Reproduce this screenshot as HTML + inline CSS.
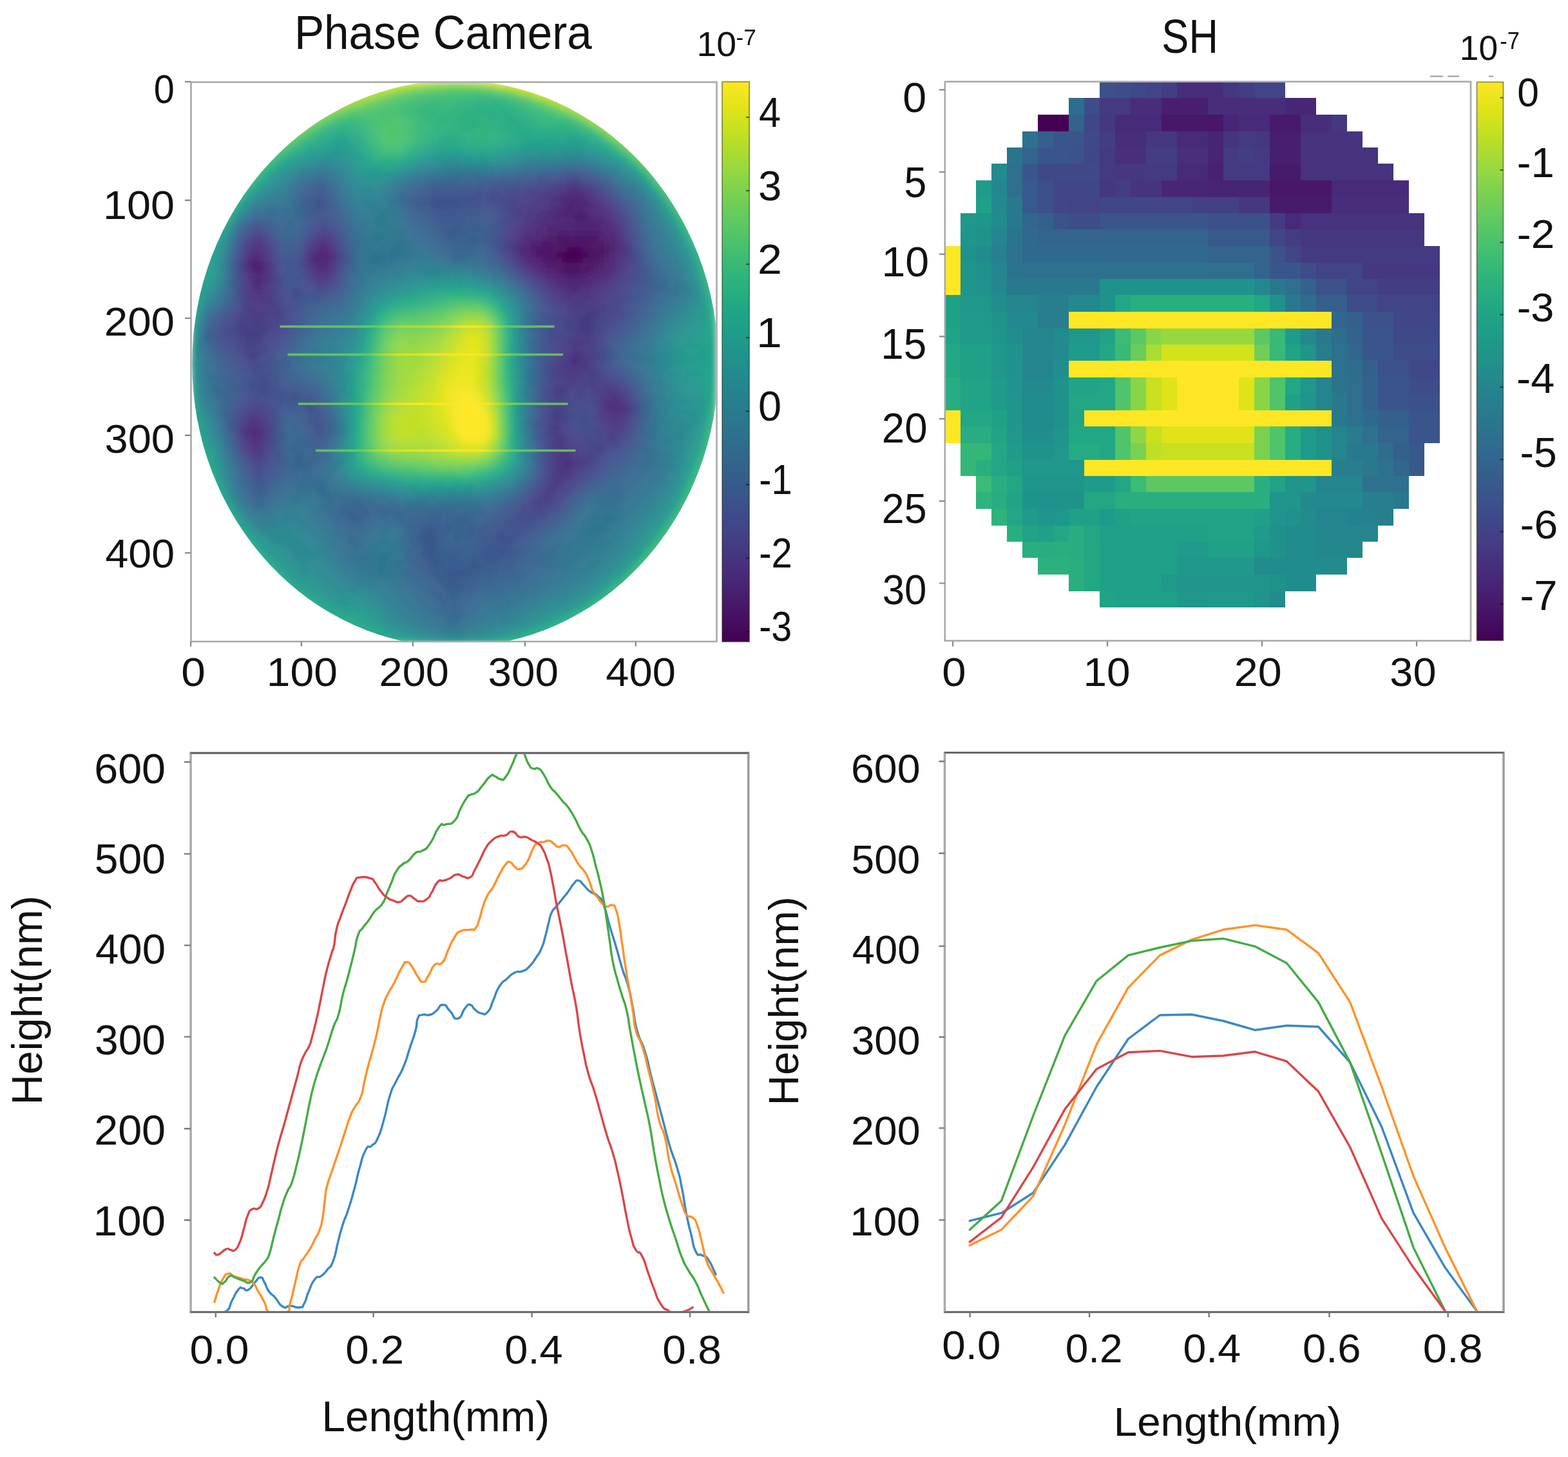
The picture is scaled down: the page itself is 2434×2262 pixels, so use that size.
<!DOCTYPE html><html><head><meta charset="utf-8"><title>Phase Camera vs SH</title><style>html,body{margin:0;padding:0;background:#fff;overflow:hidden}svg{display:block}text{font-family:"Liberation Sans",Arial,sans-serif;fill:#111}</style></head><body>
<svg width="2434" height="2262" viewBox="0 0 2434 2262">
<defs>
<clipPath id="pcClip"><ellipse cx="706.7" cy="564.5" rx="408.5" ry="439.8"/></clipPath>
<clipPath id="pcRect"><rect x="297.5" y="128.5" width="814" height="866.5"/></clipPath>
<filter id="blur" x="-5%" y="-5%" width="110%" height="110%"><feGaussianBlur stdDeviation="5"/></filter>
<linearGradient id="vir" x1="0" y1="0" x2="0" y2="1"><stop offset="0.000" stop-color="#fde725"/><stop offset="0.050" stop-color="#dfe318"/><stop offset="0.100" stop-color="#bddf26"/><stop offset="0.150" stop-color="#9bd93c"/><stop offset="0.200" stop-color="#7ad151"/><stop offset="0.250" stop-color="#5ec962"/><stop offset="0.300" stop-color="#44bf70"/><stop offset="0.350" stop-color="#2fb47c"/><stop offset="0.400" stop-color="#22a884"/><stop offset="0.450" stop-color="#1e9c89"/><stop offset="0.500" stop-color="#21918c"/><stop offset="0.550" stop-color="#25848e"/><stop offset="0.600" stop-color="#2a788e"/><stop offset="0.650" stop-color="#2f6c8e"/><stop offset="0.700" stop-color="#355f8d"/><stop offset="0.750" stop-color="#3b528b"/><stop offset="0.800" stop-color="#414487"/><stop offset="0.850" stop-color="#463480"/><stop offset="0.900" stop-color="#482475"/><stop offset="0.950" stop-color="#471365"/><stop offset="1.000" stop-color="#440154"/></linearGradient>
<linearGradient id="pl0" gradientUnits="userSpaceOnUse" x1="434.5" y1="0" x2="860.5" y2="0"><stop offset="0.000" stop-color="#6ece58"/><stop offset="0.059" stop-color="#6ece58"/><stop offset="0.118" stop-color="#6ece58"/><stop offset="0.176" stop-color="#6ece58"/><stop offset="0.235" stop-color="#6ece58"/><stop offset="0.294" stop-color="#6ece58"/><stop offset="0.353" stop-color="#6ece58"/><stop offset="0.412" stop-color="#a5db36"/><stop offset="0.471" stop-color="#bade28"/><stop offset="0.529" stop-color="#c0df25"/><stop offset="0.588" stop-color="#d2e21b"/><stop offset="0.647" stop-color="#f4e61e"/><stop offset="0.706" stop-color="#fde725"/><stop offset="0.765" stop-color="#e5e419"/><stop offset="0.824" stop-color="#6ece58"/><stop offset="0.882" stop-color="#6ece58"/><stop offset="0.941" stop-color="#6ece58"/><stop offset="1.000" stop-color="#6ece58"/></linearGradient>
<linearGradient id="pl1" gradientUnits="userSpaceOnUse" x1="446.5" y1="0" x2="874" y2="0"><stop offset="0.000" stop-color="#6ece58"/><stop offset="0.059" stop-color="#6ece58"/><stop offset="0.118" stop-color="#6ece58"/><stop offset="0.176" stop-color="#6ece58"/><stop offset="0.235" stop-color="#6ece58"/><stop offset="0.294" stop-color="#6ece58"/><stop offset="0.353" stop-color="#bade28"/><stop offset="0.412" stop-color="#e5e419"/><stop offset="0.471" stop-color="#ece51b"/><stop offset="0.529" stop-color="#fbe723"/><stop offset="0.588" stop-color="#fde725"/><stop offset="0.647" stop-color="#fde725"/><stop offset="0.706" stop-color="#fde725"/><stop offset="0.765" stop-color="#bade28"/><stop offset="0.824" stop-color="#6ece58"/><stop offset="0.882" stop-color="#6ece58"/><stop offset="0.941" stop-color="#6ece58"/><stop offset="1.000" stop-color="#6ece58"/></linearGradient>
<linearGradient id="pl2" gradientUnits="userSpaceOnUse" x1="463" y1="0" x2="881.5" y2="0"><stop offset="0.000" stop-color="#6ece58"/><stop offset="0.059" stop-color="#6ece58"/><stop offset="0.118" stop-color="#6ece58"/><stop offset="0.176" stop-color="#6ece58"/><stop offset="0.235" stop-color="#6ece58"/><stop offset="0.294" stop-color="#b8de29"/><stop offset="0.353" stop-color="#efe51c"/><stop offset="0.412" stop-color="#fde725"/><stop offset="0.471" stop-color="#fde725"/><stop offset="0.529" stop-color="#fde725"/><stop offset="0.588" stop-color="#fde725"/><stop offset="0.647" stop-color="#fde725"/><stop offset="0.706" stop-color="#fde725"/><stop offset="0.765" stop-color="#98d83e"/><stop offset="0.824" stop-color="#6ece58"/><stop offset="0.882" stop-color="#6ece58"/><stop offset="0.941" stop-color="#6ece58"/><stop offset="1.000" stop-color="#6ece58"/></linearGradient>
<linearGradient id="pl3" gradientUnits="userSpaceOnUse" x1="490" y1="0" x2="893.5" y2="0"><stop offset="0.000" stop-color="#6ece58"/><stop offset="0.059" stop-color="#6ece58"/><stop offset="0.118" stop-color="#6ece58"/><stop offset="0.176" stop-color="#6ece58"/><stop offset="0.235" stop-color="#b2dd2d"/><stop offset="0.294" stop-color="#dfe318"/><stop offset="0.353" stop-color="#ece51b"/><stop offset="0.412" stop-color="#efe51c"/><stop offset="0.471" stop-color="#f8e621"/><stop offset="0.529" stop-color="#fde725"/><stop offset="0.588" stop-color="#fde725"/><stop offset="0.647" stop-color="#fde725"/><stop offset="0.706" stop-color="#b5de2b"/><stop offset="0.765" stop-color="#6ece58"/><stop offset="0.824" stop-color="#6ece58"/><stop offset="0.882" stop-color="#6ece58"/><stop offset="0.941" stop-color="#6ece58"/><stop offset="1.000" stop-color="#6ece58"/></linearGradient>
</defs>
<rect width="2434" height="2262" fill="#fff"/>
<g clip-path="url(#pcRect)"><g clip-path="url(#pcClip)"><g filter="url(#blur)">
<path fill="#450457" d="M880.5 383.5h24v8h-24zM864.5 391.5h48v8h-48zM872.5 399.5h32v8h-32z"/>
<path fill="#46075a" d="M864.5 383.5h16v8h-16zM904.5 383.5h16v8h-16zM856.5 391.5h8v8h-8zM912.5 391.5h8v8h-8zM856.5 399.5h16v8h-16zM904.5 399.5h16v8h-16zM872.5 407.5h32v8h-32z"/>
<path fill="#460a5d" d="M864.5 375.5h56v8h-56zM848.5 383.5h16v8h-16zM920.5 383.5h8v8h-8zM848.5 391.5h8v8h-8zM920.5 391.5h8v8h-8zM848.5 399.5h8v8h-8zM920.5 399.5h8v8h-8zM864.5 407.5h8v8h-8zM904.5 407.5h8v8h-8z"/>
<path fill="#470d60" d="M888.5 367.5h24v8h-24zM856.5 375.5h8v8h-8zM920.5 375.5h8v8h-8zM840.5 383.5h8v8h-8zM928.5 383.5h8v8h-8zM840.5 391.5h8v8h-8zM928.5 391.5h8v8h-8zM856.5 407.5h8v8h-8zM912.5 407.5h8v8h-8zM872.5 415.5h32v8h-32z"/>
<path fill="#471063" d="M864.5 367.5h24v8h-24zM912.5 367.5h16v8h-16zM840.5 375.5h16v8h-16zM928.5 375.5h8v8h-8zM832.5 383.5h8v8h-8zM832.5 391.5h8v8h-8zM840.5 399.5h8v8h-8zM928.5 399.5h8v8h-8zM848.5 407.5h8v8h-8zM920.5 407.5h8v8h-8zM864.5 415.5h8v8h-8zM904.5 415.5h16v8h-16z"/>
<path fill="#471365" d="M888.5 359.5h40v8h-40zM848.5 367.5h16v8h-16zM928.5 367.5h8v8h-8zM832.5 375.5h8v8h-8zM936.5 375.5h8v8h-8zM936.5 383.5h8v8h-8zM936.5 391.5h8v8h-8zM832.5 399.5h8v8h-8zM840.5 407.5h8v8h-8zM928.5 407.5h8v8h-8zM856.5 415.5h8v8h-8zM872.5 423.5h32v8h-32z"/>
<path fill="#481769" d="M864.5 359.5h24v8h-24zM928.5 359.5h8v8h-8zM840.5 367.5h8v8h-8zM936.5 367.5h8v8h-8zM824.5 375.5h8v8h-8zM824.5 383.5h8v8h-8zM824.5 391.5h8v8h-8zM936.5 399.5h8v8h-8zM848.5 415.5h8v8h-8zM920.5 415.5h8v8h-8zM864.5 423.5h8v8h-8zM904.5 423.5h8v8h-8z"/>
<path fill="#481a6c" d="M880.5 351.5h56v8h-56zM848.5 359.5h16v8h-16zM936.5 359.5h8v8h-8zM832.5 367.5h8v8h-8zM944.5 375.5h8v8h-8zM816.5 383.5h8v8h-8zM944.5 383.5h8v8h-8zM944.5 391.5h8v8h-8zM496.5 399.5h8v8h-8zM824.5 399.5h8v8h-8zM832.5 407.5h8v8h-8zM936.5 407.5h8v8h-8zM928.5 415.5h8v8h-8zM856.5 423.5h8v8h-8zM912.5 423.5h8v8h-8zM880.5 431.5h16v8h-16z"/>
<path fill="#481c6e" d="M888.5 343.5h40v8h-40zM864.5 351.5h16v8h-16zM936.5 351.5h8v8h-8zM840.5 359.5h8v8h-8zM824.5 367.5h8v8h-8zM944.5 367.5h8v8h-8zM816.5 375.5h8v8h-8zM496.5 391.5h8v8h-8zM816.5 391.5h8v8h-8zM944.5 399.5h8v8h-8zM496.5 407.5h8v8h-8zM840.5 415.5h8v8h-8zM920.5 423.5h8v8h-8zM872.5 431.5h8v8h-8zM896.5 431.5h16v8h-16z"/>
<path fill="#481f70" d="M896.5 319.5h8v8h-8zM888.5 327.5h24v8h-24zM888.5 335.5h32v8h-32zM872.5 343.5h16v8h-16zM928.5 343.5h8v8h-8zM848.5 351.5h16v8h-16zM832.5 359.5h8v8h-8zM944.5 359.5h8v8h-8zM816.5 367.5h8v8h-8zM496.5 383.5h8v8h-8zM952.5 383.5h8v8h-8zM488.5 391.5h8v8h-8zM504.5 391.5h8v8h-8zM392.5 399.5h8v8h-8zM488.5 399.5h8v8h-8zM504.5 399.5h8v8h-8zM816.5 399.5h8v8h-8zM392.5 407.5h16v8h-16zM944.5 407.5h8v8h-8zM392.5 415.5h16v8h-16zM936.5 415.5h8v8h-8zM848.5 423.5h8v8h-8zM928.5 423.5h8v8h-8zM864.5 431.5h8v8h-8zM912.5 431.5h8v8h-8z"/>
<path fill="#482173" d="M888.5 303.5h8v8h-8zM880.5 311.5h32v8h-32zM872.5 319.5h24v8h-24zM904.5 319.5h8v8h-8zM872.5 327.5h16v8h-16zM912.5 327.5h8v8h-8zM872.5 335.5h16v8h-16zM920.5 335.5h16v8h-16zM856.5 343.5h16v8h-16zM936.5 343.5h8v8h-8zM840.5 351.5h8v8h-8zM944.5 351.5h8v8h-8zM824.5 359.5h8v8h-8zM952.5 367.5h8v8h-8zM808.5 375.5h8v8h-8zM952.5 375.5h8v8h-8zM808.5 383.5h8v8h-8zM392.5 391.5h8v8h-8zM808.5 391.5h8v8h-8zM952.5 391.5h8v8h-8zM400.5 399.5h8v8h-8zM488.5 407.5h8v8h-8zM504.5 407.5h8v8h-8zM824.5 407.5h8v8h-8zM832.5 415.5h8v8h-8zM392.5 423.5h16v8h-16zM856.5 431.5h8v8h-8zM920.5 431.5h8v8h-8zM872.5 439.5h32v8h-32z"/>
<path fill="#482475" d="M872.5 303.5h16v8h-16zM896.5 303.5h16v8h-16zM872.5 311.5h8v8h-8zM912.5 311.5h8v8h-8zM864.5 319.5h8v8h-8zM912.5 319.5h8v8h-8zM864.5 327.5h8v8h-8zM920.5 327.5h8v8h-8zM856.5 335.5h16v8h-16zM840.5 343.5h16v8h-16zM832.5 351.5h8v8h-8zM816.5 359.5h8v8h-8zM952.5 359.5h8v8h-8zM808.5 367.5h8v8h-8zM488.5 383.5h8v8h-8zM504.5 383.5h8v8h-8zM400.5 391.5h8v8h-8zM384.5 399.5h8v8h-8zM952.5 399.5h8v8h-8zM384.5 407.5h8v8h-8zM384.5 415.5h8v8h-8zM496.5 415.5h8v8h-8zM944.5 415.5h8v8h-8zM840.5 423.5h8v8h-8zM936.5 423.5h8v8h-8zM392.5 431.5h16v8h-16zM864.5 439.5h8v8h-8zM904.5 439.5h16v8h-16zM392.5 663.5h8v8h-8zM392.5 671.5h8v8h-8z"/>
<path fill="#482677" d="M880.5 295.5h24v8h-24zM864.5 303.5h8v8h-8zM864.5 311.5h8v8h-8zM856.5 319.5h8v8h-8zM920.5 319.5h8v8h-8zM848.5 327.5h16v8h-16zM928.5 327.5h8v8h-8zM848.5 335.5h8v8h-8zM936.5 335.5h8v8h-8zM832.5 343.5h8v8h-8zM944.5 343.5h8v8h-8zM824.5 351.5h8v8h-8zM496.5 375.5h8v8h-8zM392.5 383.5h8v8h-8zM384.5 391.5h8v8h-8zM808.5 399.5h8v8h-8zM408.5 407.5h8v8h-8zM816.5 407.5h8v8h-8zM952.5 407.5h8v8h-8zM408.5 415.5h8v8h-8zM488.5 415.5h8v8h-8zM504.5 415.5h8v8h-8zM384.5 423.5h8v8h-8zM848.5 431.5h8v8h-8zM928.5 431.5h8v8h-8zM392.5 439.5h16v8h-16zM880.5 447.5h24v8h-24zM952.5 631.5h8v8h-8zM392.5 655.5h8v8h-8zM384.5 663.5h8v8h-8zM384.5 671.5h8v8h-8zM392.5 679.5h8v8h-8z"/>
<path fill="#472a7a" d="M872.5 295.5h8v8h-8zM904.5 295.5h8v8h-8zM856.5 303.5h8v8h-8zM912.5 303.5h8v8h-8zM856.5 311.5h8v8h-8zM920.5 311.5h8v8h-8zM848.5 319.5h8v8h-8zM928.5 319.5h8v8h-8zM840.5 327.5h8v8h-8zM936.5 327.5h8v8h-8zM832.5 335.5h16v8h-16zM824.5 343.5h8v8h-8zM816.5 351.5h8v8h-8zM952.5 351.5h8v8h-8zM808.5 359.5h8v8h-8zM504.5 375.5h8v8h-8zM800.5 375.5h8v8h-8zM960.5 375.5h8v8h-8zM400.5 383.5h8v8h-8zM800.5 383.5h8v8h-8zM960.5 383.5h8v8h-8zM480.5 391.5h8v8h-8zM512.5 391.5h8v8h-8zM800.5 391.5h8v8h-8zM960.5 391.5h8v8h-8zM408.5 399.5h8v8h-8zM480.5 399.5h8v8h-8zM512.5 399.5h8v8h-8zM480.5 407.5h8v8h-8zM824.5 415.5h8v8h-8zM952.5 415.5h8v8h-8zM408.5 423.5h8v8h-8zM944.5 423.5h8v8h-8zM384.5 431.5h8v8h-8zM408.5 431.5h8v8h-8zM936.5 431.5h8v8h-8zM856.5 439.5h8v8h-8zM920.5 439.5h8v8h-8zM392.5 447.5h16v8h-16zM872.5 447.5h8v8h-8zM904.5 447.5h8v8h-8zM952.5 615.5h8v8h-8zM944.5 623.5h16v8h-16zM944.5 631.5h8v8h-8zM952.5 639.5h8v8h-8zM384.5 655.5h8v8h-8zM400.5 663.5h8v8h-8zM400.5 671.5h8v8h-8zM384.5 679.5h8v8h-8zM400.5 679.5h8v8h-8zM392.5 687.5h8v8h-8z"/>
<path fill="#472d7b" d="M864.5 295.5h8v8h-8zM848.5 311.5h8v8h-8zM840.5 319.5h8v8h-8zM832.5 327.5h8v8h-8zM824.5 335.5h8v8h-8zM944.5 335.5h8v8h-8zM952.5 343.5h8v8h-8zM800.5 367.5h8v8h-8zM960.5 367.5h8v8h-8zM392.5 375.5h8v8h-8zM488.5 375.5h8v8h-8zM384.5 383.5h8v8h-8zM512.5 383.5h8v8h-8zM408.5 391.5h8v8h-8zM960.5 399.5h8v8h-8zM512.5 407.5h8v8h-8zM496.5 423.5h8v8h-8zM832.5 423.5h8v8h-8zM840.5 431.5h8v8h-8zM384.5 439.5h8v8h-8zM408.5 439.5h8v8h-8zM928.5 439.5h8v8h-8zM864.5 447.5h8v8h-8zM912.5 447.5h8v8h-8zM400.5 455.5h8v8h-8zM888.5 455.5h8v8h-8zM944.5 615.5h8v8h-8zM960.5 623.5h8v8h-8zM960.5 631.5h8v8h-8zM944.5 639.5h8v8h-8zM960.5 639.5h8v8h-8zM952.5 647.5h8v8h-8zM400.5 655.5h8v8h-8zM400.5 687.5h8v8h-8z"/>
<path fill="#472f7d" d="M880.5 287.5h24v8h-24zM856.5 295.5h8v8h-8zM912.5 295.5h8v8h-8zM848.5 303.5h8v8h-8zM920.5 303.5h8v8h-8zM840.5 311.5h8v8h-8zM928.5 311.5h8v8h-8zM832.5 319.5h8v8h-8zM936.5 319.5h8v8h-8zM824.5 327.5h8v8h-8zM816.5 343.5h8v8h-8zM808.5 351.5h8v8h-8zM800.5 359.5h8v8h-8zM960.5 359.5h8v8h-8zM496.5 367.5h8v8h-8zM400.5 375.5h8v8h-8zM480.5 383.5h8v8h-8zM800.5 399.5h8v8h-8zM808.5 407.5h8v8h-8zM960.5 407.5h8v8h-8zM480.5 415.5h8v8h-8zM488.5 423.5h8v8h-8zM504.5 423.5h8v8h-8zM952.5 423.5h8v8h-8zM944.5 431.5h8v8h-8zM848.5 439.5h8v8h-8zM936.5 439.5h8v8h-8zM408.5 447.5h8v8h-8zM856.5 447.5h8v8h-8zM920.5 447.5h8v8h-8zM392.5 455.5h8v8h-8zM872.5 455.5h16v8h-16zM896.5 455.5h24v8h-24zM400.5 463.5h8v8h-8zM944.5 607.5h16v8h-16zM936.5 615.5h8v8h-8zM960.5 615.5h8v8h-8zM936.5 623.5h8v8h-8zM936.5 631.5h8v8h-8zM384.5 647.5h16v8h-16zM944.5 647.5h8v8h-8zM960.5 647.5h8v8h-8zM952.5 655.5h8v8h-8zM376.5 663.5h8v8h-8zM376.5 671.5h8v8h-8zM384.5 687.5h8v8h-8zM872.5 711.5h16v8h-16zM872.5 719.5h16v8h-16z"/>
<path fill="#46327e" d="M872.5 287.5h8v8h-8zM904.5 287.5h8v8h-8zM848.5 295.5h8v8h-8zM840.5 303.5h8v8h-8zM832.5 311.5h8v8h-8zM824.5 319.5h8v8h-8zM816.5 327.5h8v8h-8zM944.5 327.5h8v8h-8zM816.5 335.5h8v8h-8zM952.5 335.5h8v8h-8zM808.5 343.5h8v8h-8zM960.5 351.5h8v8h-8zM504.5 367.5h8v8h-8zM384.5 375.5h8v8h-8zM512.5 375.5h8v8h-8zM792.5 375.5h8v8h-8zM408.5 383.5h8v8h-8zM792.5 383.5h8v8h-8zM376.5 399.5h8v8h-8zM376.5 407.5h8v8h-8zM376.5 415.5h8v8h-8zM512.5 415.5h8v8h-8zM816.5 415.5h8v8h-8zM960.5 415.5h8v8h-8zM384.5 447.5h8v8h-8zM928.5 447.5h8v8h-8zM408.5 455.5h8v8h-8zM864.5 455.5h8v8h-8zM920.5 455.5h8v8h-8zM392.5 463.5h8v8h-8zM408.5 463.5h8v8h-8zM880.5 463.5h32v8h-32zM400.5 471.5h8v8h-8zM888.5 543.5h16v8h-16zM880.5 551.5h24v8h-24zM880.5 559.5h24v8h-24zM888.5 567.5h8v8h-8zM936.5 607.5h8v8h-8zM936.5 639.5h8v8h-8zM400.5 647.5h8v8h-8zM376.5 655.5h8v8h-8zM944.5 655.5h8v8h-8zM408.5 671.5h8v8h-8zM376.5 679.5h8v8h-8zM392.5 695.5h16v8h-16zM872.5 695.5h8v8h-8zM864.5 703.5h24v8h-24zM864.5 711.5h8v8h-8zM888.5 711.5h8v8h-8zM864.5 719.5h8v8h-8zM888.5 719.5h8v8h-8zM864.5 727.5h24v8h-24z"/>
<path fill="#463480" d="M864.5 287.5h8v8h-8zM840.5 295.5h8v8h-8zM832.5 303.5h8v8h-8zM824.5 311.5h8v8h-8zM816.5 319.5h8v8h-8zM808.5 335.5h8v8h-8zM960.5 343.5h8v8h-8zM800.5 351.5h8v8h-8zM488.5 367.5h8v8h-8zM792.5 367.5h8v8h-8zM480.5 375.5h8v8h-8zM968.5 375.5h8v8h-8zM968.5 383.5h8v8h-8zM376.5 391.5h8v8h-8zM792.5 391.5h8v8h-8zM968.5 391.5h8v8h-8zM968.5 399.5h8v8h-8zM416.5 407.5h8v8h-8zM416.5 415.5h8v8h-8zM376.5 423.5h8v8h-8zM416.5 423.5h8v8h-8zM480.5 423.5h8v8h-8zM824.5 423.5h8v8h-8zM960.5 423.5h8v8h-8zM416.5 431.5h8v8h-8zM496.5 431.5h8v8h-8zM832.5 431.5h8v8h-8zM952.5 431.5h8v8h-8zM416.5 439.5h8v8h-8zM944.5 439.5h8v8h-8zM936.5 447.5h8v8h-8zM384.5 455.5h8v8h-8zM928.5 455.5h8v8h-8zM384.5 463.5h8v8h-8zM872.5 463.5h8v8h-8zM912.5 463.5h16v8h-16zM392.5 471.5h8v8h-8zM408.5 471.5h8v8h-8zM400.5 479.5h8v8h-8zM888.5 535.5h16v8h-16zM880.5 543.5h8v8h-8zM904.5 543.5h8v8h-8zM904.5 551.5h8v8h-8zM872.5 559.5h8v8h-8zM904.5 559.5h8v8h-8zM872.5 567.5h16v8h-16zM896.5 567.5h16v8h-16zM880.5 575.5h24v8h-24zM936.5 599.5h16v8h-16zM960.5 607.5h8v8h-8zM928.5 615.5h8v8h-8zM968.5 623.5h8v8h-8zM968.5 631.5h8v8h-8zM392.5 639.5h8v8h-8zM968.5 639.5h8v8h-8zM936.5 647.5h8v8h-8zM408.5 655.5h8v8h-8zM960.5 655.5h8v8h-8zM408.5 663.5h8v8h-8zM952.5 663.5h8v8h-8zM408.5 679.5h8v8h-8zM864.5 687.5h16v8h-16zM384.5 695.5h8v8h-8zM864.5 695.5h8v8h-8zM880.5 695.5h8v8h-8zM888.5 703.5h8v8h-8zM896.5 711.5h8v8h-8zM896.5 719.5h8v8h-8zM888.5 727.5h8v8h-8zM864.5 735.5h24v8h-24zM864.5 743.5h8v8h-8z"/>
<path fill="#453781" d="M856.5 287.5h8v8h-8zM912.5 287.5h8v8h-8zM920.5 295.5h8v8h-8zM824.5 303.5h8v8h-8zM928.5 303.5h8v8h-8zM816.5 311.5h8v8h-8zM936.5 311.5h8v8h-8zM808.5 319.5h8v8h-8zM944.5 319.5h8v8h-8zM808.5 327.5h8v8h-8zM952.5 327.5h8v8h-8zM800.5 343.5h8v8h-8zM792.5 359.5h8v8h-8zM392.5 367.5h16v8h-16zM968.5 367.5h8v8h-8zM408.5 375.5h8v8h-8zM472.5 391.5h8v8h-8zM520.5 391.5h8v8h-8zM416.5 399.5h8v8h-8zM472.5 399.5h8v8h-8zM520.5 399.5h8v8h-8zM472.5 407.5h8v8h-8zM800.5 407.5h8v8h-8zM968.5 407.5h8v8h-8zM512.5 423.5h8v8h-8zM376.5 431.5h8v8h-8zM488.5 431.5h8v8h-8zM504.5 431.5h8v8h-8zM840.5 439.5h8v8h-8zM952.5 439.5h8v8h-8zM416.5 447.5h8v8h-8zM848.5 447.5h8v8h-8zM944.5 447.5h8v8h-8zM416.5 455.5h8v8h-8zM856.5 455.5h8v8h-8zM936.5 455.5h8v8h-8zM416.5 463.5h8v8h-8zM864.5 463.5h8v8h-8zM928.5 463.5h8v8h-8zM384.5 471.5h8v8h-8zM416.5 471.5h8v8h-8zM880.5 471.5h48v8h-48zM384.5 479.5h16v8h-16zM408.5 479.5h8v8h-8zM896.5 479.5h8v8h-8zM392.5 487.5h24v8h-24zM896.5 519.5h8v8h-8zM880.5 527.5h32v8h-32zM880.5 535.5h8v8h-8zM904.5 535.5h8v8h-8zM872.5 543.5h8v8h-8zM872.5 551.5h8v8h-8zM872.5 575.5h8v8h-8zM904.5 575.5h8v8h-8zM872.5 583.5h32v8h-32zM928.5 599.5h8v8h-8zM952.5 599.5h8v8h-8zM928.5 607.5h8v8h-8zM968.5 615.5h8v8h-8zM928.5 623.5h8v8h-8zM928.5 631.5h8v8h-8zM384.5 639.5h8v8h-8zM400.5 639.5h8v8h-8zM376.5 647.5h8v8h-8zM968.5 647.5h8v8h-8zM936.5 655.5h8v8h-8zM944.5 663.5h8v8h-8zM960.5 663.5h8v8h-8zM864.5 671.5h8v8h-8zM856.5 679.5h24v8h-24zM376.5 687.5h8v8h-8zM408.5 687.5h8v8h-8zM856.5 687.5h8v8h-8zM880.5 687.5h8v8h-8zM856.5 695.5h8v8h-8zM888.5 695.5h8v8h-8zM392.5 703.5h16v8h-16zM856.5 703.5h8v8h-8zM896.5 703.5h8v8h-8zM856.5 711.5h8v8h-8zM856.5 719.5h8v8h-8zM856.5 727.5h8v8h-8zM856.5 735.5h8v8h-8zM856.5 743.5h8v8h-8zM872.5 743.5h8v8h-8zM856.5 751.5h16v8h-16z"/>
<path fill="#443a83" d="M880.5 279.5h16v8h-16zM848.5 287.5h8v8h-8zM832.5 295.5h8v8h-8zM816.5 303.5h8v8h-8zM808.5 311.5h8v8h-8zM800.5 319.5h8v8h-8zM800.5 327.5h8v8h-8zM800.5 335.5h8v8h-8zM960.5 335.5h8v8h-8zM792.5 351.5h8v8h-8zM496.5 359.5h8v8h-8zM968.5 359.5h8v8h-8zM512.5 367.5h8v8h-8zM376.5 383.5h8v8h-8zM520.5 383.5h8v8h-8zM416.5 391.5h8v8h-8zM792.5 399.5h8v8h-8zM520.5 407.5h8v8h-8zM472.5 415.5h8v8h-8zM808.5 415.5h8v8h-8zM968.5 415.5h8v8h-8zM960.5 431.5h8v8h-8zM376.5 439.5h8v8h-8zM376.5 447.5h8v8h-8zM944.5 455.5h8v8h-8zM936.5 463.5h8v8h-8zM872.5 471.5h8v8h-8zM928.5 471.5h8v8h-8zM416.5 479.5h8v8h-8zM880.5 479.5h16v8h-16zM904.5 479.5h32v8h-32zM384.5 487.5h8v8h-8zM416.5 487.5h8v8h-8zM888.5 487.5h40v8h-40zM384.5 495.5h32v8h-32zM896.5 495.5h24v8h-24zM392.5 503.5h16v8h-16zM896.5 503.5h24v8h-24zM888.5 511.5h32v8h-32zM880.5 519.5h16v8h-16zM904.5 519.5h16v8h-16zM912.5 527.5h8v8h-8zM872.5 535.5h8v8h-8zM912.5 535.5h8v8h-8zM912.5 543.5h8v8h-8zM864.5 551.5h8v8h-8zM912.5 551.5h8v8h-8zM864.5 559.5h8v8h-8zM912.5 559.5h8v8h-8zM864.5 567.5h8v8h-8zM912.5 567.5h8v8h-8zM864.5 575.5h8v8h-8zM912.5 575.5h8v8h-8zM864.5 583.5h8v8h-8zM904.5 583.5h16v8h-16zM872.5 591.5h24v8h-24zM928.5 591.5h16v8h-16zM920.5 599.5h8v8h-8zM920.5 607.5h8v8h-8zM928.5 639.5h8v8h-8zM408.5 647.5h8v8h-8zM928.5 647.5h8v8h-8zM856.5 655.5h16v8h-16zM968.5 655.5h8v8h-8zM368.5 663.5h8v8h-8zM856.5 663.5h16v8h-16zM936.5 663.5h8v8h-8zM856.5 671.5h8v8h-8zM872.5 671.5h8v8h-8zM944.5 671.5h16v8h-16zM880.5 679.5h8v8h-8zM888.5 687.5h8v8h-8zM408.5 695.5h8v8h-8zM896.5 695.5h8v8h-8zM904.5 703.5h8v8h-8zM904.5 711.5h8v8h-8zM904.5 719.5h8v8h-8zM896.5 727.5h8v8h-8zM888.5 735.5h8v8h-8zM848.5 743.5h8v8h-8zM880.5 743.5h8v8h-8zM848.5 751.5h8v8h-8zM848.5 759.5h16v8h-16zM848.5 767.5h8v8h-8z"/>
<path fill="#433d84" d="M872.5 279.5h8v8h-8zM896.5 279.5h8v8h-8zM840.5 287.5h8v8h-8zM816.5 295.5h16v8h-16zM928.5 295.5h8v8h-8zM808.5 303.5h8v8h-8zM936.5 303.5h8v8h-8zM800.5 311.5h8v8h-8zM792.5 343.5h8v8h-8zM968.5 351.5h8v8h-8zM488.5 359.5h8v8h-8zM504.5 359.5h8v8h-8zM384.5 367.5h8v8h-8zM480.5 367.5h8v8h-8zM784.5 367.5h8v8h-8zM784.5 375.5h8v8h-8zM416.5 383.5h8v8h-8zM472.5 383.5h8v8h-8zM784.5 383.5h8v8h-8zM816.5 423.5h8v8h-8zM968.5 423.5h8v8h-8zM480.5 431.5h8v8h-8zM960.5 439.5h8v8h-8zM952.5 447.5h8v8h-8zM376.5 455.5h8v8h-8zM848.5 455.5h8v8h-8zM376.5 463.5h8v8h-8zM424.5 463.5h8v8h-8zM856.5 463.5h8v8h-8zM944.5 463.5h8v8h-8zM376.5 471.5h8v8h-8zM424.5 471.5h8v8h-8zM864.5 471.5h8v8h-8zM936.5 471.5h8v8h-8zM376.5 479.5h8v8h-8zM424.5 479.5h8v8h-8zM872.5 479.5h8v8h-8zM936.5 479.5h8v8h-8zM376.5 487.5h8v8h-8zM424.5 487.5h8v8h-8zM880.5 487.5h8v8h-8zM928.5 487.5h8v8h-8zM376.5 495.5h8v8h-8zM416.5 495.5h8v8h-8zM880.5 495.5h16v8h-16zM920.5 495.5h16v8h-16zM376.5 503.5h16v8h-16zM408.5 503.5h16v8h-16zM880.5 503.5h16v8h-16zM920.5 503.5h8v8h-8zM376.5 511.5h40v8h-40zM880.5 511.5h8v8h-8zM920.5 511.5h8v8h-8zM376.5 519.5h32v8h-32zM872.5 519.5h8v8h-8zM920.5 519.5h8v8h-8zM872.5 527.5h8v8h-8zM864.5 543.5h8v8h-8zM920.5 567.5h8v8h-8zM920.5 575.5h8v8h-8zM920.5 583.5h16v8h-16zM864.5 591.5h8v8h-8zM896.5 591.5h32v8h-32zM944.5 591.5h8v8h-8zM864.5 599.5h24v8h-24zM912.5 599.5h8v8h-8zM960.5 599.5h8v8h-8zM864.5 607.5h16v8h-16zM968.5 607.5h8v8h-8zM864.5 615.5h8v8h-8zM920.5 615.5h8v8h-8zM864.5 623.5h8v8h-8zM920.5 623.5h8v8h-8zM392.5 631.5h16v8h-16zM856.5 631.5h16v8h-16zM376.5 639.5h8v8h-8zM408.5 639.5h8v8h-8zM856.5 639.5h16v8h-16zM856.5 647.5h16v8h-16zM368.5 655.5h8v8h-8zM848.5 655.5h8v8h-8zM928.5 655.5h8v8h-8zM848.5 663.5h8v8h-8zM872.5 663.5h8v8h-8zM368.5 671.5h8v8h-8zM848.5 671.5h8v8h-8zM936.5 671.5h8v8h-8zM960.5 671.5h8v8h-8zM904.5 695.5h8v8h-8zM384.5 703.5h8v8h-8zM408.5 703.5h8v8h-8zM848.5 735.5h8v8h-8zM872.5 751.5h8v8h-8zM840.5 759.5h8v8h-8zM864.5 759.5h8v8h-8zM840.5 767.5h8v8h-8zM856.5 767.5h8v8h-8zM840.5 775.5h16v8h-16z"/>
<path fill="#423f85" d="M864.5 279.5h8v8h-8zM904.5 279.5h8v8h-8zM832.5 287.5h8v8h-8zM920.5 287.5h8v8h-8zM808.5 295.5h8v8h-8zM792.5 303.5h16v8h-16zM792.5 311.5h8v8h-8zM944.5 311.5h8v8h-8zM792.5 319.5h8v8h-8zM952.5 319.5h8v8h-8zM792.5 327.5h8v8h-8zM792.5 335.5h8v8h-8zM392.5 359.5h8v8h-8zM784.5 359.5h8v8h-8zM408.5 367.5h8v8h-8zM376.5 375.5h8v8h-8zM520.5 375.5h8v8h-8zM976.5 375.5h8v8h-8zM976.5 383.5h8v8h-8zM784.5 391.5h8v8h-8zM976.5 391.5h8v8h-8zM976.5 399.5h8v8h-8zM976.5 407.5h8v8h-8zM520.5 415.5h8v8h-8zM424.5 423.5h8v8h-8zM472.5 423.5h8v8h-8zM424.5 431.5h8v8h-8zM512.5 431.5h8v8h-8zM824.5 431.5h8v8h-8zM968.5 431.5h8v8h-8zM424.5 439.5h8v8h-8zM488.5 439.5h16v8h-16zM832.5 439.5h8v8h-8zM424.5 447.5h8v8h-8zM840.5 447.5h8v8h-8zM960.5 447.5h8v8h-8zM424.5 455.5h8v8h-8zM952.5 455.5h8v8h-8zM952.5 463.5h8v8h-8zM856.5 471.5h8v8h-8zM944.5 471.5h8v8h-8zM864.5 479.5h8v8h-8zM944.5 479.5h8v8h-8zM368.5 487.5h8v8h-8zM872.5 487.5h8v8h-8zM936.5 487.5h8v8h-8zM368.5 495.5h8v8h-8zM424.5 495.5h8v8h-8zM872.5 495.5h8v8h-8zM936.5 495.5h8v8h-8zM360.5 503.5h16v8h-16zM424.5 503.5h8v8h-8zM872.5 503.5h8v8h-8zM928.5 503.5h8v8h-8zM360.5 511.5h16v8h-16zM416.5 511.5h8v8h-8zM872.5 511.5h8v8h-8zM928.5 511.5h8v8h-8zM368.5 519.5h8v8h-8zM408.5 519.5h8v8h-8zM376.5 527.5h32v8h-32zM864.5 527.5h8v8h-8zM920.5 527.5h8v8h-8zM376.5 535.5h24v8h-24zM864.5 535.5h8v8h-8zM920.5 535.5h8v8h-8zM920.5 543.5h8v8h-8zM920.5 551.5h8v8h-8zM856.5 559.5h8v8h-8zM920.5 559.5h8v8h-8zM856.5 567.5h8v8h-8zM856.5 575.5h8v8h-8zM928.5 575.5h8v8h-8zM856.5 583.5h8v8h-8zM936.5 583.5h8v8h-8zM856.5 591.5h8v8h-8zM952.5 591.5h8v8h-8zM856.5 599.5h8v8h-8zM888.5 599.5h24v8h-24zM856.5 607.5h8v8h-8zM880.5 607.5h8v8h-8zM912.5 607.5h8v8h-8zM856.5 615.5h8v8h-8zM872.5 615.5h8v8h-8zM856.5 623.5h8v8h-8zM872.5 623.5h8v8h-8zM976.5 623.5h8v8h-8zM384.5 631.5h8v8h-8zM872.5 631.5h8v8h-8zM920.5 631.5h8v8h-8zM976.5 631.5h8v8h-8zM848.5 639.5h8v8h-8zM872.5 639.5h8v8h-8zM976.5 639.5h8v8h-8zM368.5 647.5h8v8h-8zM848.5 647.5h8v8h-8zM872.5 647.5h8v8h-8zM872.5 655.5h8v8h-8zM928.5 663.5h8v8h-8zM968.5 663.5h8v8h-8zM880.5 671.5h8v8h-8zM928.5 671.5h8v8h-8zM368.5 679.5h8v8h-8zM848.5 679.5h8v8h-8zM888.5 679.5h8v8h-8zM936.5 679.5h24v8h-24zM848.5 687.5h8v8h-8zM896.5 687.5h8v8h-8zM376.5 695.5h8v8h-8zM848.5 695.5h8v8h-8zM912.5 695.5h8v8h-8zM848.5 703.5h8v8h-8zM912.5 703.5h8v8h-8zM392.5 711.5h16v8h-16zM912.5 711.5h8v8h-8zM848.5 719.5h8v8h-8zM912.5 719.5h8v8h-8zM848.5 727.5h8v8h-8zM904.5 727.5h8v8h-8zM896.5 735.5h8v8h-8zM888.5 743.5h8v8h-8zM840.5 751.5h8v8h-8zM832.5 767.5h8v8h-8zM864.5 767.5h8v8h-8zM832.5 775.5h8v8h-8zM856.5 775.5h8v8h-8zM832.5 783.5h16v8h-16z"/>
<path fill="#424186" d="M856.5 279.5h8v8h-8zM824.5 287.5h8v8h-8zM800.5 295.5h8v8h-8zM784.5 303.5h8v8h-8zM784.5 311.5h8v8h-8zM784.5 319.5h8v8h-8zM960.5 327.5h8v8h-8zM968.5 343.5h8v8h-8zM784.5 351.5h8v8h-8zM400.5 359.5h8v8h-8zM512.5 359.5h8v8h-8zM976.5 367.5h8v8h-8zM416.5 375.5h8v8h-8zM472.5 375.5h8v8h-8zM424.5 407.5h8v8h-8zM792.5 407.5h8v8h-8zM424.5 415.5h8v8h-8zM800.5 415.5h8v8h-8zM976.5 415.5h8v8h-8zM504.5 439.5h8v8h-8zM968.5 439.5h8v8h-8zM960.5 455.5h8v8h-8zM848.5 463.5h8v8h-8zM432.5 471.5h8v8h-8zM952.5 471.5h8v8h-8zM368.5 479.5h8v8h-8zM432.5 479.5h8v8h-8zM952.5 479.5h8v8h-8zM432.5 487.5h8v8h-8zM864.5 487.5h8v8h-8zM944.5 487.5h8v8h-8zM360.5 495.5h8v8h-8zM432.5 495.5h8v8h-8zM864.5 495.5h8v8h-8zM944.5 495.5h8v8h-8zM432.5 503.5h8v8h-8zM936.5 503.5h8v8h-8zM352.5 511.5h8v8h-8zM424.5 511.5h8v8h-8zM864.5 511.5h8v8h-8zM360.5 519.5h8v8h-8zM416.5 519.5h8v8h-8zM864.5 519.5h8v8h-8zM928.5 519.5h8v8h-8zM368.5 527.5h8v8h-8zM408.5 527.5h8v8h-8zM928.5 527.5h8v8h-8zM368.5 535.5h8v8h-8zM400.5 535.5h8v8h-8zM376.5 543.5h32v8h-32zM856.5 543.5h8v8h-8zM384.5 551.5h16v8h-16zM856.5 551.5h8v8h-8zM928.5 567.5h8v8h-8zM944.5 583.5h8v8h-8zM968.5 599.5h8v8h-8zM888.5 607.5h24v8h-24zM880.5 615.5h8v8h-8zM912.5 615.5h8v8h-8zM976.5 615.5h8v8h-8zM392.5 623.5h8v8h-8zM848.5 623.5h8v8h-8zM880.5 623.5h8v8h-8zM376.5 631.5h8v8h-8zM408.5 631.5h8v8h-8zM848.5 631.5h8v8h-8zM920.5 639.5h8v8h-8zM920.5 647.5h8v8h-8zM976.5 647.5h8v8h-8zM416.5 655.5h8v8h-8zM416.5 663.5h8v8h-8zM880.5 663.5h8v8h-8zM416.5 671.5h8v8h-8zM888.5 671.5h8v8h-8zM416.5 679.5h8v8h-8zM896.5 679.5h8v8h-8zM928.5 679.5h8v8h-8zM416.5 687.5h8v8h-8zM904.5 687.5h40v8h-40zM920.5 695.5h8v8h-8zM920.5 703.5h8v8h-8zM408.5 711.5h8v8h-8zM848.5 711.5h8v8h-8zM920.5 711.5h8v8h-8zM840.5 743.5h8v8h-8zM880.5 751.5h8v8h-8zM832.5 759.5h8v8h-8zM872.5 759.5h8v8h-8zM824.5 775.5h8v8h-8zM824.5 783.5h8v8h-8zM848.5 783.5h8v8h-8z"/>
<path fill="#414487" d="M848.5 279.5h8v8h-8zM912.5 279.5h8v8h-8zM816.5 287.5h8v8h-8zM784.5 295.5h16v8h-16zM776.5 303.5h8v8h-8zM776.5 311.5h8v8h-8zM784.5 327.5h8v8h-8zM784.5 335.5h8v8h-8zM968.5 335.5h8v8h-8zM784.5 343.5h8v8h-8zM496.5 351.5h16v8h-16zM480.5 359.5h8v8h-8zM976.5 359.5h8v8h-8zM520.5 367.5h8v8h-8zM776.5 375.5h8v8h-8zM776.5 383.5h8v8h-8zM368.5 399.5h8v8h-8zM424.5 399.5h8v8h-8zM464.5 399.5h8v8h-8zM784.5 399.5h8v8h-8zM368.5 407.5h8v8h-8zM464.5 407.5h8v8h-8zM368.5 415.5h8v8h-8zM368.5 423.5h8v8h-8zM520.5 423.5h8v8h-8zM808.5 423.5h8v8h-8zM976.5 423.5h8v8h-8zM472.5 431.5h8v8h-8zM976.5 431.5h8v8h-8zM480.5 439.5h8v8h-8zM968.5 447.5h8v8h-8zM432.5 455.5h8v8h-8zM840.5 455.5h8v8h-8zM432.5 463.5h8v8h-8zM960.5 463.5h8v8h-8zM368.5 471.5h8v8h-8zM960.5 471.5h8v8h-8zM856.5 479.5h8v8h-8zM360.5 487.5h8v8h-8zM440.5 487.5h8v8h-8zM952.5 487.5h8v8h-8zM440.5 495.5h8v8h-8zM352.5 503.5h8v8h-8zM864.5 503.5h8v8h-8zM944.5 503.5h8v8h-8zM432.5 511.5h8v8h-8zM936.5 511.5h8v8h-8zM352.5 519.5h8v8h-8zM424.5 519.5h8v8h-8zM360.5 527.5h8v8h-8zM416.5 527.5h8v8h-8zM408.5 535.5h8v8h-8zM856.5 535.5h8v8h-8zM928.5 535.5h8v8h-8zM368.5 543.5h8v8h-8zM408.5 543.5h8v8h-8zM928.5 543.5h8v8h-8zM376.5 551.5h8v8h-8zM400.5 551.5h8v8h-8zM928.5 551.5h8v8h-8zM384.5 559.5h16v8h-16zM928.5 559.5h8v8h-8zM936.5 575.5h8v8h-8zM960.5 591.5h8v8h-8zM848.5 599.5h8v8h-8zM848.5 607.5h8v8h-8zM848.5 615.5h8v8h-8zM888.5 615.5h24v8h-24zM384.5 623.5h8v8h-8zM400.5 623.5h16v8h-16zM912.5 623.5h8v8h-8zM880.5 631.5h8v8h-8zM368.5 639.5h8v8h-8zM416.5 639.5h8v8h-8zM880.5 639.5h8v8h-8zM416.5 647.5h8v8h-8zM880.5 647.5h8v8h-8zM880.5 655.5h8v8h-8zM920.5 655.5h8v8h-8zM976.5 655.5h8v8h-8zM840.5 663.5h8v8h-8zM920.5 663.5h8v8h-8zM920.5 671.5h8v8h-8zM968.5 671.5h8v8h-8zM904.5 679.5h24v8h-24zM960.5 679.5h8v8h-8zM368.5 687.5h8v8h-8zM944.5 687.5h16v8h-16zM416.5 695.5h8v8h-8zM928.5 695.5h16v8h-16zM928.5 703.5h8v8h-8zM384.5 711.5h8v8h-8zM392.5 719.5h16v8h-16zM920.5 719.5h8v8h-8zM912.5 727.5h8v8h-8zM904.5 735.5h8v8h-8zM824.5 767.5h8v8h-8zM816.5 783.5h8v8h-8zM856.5 783.5h8v8h-8zM824.5 791.5h24v8h-24z"/>
<path fill="#404688" d="M840.5 279.5h8v8h-8zM808.5 287.5h8v8h-8zM928.5 287.5h8v8h-8zM776.5 295.5h8v8h-8zM936.5 295.5h8v8h-8zM768.5 303.5h8v8h-8zM944.5 303.5h8v8h-8zM768.5 311.5h8v8h-8zM952.5 311.5h8v8h-8zM776.5 319.5h8v8h-8zM960.5 319.5h8v8h-8zM776.5 327.5h8v8h-8zM488.5 351.5h8v8h-8zM384.5 359.5h8v8h-8zM408.5 359.5h8v8h-8zM776.5 359.5h8v8h-8zM376.5 367.5h8v8h-8zM472.5 367.5h8v8h-8zM776.5 367.5h8v8h-8zM368.5 391.5h8v8h-8zM424.5 391.5h8v8h-8zM464.5 391.5h8v8h-8zM776.5 391.5h8v8h-8zM464.5 415.5h8v8h-8zM368.5 431.5h8v8h-8zM816.5 431.5h8v8h-8zM368.5 439.5h8v8h-8zM512.5 439.5h8v8h-8zM976.5 439.5h8v8h-8zM368.5 447.5h8v8h-8zM432.5 447.5h8v8h-8zM832.5 447.5h8v8h-8zM368.5 455.5h8v8h-8zM968.5 455.5h8v8h-8zM368.5 463.5h8v8h-8zM968.5 463.5h8v8h-8zM440.5 471.5h8v8h-8zM848.5 471.5h8v8h-8zM440.5 479.5h8v8h-8zM960.5 479.5h8v8h-8zM856.5 487.5h8v8h-8zM960.5 487.5h8v8h-8zM352.5 495.5h8v8h-8zM856.5 495.5h8v8h-8zM952.5 495.5h8v8h-8zM344.5 503.5h8v8h-8zM440.5 503.5h8v8h-8zM856.5 503.5h8v8h-8zM344.5 511.5h8v8h-8zM856.5 511.5h8v8h-8zM944.5 511.5h8v8h-8zM344.5 519.5h8v8h-8zM856.5 519.5h8v8h-8zM936.5 519.5h8v8h-8zM352.5 527.5h8v8h-8zM856.5 527.5h8v8h-8zM360.5 535.5h8v8h-8zM416.5 535.5h8v8h-8zM408.5 551.5h8v8h-8zM376.5 559.5h8v8h-8zM400.5 559.5h8v8h-8zM848.5 559.5h8v8h-8zM384.5 567.5h24v8h-24zM848.5 567.5h8v8h-8zM848.5 575.5h8v8h-8zM848.5 583.5h8v8h-8zM952.5 583.5h8v8h-8zM848.5 591.5h8v8h-8zM976.5 607.5h8v8h-8zM400.5 615.5h8v8h-8zM888.5 623.5h8v8h-8zM904.5 623.5h8v8h-8zM416.5 631.5h8v8h-8zM888.5 631.5h8v8h-8zM912.5 631.5h8v8h-8zM840.5 639.5h8v8h-8zM912.5 639.5h8v8h-8zM840.5 647.5h8v8h-8zM840.5 655.5h8v8h-8zM888.5 655.5h8v8h-8zM888.5 663.5h8v8h-8zM840.5 671.5h8v8h-8zM896.5 671.5h24v8h-24zM840.5 679.5h8v8h-8zM944.5 695.5h8v8h-8zM376.5 703.5h8v8h-8zM416.5 703.5h8v8h-8zM928.5 711.5h8v8h-8zM408.5 719.5h8v8h-8zM840.5 735.5h8v8h-8zM896.5 743.5h8v8h-8zM832.5 751.5h8v8h-8zM888.5 751.5h8v8h-8zM880.5 759.5h8v8h-8zM872.5 767.5h8v8h-8zM816.5 775.5h8v8h-8zM864.5 775.5h8v8h-8zM816.5 791.5h8v8h-8zM848.5 791.5h8v8h-8zM816.5 799.5h16v8h-16z"/>
<path fill="#3f4889" d="M880.5 271.5h24v8h-24zM832.5 279.5h8v8h-8zM792.5 287.5h16v8h-16zM760.5 295.5h16v8h-16zM752.5 303.5h16v8h-16zM760.5 311.5h8v8h-8zM768.5 319.5h8v8h-8zM776.5 335.5h8v8h-8zM496.5 343.5h8v8h-8zM776.5 343.5h8v8h-8zM512.5 351.5h8v8h-8zM776.5 351.5h8v8h-8zM976.5 351.5h8v8h-8zM520.5 359.5h8v8h-8zM416.5 367.5h8v8h-8zM368.5 383.5h8v8h-8zM424.5 383.5h8v8h-8zM464.5 383.5h8v8h-8zM528.5 383.5h8v8h-8zM984.5 383.5h8v8h-8zM528.5 391.5h8v8h-8zM984.5 391.5h8v8h-8zM528.5 399.5h8v8h-8zM984.5 399.5h8v8h-8zM528.5 407.5h8v8h-8zM984.5 407.5h8v8h-8zM984.5 415.5h8v8h-8zM432.5 423.5h8v8h-8zM464.5 423.5h8v8h-8zM984.5 423.5h8v8h-8zM432.5 431.5h8v8h-8zM520.5 431.5h8v8h-8zM432.5 439.5h8v8h-8zM472.5 439.5h8v8h-8zM824.5 439.5h8v8h-8zM488.5 447.5h16v8h-16zM976.5 447.5h8v8h-8zM440.5 463.5h8v8h-8zM840.5 463.5h8v8h-8zM968.5 471.5h8v8h-8zM360.5 479.5h8v8h-8zM848.5 479.5h8v8h-8zM352.5 487.5h8v8h-8zM448.5 487.5h8v8h-8zM960.5 495.5h8v8h-8zM952.5 503.5h8v8h-8zM440.5 511.5h8v8h-8zM432.5 519.5h8v8h-8zM424.5 527.5h8v8h-8zM936.5 527.5h8v8h-8zM352.5 535.5h8v8h-8zM360.5 543.5h8v8h-8zM416.5 543.5h8v8h-8zM848.5 543.5h8v8h-8zM368.5 551.5h8v8h-8zM848.5 551.5h8v8h-8zM408.5 559.5h8v8h-8zM408.5 567.5h8v8h-8zM936.5 567.5h8v8h-8zM392.5 575.5h16v8h-16zM944.5 575.5h8v8h-8zM968.5 591.5h8v8h-8zM384.5 615.5h16v8h-16zM408.5 615.5h8v8h-8zM376.5 623.5h8v8h-8zM416.5 623.5h8v8h-8zM896.5 623.5h8v8h-8zM368.5 631.5h8v8h-8zM840.5 631.5h8v8h-8zM896.5 631.5h16v8h-16zM888.5 639.5h8v8h-8zM888.5 647.5h8v8h-8zM912.5 647.5h8v8h-8zM360.5 655.5h8v8h-8zM912.5 655.5h8v8h-8zM360.5 663.5h8v8h-8zM896.5 663.5h24v8h-24zM976.5 663.5h8v8h-8zM968.5 679.5h8v8h-8zM840.5 687.5h8v8h-8zM960.5 687.5h8v8h-8zM936.5 703.5h8v8h-8zM416.5 711.5h8v8h-8zM384.5 719.5h8v8h-8zM392.5 727.5h16v8h-16zM840.5 727.5h8v8h-8zM920.5 727.5h8v8h-8zM912.5 735.5h8v8h-8zM824.5 759.5h8v8h-8zM808.5 783.5h8v8h-8zM808.5 791.5h8v8h-8zM808.5 799.5h8v8h-8zM832.5 799.5h16v8h-16z"/>
<path fill="#3e4c8a" d="M872.5 271.5h8v8h-8zM824.5 279.5h8v8h-8zM920.5 279.5h8v8h-8zM776.5 287.5h16v8h-16zM752.5 295.5h8v8h-8zM744.5 303.5h8v8h-8zM752.5 311.5h8v8h-8zM760.5 319.5h8v8h-8zM768.5 327.5h8v8h-8zM968.5 327.5h8v8h-8zM488.5 343.5h8v8h-8zM504.5 343.5h8v8h-8zM976.5 343.5h8v8h-8zM392.5 351.5h16v8h-16zM480.5 351.5h8v8h-8zM528.5 375.5h8v8h-8zM984.5 375.5h8v8h-8zM776.5 399.5h8v8h-8zM784.5 407.5h8v8h-8zM432.5 415.5h8v8h-8zM528.5 415.5h8v8h-8zM792.5 415.5h8v8h-8zM464.5 431.5h8v8h-8zM984.5 431.5h8v8h-8zM984.5 439.5h8v8h-8zM480.5 447.5h8v8h-8zM504.5 447.5h8v8h-8zM440.5 455.5h8v8h-8zM976.5 455.5h8v8h-8zM976.5 463.5h8v8h-8zM360.5 471.5h8v8h-8zM448.5 471.5h8v8h-8zM448.5 479.5h8v8h-8zM968.5 479.5h8v8h-8zM848.5 487.5h8v8h-8zM968.5 487.5h8v8h-8zM344.5 495.5h8v8h-8zM448.5 495.5h8v8h-8zM848.5 495.5h8v8h-8zM448.5 503.5h8v8h-8zM848.5 503.5h8v8h-8zM336.5 511.5h8v8h-8zM848.5 511.5h8v8h-8zM952.5 511.5h8v8h-8zM848.5 519.5h8v8h-8zM944.5 519.5h8v8h-8zM344.5 527.5h8v8h-8zM432.5 527.5h8v8h-8zM848.5 527.5h8v8h-8zM424.5 535.5h8v8h-8zM848.5 535.5h8v8h-8zM936.5 535.5h8v8h-8zM936.5 543.5h8v8h-8zM360.5 551.5h8v8h-8zM416.5 551.5h8v8h-8zM936.5 551.5h8v8h-8zM368.5 559.5h8v8h-8zM416.5 559.5h8v8h-8zM936.5 559.5h8v8h-8zM376.5 567.5h8v8h-8zM384.5 575.5h8v8h-8zM408.5 575.5h8v8h-8zM392.5 583.5h24v8h-24zM960.5 583.5h8v8h-8zM400.5 591.5h16v8h-16zM400.5 599.5h16v8h-16zM976.5 599.5h8v8h-8zM392.5 607.5h32v8h-32zM416.5 615.5h8v8h-8zM840.5 615.5h8v8h-8zM840.5 623.5h8v8h-8zM984.5 623.5h8v8h-8zM984.5 631.5h8v8h-8zM896.5 639.5h16v8h-16zM984.5 639.5h8v8h-8zM360.5 647.5h8v8h-8zM896.5 647.5h16v8h-16zM896.5 655.5h16v8h-16zM360.5 671.5h8v8h-8zM976.5 671.5h8v8h-8zM368.5 695.5h8v8h-8zM840.5 695.5h8v8h-8zM952.5 695.5h8v8h-8zM840.5 703.5h8v8h-8zM944.5 703.5h8v8h-8zM376.5 711.5h8v8h-8zM840.5 711.5h8v8h-8zM936.5 711.5h8v8h-8zM416.5 719.5h8v8h-8zM840.5 719.5h8v8h-8zM928.5 719.5h8v8h-8zM408.5 727.5h8v8h-8zM832.5 743.5h8v8h-8zM904.5 743.5h8v8h-8zM816.5 767.5h8v8h-8zM808.5 775.5h8v8h-8zM864.5 783.5h8v8h-8zM800.5 791.5h8v8h-8zM856.5 791.5h8v8h-8zM800.5 799.5h8v8h-8zM800.5 807.5h32v8h-32z"/>
<path fill="#3d4e8a" d="M864.5 271.5h8v8h-8zM904.5 271.5h8v8h-8zM816.5 279.5h8v8h-8zM760.5 287.5h16v8h-16zM736.5 295.5h16v8h-16zM944.5 295.5h8v8h-8zM736.5 303.5h8v8h-8zM952.5 303.5h8v8h-8zM736.5 311.5h16v8h-16zM960.5 311.5h8v8h-8zM752.5 319.5h8v8h-8zM496.5 335.5h8v8h-8zM768.5 335.5h8v8h-8zM512.5 343.5h8v8h-8zM408.5 351.5h8v8h-8zM416.5 359.5h8v8h-8zM472.5 359.5h8v8h-8zM768.5 359.5h8v8h-8zM768.5 367.5h8v8h-8zM984.5 367.5h8v8h-8zM424.5 375.5h8v8h-8zM464.5 375.5h8v8h-8zM768.5 375.5h8v8h-8zM768.5 383.5h8v8h-8zM432.5 399.5h8v8h-8zM432.5 407.5h8v8h-8zM456.5 407.5h8v8h-8zM456.5 415.5h8v8h-8zM800.5 423.5h8v8h-8zM440.5 439.5h8v8h-8zM464.5 439.5h8v8h-8zM520.5 439.5h8v8h-8zM440.5 447.5h8v8h-8zM472.5 447.5h8v8h-8zM512.5 447.5h8v8h-8zM984.5 447.5h8v8h-8zM832.5 455.5h8v8h-8zM448.5 463.5h8v8h-8zM840.5 471.5h8v8h-8zM976.5 471.5h8v8h-8zM456.5 487.5h8v8h-8zM968.5 495.5h8v8h-8zM336.5 503.5h8v8h-8zM960.5 503.5h8v8h-8zM448.5 511.5h8v8h-8zM336.5 519.5h8v8h-8zM440.5 519.5h8v8h-8zM944.5 527.5h8v8h-8zM344.5 535.5h8v8h-8zM352.5 543.5h8v8h-8zM424.5 543.5h8v8h-8zM368.5 567.5h8v8h-8zM416.5 567.5h8v8h-8zM944.5 567.5h8v8h-8zM376.5 575.5h8v8h-8zM416.5 575.5h8v8h-8zM952.5 575.5h8v8h-8zM384.5 583.5h8v8h-8zM416.5 583.5h8v8h-8zM384.5 591.5h16v8h-16zM416.5 591.5h8v8h-8zM840.5 591.5h8v8h-8zM384.5 599.5h16v8h-16zM416.5 599.5h16v8h-16zM840.5 599.5h8v8h-8zM384.5 607.5h8v8h-8zM424.5 607.5h8v8h-8zM840.5 607.5h8v8h-8zM376.5 615.5h8v8h-8zM424.5 615.5h8v8h-8zM984.5 615.5h8v8h-8zM368.5 623.5h8v8h-8zM424.5 623.5h8v8h-8zM424.5 631.5h8v8h-8zM360.5 639.5h8v8h-8zM424.5 639.5h8v8h-8zM424.5 647.5h8v8h-8zM984.5 647.5h8v8h-8zM424.5 655.5h8v8h-8zM424.5 663.5h8v8h-8zM424.5 671.5h8v8h-8zM424.5 679.5h8v8h-8zM424.5 687.5h8v8h-8zM968.5 687.5h8v8h-8zM424.5 695.5h8v8h-8zM960.5 695.5h8v8h-8zM424.5 703.5h8v8h-8zM416.5 727.5h8v8h-8zM928.5 727.5h8v8h-8zM392.5 735.5h16v8h-16zM920.5 735.5h8v8h-8zM896.5 751.5h8v8h-8zM888.5 759.5h8v8h-8zM880.5 767.5h8v8h-8zM872.5 775.5h8v8h-8zM800.5 783.5h8v8h-8zM792.5 799.5h8v8h-8zM848.5 799.5h8v8h-8zM792.5 807.5h8v8h-8zM832.5 807.5h8v8h-8zM792.5 815.5h24v8h-24z"/>
<path fill="#3c508b" d="M856.5 271.5h8v8h-8zM912.5 271.5h8v8h-8zM808.5 279.5h8v8h-8zM752.5 287.5h8v8h-8zM936.5 287.5h8v8h-8zM728.5 295.5h8v8h-8zM720.5 303.5h16v8h-16zM720.5 311.5h16v8h-16zM744.5 319.5h8v8h-8zM968.5 319.5h8v8h-8zM496.5 327.5h8v8h-8zM760.5 327.5h8v8h-8zM488.5 335.5h8v8h-8zM504.5 335.5h8v8h-8zM976.5 335.5h8v8h-8zM768.5 343.5h8v8h-8zM384.5 351.5h8v8h-8zM520.5 351.5h8v8h-8zM768.5 351.5h8v8h-8zM376.5 359.5h8v8h-8zM984.5 359.5h8v8h-8zM528.5 367.5h8v8h-8zM368.5 375.5h8v8h-8zM432.5 391.5h8v8h-8zM456.5 391.5h8v8h-8zM768.5 391.5h8v8h-8zM456.5 399.5h8v8h-8zM992.5 407.5h8v8h-8zM992.5 415.5h8v8h-8zM440.5 423.5h8v8h-8zM456.5 423.5h8v8h-8zM528.5 423.5h8v8h-8zM992.5 423.5h8v8h-8zM440.5 431.5h8v8h-8zM456.5 431.5h8v8h-8zM808.5 431.5h8v8h-8zM992.5 431.5h8v8h-8zM456.5 439.5h8v8h-8zM816.5 439.5h8v8h-8zM992.5 439.5h8v8h-8zM448.5 447.5h24v8h-24zM824.5 447.5h8v8h-8zM448.5 455.5h56v8h-56zM984.5 455.5h8v8h-8zM360.5 463.5h8v8h-8zM456.5 463.5h8v8h-8zM984.5 463.5h8v8h-8zM456.5 471.5h8v8h-8zM352.5 479.5h8v8h-8zM456.5 479.5h8v8h-8zM840.5 479.5h8v8h-8zM976.5 479.5h8v8h-8zM344.5 487.5h8v8h-8zM840.5 487.5h8v8h-8zM976.5 487.5h8v8h-8zM336.5 495.5h8v8h-8zM456.5 495.5h8v8h-8zM960.5 511.5h8v8h-8zM952.5 519.5h8v8h-8zM336.5 527.5h8v8h-8zM432.5 535.5h8v8h-8zM944.5 535.5h8v8h-8zM352.5 551.5h8v8h-8zM424.5 551.5h8v8h-8zM840.5 551.5h8v8h-8zM360.5 559.5h8v8h-8zM840.5 559.5h8v8h-8zM944.5 559.5h8v8h-8zM840.5 567.5h8v8h-8zM368.5 575.5h8v8h-8zM840.5 575.5h8v8h-8zM376.5 583.5h8v8h-8zM424.5 583.5h8v8h-8zM840.5 583.5h8v8h-8zM376.5 591.5h8v8h-8zM424.5 591.5h8v8h-8zM432.5 599.5h8v8h-8zM376.5 607.5h8v8h-8zM432.5 607.5h16v8h-16zM984.5 607.5h8v8h-8zM432.5 615.5h8v8h-8zM432.5 623.5h8v8h-8zM360.5 631.5h8v8h-8zM488.5 639.5h8v8h-8zM488.5 647.5h8v8h-8zM832.5 647.5h8v8h-8zM488.5 655.5h16v8h-16zM832.5 655.5h8v8h-8zM984.5 655.5h8v8h-8zM488.5 663.5h8v8h-8zM832.5 663.5h8v8h-8zM360.5 679.5h8v8h-8zM976.5 679.5h8v8h-8zM952.5 703.5h8v8h-8zM424.5 711.5h8v8h-8zM944.5 711.5h8v8h-8zM936.5 719.5h8v8h-8zM384.5 727.5h8v8h-8zM408.5 735.5h8v8h-8zM912.5 743.5h8v8h-8zM824.5 751.5h8v8h-8zM792.5 791.5h8v8h-8zM864.5 791.5h8v8h-8zM784.5 799.5h8v8h-8zM784.5 807.5h8v8h-8zM840.5 807.5h8v8h-8zM784.5 815.5h8v8h-8zM816.5 815.5h16v8h-16zM784.5 823.5h32v8h-32z"/>
<path fill="#3b528b" d="M848.5 271.5h8v8h-8zM792.5 279.5h16v8h-16zM928.5 279.5h8v8h-8zM736.5 287.5h16v8h-16zM712.5 295.5h16v8h-16zM488.5 303.5h16v8h-16zM664.5 303.5h56v8h-56zM488.5 311.5h16v8h-16zM664.5 311.5h56v8h-56zM488.5 319.5h16v8h-16zM664.5 319.5h80v8h-80zM488.5 327.5h8v8h-8zM504.5 327.5h8v8h-8zM752.5 327.5h8v8h-8zM512.5 335.5h8v8h-8zM760.5 335.5h8v8h-8zM480.5 343.5h8v8h-8zM472.5 351.5h8v8h-8zM984.5 351.5h8v8h-8zM528.5 359.5h8v8h-8zM424.5 367.5h8v8h-8zM464.5 367.5h8v8h-8zM456.5 383.5h8v8h-8zM992.5 391.5h8v8h-8zM992.5 399.5h8v8h-8zM776.5 407.5h8v8h-8zM440.5 415.5h16v8h-16zM448.5 423.5h8v8h-8zM448.5 431.5h8v8h-8zM528.5 431.5h8v8h-8zM448.5 439.5h8v8h-8zM992.5 447.5h8v8h-8zM360.5 455.5h8v8h-8zM504.5 455.5h8v8h-8zM992.5 455.5h8v8h-8zM464.5 463.5h16v8h-16zM832.5 463.5h8v8h-8zM464.5 471.5h8v8h-8zM984.5 471.5h8v8h-8zM464.5 479.5h8v8h-8zM840.5 495.5h8v8h-8zM456.5 503.5h8v8h-8zM840.5 503.5h8v8h-8zM968.5 503.5h8v8h-8zM328.5 511.5h8v8h-8zM840.5 511.5h8v8h-8zM328.5 519.5h8v8h-8zM448.5 519.5h8v8h-8zM840.5 519.5h8v8h-8zM440.5 527.5h8v8h-8zM840.5 527.5h8v8h-8zM952.5 527.5h8v8h-8zM336.5 535.5h8v8h-8zM840.5 535.5h8v8h-8zM344.5 543.5h8v8h-8zM432.5 543.5h8v8h-8zM840.5 543.5h8v8h-8zM944.5 543.5h8v8h-8zM944.5 551.5h8v8h-8zM424.5 559.5h8v8h-8zM360.5 567.5h8v8h-8zM424.5 567.5h8v8h-8zM952.5 567.5h8v8h-8zM424.5 575.5h8v8h-8zM960.5 575.5h8v8h-8zM368.5 583.5h8v8h-8zM968.5 583.5h8v8h-8zM432.5 591.5h8v8h-8zM976.5 591.5h8v8h-8zM376.5 599.5h8v8h-8zM440.5 599.5h8v8h-8zM448.5 607.5h16v8h-16zM368.5 615.5h8v8h-8zM440.5 615.5h32v8h-32zM440.5 623.5h8v8h-8zM464.5 623.5h24v8h-24zM432.5 631.5h8v8h-8zM472.5 631.5h24v8h-24zM480.5 639.5h8v8h-8zM832.5 639.5h8v8h-8zM480.5 647.5h8v8h-8zM496.5 647.5h8v8h-8zM480.5 655.5h8v8h-8zM496.5 663.5h8v8h-8zM984.5 663.5h8v8h-8zM488.5 671.5h16v8h-16zM832.5 671.5h8v8h-8zM832.5 679.5h8v8h-8zM968.5 695.5h8v8h-8zM368.5 703.5h8v8h-8zM960.5 703.5h8v8h-8zM376.5 719.5h8v8h-8zM424.5 719.5h8v8h-8zM384.5 735.5h8v8h-8zM416.5 735.5h8v8h-8zM832.5 735.5h8v8h-8zM392.5 743.5h24v8h-24zM904.5 751.5h8v8h-8zM816.5 759.5h8v8h-8zM808.5 767.5h8v8h-8zM800.5 775.5h8v8h-8zM792.5 783.5h8v8h-8zM872.5 783.5h8v8h-8zM784.5 791.5h8v8h-8zM856.5 799.5h8v8h-8zM776.5 807.5h8v8h-8zM776.5 815.5h8v8h-8zM832.5 815.5h8v8h-8zM768.5 823.5h16v8h-16zM816.5 823.5h8v8h-8zM768.5 831.5h40v8h-40zM768.5 839.5h32v8h-32z"/>
<path fill="#3a548c" d="M832.5 271.5h16v8h-16zM776.5 279.5h16v8h-16zM728.5 287.5h8v8h-8zM488.5 295.5h16v8h-16zM664.5 295.5h48v8h-48zM480.5 303.5h8v8h-8zM656.5 303.5h8v8h-8zM960.5 303.5h8v8h-8zM480.5 311.5h8v8h-8zM504.5 311.5h8v8h-8zM656.5 311.5h8v8h-8zM480.5 319.5h8v8h-8zM504.5 319.5h8v8h-8zM656.5 319.5h8v8h-8zM480.5 327.5h8v8h-8zM664.5 327.5h88v8h-88zM976.5 327.5h8v8h-8zM480.5 335.5h8v8h-8zM688.5 335.5h8v8h-8zM752.5 335.5h8v8h-8zM392.5 343.5h16v8h-16zM520.5 343.5h8v8h-8zM760.5 343.5h8v8h-8zM416.5 351.5h8v8h-8zM760.5 351.5h8v8h-8zM760.5 359.5h8v8h-8zM368.5 367.5h8v8h-8zM760.5 367.5h8v8h-8zM760.5 375.5h8v8h-8zM432.5 383.5h8v8h-8zM760.5 383.5h8v8h-8zM992.5 383.5h8v8h-8zM440.5 399.5h16v8h-16zM768.5 399.5h8v8h-8zM440.5 407.5h16v8h-16zM784.5 415.5h8v8h-8zM360.5 447.5h8v8h-8zM520.5 447.5h8v8h-8zM512.5 455.5h8v8h-8zM480.5 463.5h16v8h-16zM992.5 463.5h8v8h-8zM352.5 471.5h8v8h-8zM472.5 471.5h8v8h-8zM832.5 471.5h8v8h-8zM984.5 479.5h8v8h-8zM464.5 487.5h8v8h-8zM464.5 495.5h8v8h-8zM976.5 495.5h8v8h-8zM328.5 503.5h8v8h-8zM456.5 511.5h8v8h-8zM968.5 511.5h8v8h-8zM960.5 519.5h8v8h-8zM440.5 535.5h8v8h-8zM432.5 551.5h8v8h-8zM352.5 559.5h8v8h-8zM360.5 575.5h8v8h-8zM432.5 575.5h8v8h-8zM432.5 583.5h8v8h-8zM368.5 591.5h8v8h-8zM440.5 591.5h8v8h-8zM368.5 599.5h8v8h-8zM448.5 599.5h8v8h-8zM984.5 599.5h8v8h-8zM368.5 607.5h8v8h-8zM464.5 607.5h8v8h-8zM472.5 615.5h16v8h-16zM360.5 623.5h8v8h-8zM448.5 623.5h16v8h-16zM488.5 623.5h8v8h-8zM832.5 623.5h8v8h-8zM440.5 631.5h8v8h-8zM464.5 631.5h8v8h-8zM832.5 631.5h8v8h-8zM432.5 639.5h8v8h-8zM472.5 639.5h8v8h-8zM496.5 639.5h8v8h-8zM480.5 663.5h8v8h-8zM984.5 671.5h8v8h-8zM488.5 679.5h8v8h-8zM360.5 687.5h8v8h-8zM832.5 687.5h8v8h-8zM976.5 687.5h8v8h-8zM952.5 711.5h8v8h-8zM944.5 719.5h8v8h-8zM424.5 727.5h8v8h-8zM832.5 727.5h8v8h-8zM936.5 727.5h8v8h-8zM928.5 735.5h8v8h-8zM920.5 743.5h8v8h-8zM896.5 759.5h8v8h-8zM888.5 767.5h8v8h-8zM880.5 775.5h8v8h-8zM776.5 799.5h8v8h-8zM768.5 807.5h8v8h-8zM848.5 807.5h8v8h-8zM768.5 815.5h8v8h-8zM760.5 823.5h8v8h-8zM824.5 823.5h8v8h-8zM760.5 831.5h8v8h-8zM808.5 831.5h8v8h-8zM760.5 839.5h8v8h-8zM800.5 839.5h8v8h-8zM760.5 847.5h40v8h-40zM760.5 855.5h32v8h-32z"/>
<path fill="#39568c" d="M888.5 263.5h8v8h-8zM824.5 271.5h8v8h-8zM920.5 271.5h8v8h-8zM760.5 279.5h16v8h-16zM712.5 287.5h16v8h-16zM944.5 287.5h8v8h-8zM480.5 295.5h8v8h-8zM656.5 295.5h8v8h-8zM952.5 295.5h8v8h-8zM504.5 303.5h8v8h-8zM648.5 303.5h8v8h-8zM648.5 311.5h8v8h-8zM968.5 311.5h8v8h-8zM648.5 319.5h8v8h-8zM512.5 327.5h8v8h-8zM656.5 327.5h8v8h-8zM672.5 335.5h16v8h-16zM696.5 335.5h32v8h-32zM744.5 335.5h8v8h-8zM408.5 343.5h8v8h-8zM472.5 343.5h8v8h-8zM680.5 343.5h24v8h-24zM752.5 343.5h8v8h-8zM984.5 343.5h8v8h-8zM528.5 351.5h8v8h-8zM424.5 359.5h8v8h-8zM464.5 359.5h8v8h-8zM432.5 375.5h8v8h-8zM456.5 375.5h8v8h-8zM992.5 375.5h8v8h-8zM536.5 383.5h8v8h-8zM440.5 391.5h16v8h-16zM536.5 391.5h8v8h-8zM760.5 391.5h8v8h-8zM360.5 399.5h8v8h-8zM536.5 399.5h8v8h-8zM360.5 407.5h8v8h-8zM536.5 407.5h8v8h-8zM1000.5 407.5h8v8h-8zM360.5 415.5h8v8h-8zM1000.5 415.5h8v8h-8zM360.5 423.5h8v8h-8zM792.5 423.5h8v8h-8zM1000.5 423.5h8v8h-8zM360.5 431.5h8v8h-8zM1000.5 431.5h8v8h-8zM360.5 439.5h8v8h-8zM528.5 439.5h8v8h-8zM1000.5 439.5h8v8h-8zM1000.5 447.5h8v8h-8zM824.5 455.5h8v8h-8zM496.5 463.5h8v8h-8zM480.5 471.5h8v8h-8zM992.5 471.5h8v8h-8zM344.5 479.5h8v8h-8zM472.5 479.5h8v8h-8zM832.5 479.5h8v8h-8zM336.5 487.5h8v8h-8zM984.5 487.5h8v8h-8zM464.5 503.5h8v8h-8zM976.5 503.5h8v8h-8zM328.5 527.5h8v8h-8zM448.5 527.5h8v8h-8zM952.5 535.5h8v8h-8zM336.5 543.5h8v8h-8zM344.5 551.5h8v8h-8zM432.5 559.5h8v8h-8zM952.5 559.5h8v8h-8zM352.5 567.5h8v8h-8zM432.5 567.5h8v8h-8zM360.5 583.5h8v8h-8zM440.5 583.5h8v8h-8zM448.5 591.5h8v8h-8zM456.5 599.5h16v8h-16zM472.5 607.5h8v8h-8zM832.5 607.5h8v8h-8zM360.5 615.5h8v8h-8zM832.5 615.5h8v8h-8zM992.5 623.5h8v8h-8zM448.5 631.5h16v8h-16zM496.5 631.5h8v8h-8zM992.5 631.5h8v8h-8zM352.5 639.5h8v8h-8zM464.5 639.5h8v8h-8zM352.5 647.5h8v8h-8zM432.5 647.5h8v8h-8zM472.5 647.5h8v8h-8zM352.5 655.5h8v8h-8zM432.5 655.5h8v8h-8zM472.5 655.5h8v8h-8zM504.5 655.5h8v8h-8zM352.5 663.5h8v8h-8zM504.5 663.5h8v8h-8zM480.5 671.5h8v8h-8zM480.5 679.5h8v8h-8zM496.5 679.5h8v8h-8zM984.5 679.5h8v8h-8zM488.5 687.5h8v8h-8zM432.5 695.5h8v8h-8zM832.5 695.5h8v8h-8zM976.5 695.5h8v8h-8zM432.5 703.5h8v8h-8zM968.5 703.5h8v8h-8zM368.5 711.5h8v8h-8zM432.5 711.5h8v8h-8zM960.5 711.5h8v8h-8zM432.5 719.5h8v8h-8zM376.5 727.5h8v8h-8zM424.5 735.5h8v8h-8zM384.5 743.5h8v8h-8zM416.5 743.5h8v8h-8zM824.5 743.5h8v8h-8zM392.5 751.5h24v8h-24zM912.5 751.5h8v8h-8zM792.5 775.5h8v8h-8zM784.5 783.5h8v8h-8zM776.5 791.5h8v8h-8zM872.5 791.5h8v8h-8zM768.5 799.5h8v8h-8zM864.5 799.5h8v8h-8zM760.5 807.5h8v8h-8zM760.5 815.5h8v8h-8zM840.5 815.5h8v8h-8zM752.5 823.5h8v8h-8zM752.5 831.5h8v8h-8zM816.5 831.5h8v8h-8zM752.5 839.5h8v8h-8zM808.5 839.5h8v8h-8zM744.5 847.5h16v8h-16zM800.5 847.5h8v8h-8zM744.5 855.5h16v8h-16zM792.5 855.5h16v8h-16zM744.5 863.5h56v8h-56zM752.5 871.5h24v8h-24z"/>
<path fill="#38598c" d="M872.5 263.5h16v8h-16zM896.5 263.5h8v8h-8zM816.5 271.5h8v8h-8zM744.5 279.5h16v8h-16zM936.5 279.5h8v8h-8zM488.5 287.5h16v8h-16zM664.5 287.5h48v8h-48zM504.5 295.5h8v8h-8zM648.5 295.5h8v8h-8zM472.5 303.5h8v8h-8zM472.5 311.5h8v8h-8zM472.5 319.5h8v8h-8zM512.5 319.5h8v8h-8zM976.5 319.5h8v8h-8zM472.5 327.5h8v8h-8zM472.5 335.5h8v8h-8zM520.5 335.5h8v8h-8zM664.5 335.5h8v8h-8zM728.5 335.5h16v8h-16zM984.5 335.5h8v8h-8zM672.5 343.5h8v8h-8zM704.5 343.5h24v8h-24zM744.5 343.5h8v8h-8zM376.5 351.5h8v8h-8zM680.5 351.5h40v8h-40zM752.5 351.5h8v8h-8zM696.5 359.5h16v8h-16zM752.5 359.5h8v8h-8zM432.5 367.5h8v8h-8zM456.5 367.5h8v8h-8zM752.5 367.5h8v8h-8zM992.5 367.5h8v8h-8zM536.5 375.5h8v8h-8zM752.5 375.5h8v8h-8zM440.5 383.5h16v8h-16zM360.5 391.5h8v8h-8zM1000.5 399.5h8v8h-8zM536.5 415.5h8v8h-8zM800.5 431.5h8v8h-8zM816.5 447.5h8v8h-8zM520.5 455.5h8v8h-8zM1000.5 455.5h8v8h-8zM352.5 463.5h8v8h-8zM504.5 463.5h8v8h-8zM1000.5 463.5h8v8h-8zM488.5 471.5h8v8h-8zM992.5 479.5h8v8h-8zM472.5 487.5h8v8h-8zM832.5 487.5h8v8h-8zM328.5 495.5h8v8h-8zM832.5 495.5h8v8h-8zM984.5 495.5h8v8h-8zM832.5 503.5h8v8h-8zM832.5 511.5h8v8h-8zM456.5 519.5h8v8h-8zM832.5 519.5h8v8h-8zM968.5 519.5h8v8h-8zM832.5 527.5h8v8h-8zM960.5 527.5h8v8h-8zM328.5 535.5h8v8h-8zM440.5 543.5h8v8h-8zM952.5 543.5h8v8h-8zM952.5 551.5h8v8h-8zM344.5 559.5h8v8h-8zM832.5 567.5h8v8h-8zM960.5 567.5h8v8h-8zM352.5 575.5h8v8h-8zM440.5 575.5h8v8h-8zM832.5 575.5h8v8h-8zM968.5 575.5h8v8h-8zM832.5 583.5h8v8h-8zM976.5 583.5h8v8h-8zM360.5 591.5h8v8h-8zM456.5 591.5h8v8h-8zM832.5 591.5h8v8h-8zM360.5 599.5h8v8h-8zM472.5 599.5h8v8h-8zM832.5 599.5h8v8h-8zM360.5 607.5h8v8h-8zM480.5 607.5h8v8h-8zM488.5 615.5h8v8h-8zM992.5 615.5h8v8h-8zM496.5 623.5h8v8h-8zM352.5 631.5h8v8h-8zM440.5 639.5h8v8h-8zM456.5 639.5h8v8h-8zM992.5 639.5h8v8h-8zM464.5 647.5h8v8h-8zM504.5 647.5h8v8h-8zM992.5 647.5h8v8h-8zM432.5 663.5h8v8h-8zM472.5 663.5h8v8h-8zM432.5 671.5h8v8h-8zM504.5 671.5h8v8h-8zM432.5 679.5h8v8h-8zM432.5 687.5h8v8h-8zM480.5 687.5h8v8h-8zM496.5 687.5h8v8h-8zM984.5 687.5h8v8h-8zM360.5 695.5h8v8h-8zM832.5 703.5h8v8h-8zM832.5 711.5h8v8h-8zM832.5 719.5h8v8h-8zM952.5 719.5h8v8h-8zM432.5 727.5h8v8h-8zM944.5 727.5h8v8h-8zM936.5 735.5h8v8h-8zM928.5 743.5h8v8h-8zM816.5 751.5h8v8h-8zM800.5 767.5h8v8h-8zM880.5 783.5h8v8h-8zM760.5 799.5h8v8h-8zM752.5 807.5h8v8h-8zM856.5 807.5h8v8h-8zM656.5 815.5h24v8h-24zM744.5 815.5h16v8h-16zM848.5 815.5h8v8h-8zM648.5 823.5h32v8h-32zM744.5 823.5h8v8h-8zM832.5 823.5h8v8h-8zM648.5 831.5h32v8h-32zM744.5 831.5h8v8h-8zM824.5 831.5h8v8h-8zM648.5 839.5h32v8h-32zM736.5 839.5h16v8h-16zM816.5 839.5h8v8h-8zM656.5 847.5h24v8h-24zM736.5 847.5h8v8h-8zM808.5 847.5h8v8h-8zM656.5 855.5h24v8h-24zM736.5 855.5h8v8h-8zM808.5 855.5h8v8h-8zM656.5 863.5h32v8h-32zM728.5 863.5h16v8h-16zM800.5 863.5h8v8h-8zM664.5 871.5h24v8h-24zM720.5 871.5h32v8h-32zM776.5 871.5h24v8h-24zM672.5 879.5h104v8h-104zM688.5 887.5h48v8h-48zM688.5 895.5h32v8h-32z"/>
<path fill="#365c8d" d="M864.5 263.5h8v8h-8zM904.5 263.5h8v8h-8zM800.5 271.5h16v8h-16zM736.5 279.5h8v8h-8zM480.5 287.5h8v8h-8zM656.5 287.5h8v8h-8zM472.5 295.5h8v8h-8zM640.5 303.5h8v8h-8zM512.5 311.5h8v8h-8zM640.5 311.5h8v8h-8zM640.5 319.5h8v8h-8zM520.5 327.5h8v8h-8zM648.5 327.5h8v8h-8zM656.5 335.5h8v8h-8zM384.5 343.5h8v8h-8zM416.5 343.5h8v8h-8zM528.5 343.5h8v8h-8zM664.5 343.5h8v8h-8zM728.5 343.5h16v8h-16zM424.5 351.5h8v8h-8zM464.5 351.5h8v8h-8zM672.5 351.5h8v8h-8zM720.5 351.5h32v8h-32zM680.5 359.5h16v8h-16zM712.5 359.5h16v8h-16zM744.5 359.5h8v8h-8zM992.5 359.5h8v8h-8zM536.5 367.5h8v8h-8zM688.5 367.5h32v8h-32zM744.5 367.5h8v8h-8zM440.5 375.5h16v8h-16zM744.5 375.5h8v8h-8zM752.5 383.5h8v8h-8zM1000.5 391.5h8v8h-8zM760.5 399.5h8v8h-8zM768.5 407.5h8v8h-8zM776.5 415.5h8v8h-8zM536.5 423.5h8v8h-8zM1008.5 423.5h8v8h-8zM1008.5 431.5h8v8h-8zM808.5 439.5h8v8h-8zM1008.5 439.5h8v8h-8zM528.5 447.5h8v8h-8zM1008.5 447.5h8v8h-8zM512.5 463.5h8v8h-8zM824.5 463.5h8v8h-8zM496.5 471.5h8v8h-8zM1000.5 471.5h8v8h-8zM480.5 479.5h8v8h-8zM992.5 487.5h8v8h-8zM472.5 495.5h8v8h-8zM984.5 503.5h8v8h-8zM464.5 511.5h8v8h-8zM976.5 511.5h8v8h-8zM448.5 535.5h8v8h-8zM832.5 535.5h8v8h-8zM960.5 535.5h8v8h-8zM832.5 543.5h8v8h-8zM336.5 551.5h8v8h-8zM440.5 551.5h8v8h-8zM832.5 551.5h8v8h-8zM440.5 559.5h8v8h-8zM832.5 559.5h8v8h-8zM344.5 567.5h8v8h-8zM440.5 567.5h8v8h-8zM352.5 583.5h8v8h-8zM448.5 583.5h8v8h-8zM352.5 591.5h8v8h-8zM464.5 591.5h8v8h-8zM984.5 591.5h8v8h-8zM488.5 607.5h8v8h-8zM992.5 607.5h8v8h-8zM352.5 615.5h8v8h-8zM352.5 623.5h8v8h-8zM448.5 639.5h8v8h-8zM504.5 639.5h8v8h-8zM440.5 647.5h8v8h-8zM992.5 655.5h8v8h-8zM992.5 663.5h8v8h-8zM352.5 671.5h8v8h-8zM472.5 671.5h8v8h-8zM504.5 679.5h8v8h-8zM480.5 695.5h16v8h-16zM976.5 703.5h8v8h-8zM968.5 711.5h8v8h-8zM960.5 719.5h8v8h-8zM952.5 727.5h8v8h-8zM376.5 735.5h8v8h-8zM432.5 735.5h8v8h-8zM944.5 735.5h8v8h-8zM424.5 743.5h8v8h-8zM384.5 751.5h8v8h-8zM416.5 751.5h8v8h-8zM920.5 751.5h8v8h-8zM392.5 759.5h24v8h-24zM808.5 759.5h8v8h-8zM904.5 759.5h8v8h-8zM896.5 767.5h8v8h-8zM888.5 775.5h8v8h-8zM776.5 783.5h8v8h-8zM768.5 791.5h8v8h-8zM752.5 799.5h8v8h-8zM648.5 807.5h40v8h-40zM744.5 807.5h8v8h-8zM648.5 815.5h8v8h-8zM680.5 815.5h8v8h-8zM736.5 815.5h8v8h-8zM680.5 823.5h8v8h-8zM736.5 823.5h8v8h-8zM840.5 823.5h8v8h-8zM680.5 831.5h8v8h-8zM736.5 831.5h8v8h-8zM680.5 839.5h8v8h-8zM728.5 839.5h8v8h-8zM824.5 839.5h8v8h-8zM648.5 847.5h8v8h-8zM680.5 847.5h16v8h-16zM728.5 847.5h8v8h-8zM816.5 847.5h8v8h-8zM648.5 855.5h8v8h-8zM680.5 855.5h16v8h-16zM720.5 855.5h16v8h-16zM648.5 863.5h8v8h-8zM688.5 863.5h40v8h-40zM808.5 863.5h8v8h-8zM656.5 871.5h8v8h-8zM688.5 871.5h32v8h-32zM800.5 871.5h8v8h-8zM656.5 879.5h16v8h-16zM776.5 879.5h24v8h-24zM664.5 887.5h24v8h-24zM736.5 887.5h40v8h-40zM672.5 895.5h16v8h-16zM720.5 895.5h24v8h-24zM680.5 903.5h48v8h-48zM688.5 911.5h32v8h-32z"/>
<path fill="#355e8d" d="M856.5 263.5h8v8h-8zM792.5 271.5h8v8h-8zM928.5 271.5h8v8h-8zM720.5 279.5h16v8h-16zM504.5 287.5h8v8h-8zM648.5 287.5h8v8h-8zM640.5 295.5h8v8h-8zM960.5 295.5h8v8h-8zM512.5 303.5h8v8h-8zM968.5 303.5h8v8h-8zM976.5 311.5h8v8h-8zM640.5 327.5h8v8h-8zM984.5 327.5h8v8h-8zM400.5 335.5h8v8h-8zM648.5 335.5h8v8h-8zM464.5 343.5h8v8h-8zM656.5 343.5h8v8h-8zM664.5 351.5h8v8h-8zM992.5 351.5h8v8h-8zM368.5 359.5h8v8h-8zM432.5 359.5h8v8h-8zM456.5 359.5h8v8h-8zM536.5 359.5h8v8h-8zM672.5 359.5h8v8h-8zM728.5 359.5h16v8h-16zM680.5 367.5h8v8h-8zM720.5 367.5h24v8h-24zM696.5 375.5h48v8h-48zM360.5 383.5h8v8h-8zM744.5 383.5h8v8h-8zM1000.5 383.5h8v8h-8zM752.5 391.5h8v8h-8zM1008.5 415.5h8v8h-8zM784.5 423.5h8v8h-8zM536.5 431.5h8v8h-8zM1008.5 455.5h8v8h-8zM344.5 471.5h8v8h-8zM504.5 471.5h8v8h-8zM824.5 471.5h8v8h-8zM336.5 479.5h8v8h-8zM488.5 479.5h8v8h-8zM480.5 487.5h8v8h-8zM320.5 503.5h8v8h-8zM472.5 503.5h8v8h-8zM320.5 511.5h8v8h-8zM320.5 519.5h8v8h-8zM976.5 519.5h8v8h-8zM320.5 527.5h8v8h-8zM456.5 527.5h8v8h-8zM968.5 527.5h8v8h-8zM328.5 543.5h8v8h-8zM448.5 543.5h8v8h-8zM960.5 543.5h8v8h-8zM960.5 559.5h8v8h-8zM968.5 567.5h8v8h-8zM344.5 575.5h8v8h-8zM448.5 575.5h8v8h-8zM976.5 575.5h8v8h-8zM456.5 583.5h8v8h-8zM472.5 591.5h8v8h-8zM352.5 599.5h8v8h-8zM480.5 599.5h8v8h-8zM352.5 607.5h8v8h-8zM496.5 615.5h8v8h-8zM504.5 631.5h8v8h-8zM456.5 647.5h8v8h-8zM824.5 647.5h8v8h-8zM464.5 655.5h8v8h-8zM824.5 655.5h8v8h-8zM824.5 663.5h8v8h-8zM992.5 671.5h8v8h-8zM352.5 679.5h8v8h-8zM472.5 679.5h8v8h-8zM472.5 687.5h8v8h-8zM472.5 695.5h8v8h-8zM496.5 695.5h8v8h-8zM984.5 695.5h8v8h-8zM440.5 703.5h8v8h-8zM480.5 703.5h16v8h-16zM440.5 711.5h8v8h-8zM976.5 711.5h8v8h-8zM368.5 719.5h8v8h-8zM440.5 719.5h8v8h-8zM440.5 727.5h8v8h-8zM824.5 735.5h8v8h-8zM376.5 743.5h8v8h-8zM936.5 743.5h8v8h-8zM384.5 759.5h8v8h-8zM784.5 775.5h8v8h-8zM552.5 791.5h8v8h-8zM760.5 791.5h8v8h-8zM656.5 799.5h32v8h-32zM744.5 799.5h8v8h-8zM872.5 799.5h8v8h-8zM640.5 807.5h8v8h-8zM688.5 807.5h16v8h-16zM728.5 807.5h16v8h-16zM864.5 807.5h8v8h-8zM640.5 815.5h8v8h-8zM688.5 815.5h16v8h-16zM720.5 815.5h16v8h-16zM856.5 815.5h8v8h-8zM640.5 823.5h8v8h-8zM688.5 823.5h16v8h-16zM720.5 823.5h16v8h-16zM640.5 831.5h8v8h-8zM688.5 831.5h8v8h-8zM720.5 831.5h16v8h-16zM832.5 831.5h8v8h-8zM640.5 839.5h8v8h-8zM688.5 839.5h16v8h-16zM720.5 839.5h8v8h-8zM640.5 847.5h8v8h-8zM696.5 847.5h32v8h-32zM824.5 847.5h8v8h-8zM696.5 855.5h24v8h-24zM816.5 855.5h8v8h-8zM816.5 863.5h8v8h-8zM648.5 871.5h8v8h-8zM808.5 871.5h8v8h-8zM648.5 879.5h8v8h-8zM800.5 879.5h8v8h-8zM656.5 887.5h8v8h-8zM776.5 887.5h16v8h-16zM664.5 895.5h8v8h-8zM744.5 895.5h24v8h-24zM672.5 903.5h8v8h-8zM728.5 903.5h16v8h-16zM680.5 911.5h8v8h-8zM720.5 911.5h16v8h-16zM688.5 919.5h32v8h-32zM696.5 927.5h16v8h-16z"/>
<path fill="#34608d" d="M840.5 263.5h16v8h-16zM912.5 263.5h8v8h-8zM776.5 271.5h16v8h-16zM488.5 279.5h16v8h-16zM680.5 279.5h40v8h-40zM472.5 287.5h8v8h-8zM952.5 287.5h8v8h-8zM512.5 295.5h8v8h-8zM464.5 303.5h8v8h-8zM632.5 303.5h8v8h-8zM464.5 311.5h8v8h-8zM632.5 311.5h8v8h-8zM464.5 319.5h8v8h-8zM520.5 319.5h8v8h-8zM632.5 319.5h8v8h-8zM464.5 327.5h8v8h-8zM392.5 335.5h8v8h-8zM408.5 335.5h8v8h-8zM464.5 335.5h8v8h-8zM528.5 335.5h8v8h-8zM424.5 343.5h8v8h-8zM648.5 343.5h8v8h-8zM992.5 343.5h8v8h-8zM432.5 351.5h8v8h-8zM456.5 351.5h8v8h-8zM536.5 351.5h8v8h-8zM656.5 351.5h8v8h-8zM664.5 359.5h8v8h-8zM440.5 367.5h16v8h-16zM672.5 367.5h8v8h-8zM680.5 375.5h16v8h-16zM1000.5 375.5h8v8h-8zM696.5 383.5h48v8h-48zM744.5 391.5h8v8h-8zM1008.5 407.5h8v8h-8zM1016.5 431.5h8v8h-8zM536.5 439.5h8v8h-8zM1016.5 439.5h8v8h-8zM1016.5 447.5h8v8h-8zM352.5 455.5h8v8h-8zM528.5 455.5h8v8h-8zM816.5 455.5h8v8h-8zM520.5 463.5h8v8h-8zM1008.5 463.5h8v8h-8zM512.5 471.5h8v8h-8zM496.5 479.5h8v8h-8zM824.5 479.5h8v8h-8zM1000.5 479.5h8v8h-8zM328.5 487.5h8v8h-8zM480.5 495.5h8v8h-8zM992.5 495.5h8v8h-8zM984.5 511.5h8v8h-8zM464.5 519.5h8v8h-8zM456.5 535.5h8v8h-8zM448.5 551.5h8v8h-8zM960.5 551.5h8v8h-8zM336.5 559.5h8v8h-8zM448.5 567.5h8v8h-8zM344.5 583.5h8v8h-8zM464.5 583.5h8v8h-8zM984.5 583.5h8v8h-8zM344.5 591.5h8v8h-8zM992.5 599.5h8v8h-8zM824.5 639.5h8v8h-8zM448.5 647.5h8v8h-8zM440.5 655.5h8v8h-8zM464.5 663.5h8v8h-8zM824.5 671.5h8v8h-8zM992.5 679.5h8v8h-8zM440.5 687.5h8v8h-8zM504.5 687.5h8v8h-8zM440.5 695.5h8v8h-8zM360.5 703.5h8v8h-8zM472.5 703.5h8v8h-8zM496.5 703.5h8v8h-8zM984.5 703.5h8v8h-8zM448.5 711.5h8v8h-8zM472.5 711.5h24v8h-24zM448.5 719.5h8v8h-8zM968.5 719.5h8v8h-8zM960.5 727.5h8v8h-8zM440.5 735.5h8v8h-8zM952.5 735.5h8v8h-8zM432.5 743.5h8v8h-8zM944.5 743.5h8v8h-8zM424.5 751.5h8v8h-8zM928.5 751.5h8v8h-8zM416.5 759.5h8v8h-8zM912.5 759.5h8v8h-8zM392.5 767.5h24v8h-24zM792.5 767.5h8v8h-8zM544.5 783.5h24v8h-24zM768.5 783.5h8v8h-8zM536.5 791.5h16v8h-16zM560.5 791.5h16v8h-16zM752.5 791.5h8v8h-8zM880.5 791.5h8v8h-8zM536.5 799.5h32v8h-32zM640.5 799.5h16v8h-16zM688.5 799.5h56v8h-56zM544.5 807.5h16v8h-16zM704.5 807.5h24v8h-24zM704.5 815.5h16v8h-16zM704.5 823.5h16v8h-16zM848.5 823.5h8v8h-8zM696.5 831.5h24v8h-24zM840.5 831.5h8v8h-8zM704.5 839.5h16v8h-16zM832.5 839.5h8v8h-8zM640.5 855.5h8v8h-8zM824.5 855.5h8v8h-8zM640.5 863.5h8v8h-8zM824.5 863.5h8v8h-8zM640.5 871.5h8v8h-8zM816.5 871.5h8v8h-8zM808.5 879.5h8v8h-8zM648.5 887.5h8v8h-8zM792.5 887.5h16v8h-16zM656.5 895.5h8v8h-8zM768.5 895.5h16v8h-16zM664.5 903.5h8v8h-8zM744.5 903.5h16v8h-16zM672.5 911.5h8v8h-8zM736.5 911.5h8v8h-8zM672.5 919.5h16v8h-16zM720.5 919.5h16v8h-16zM680.5 927.5h16v8h-16zM712.5 927.5h8v8h-8zM696.5 935.5h16v8h-16z"/>
<path fill="#33628d" d="M832.5 263.5h8v8h-8zM768.5 271.5h8v8h-8zM480.5 279.5h8v8h-8zM664.5 279.5h16v8h-16zM944.5 279.5h8v8h-8zM640.5 287.5h8v8h-8zM464.5 295.5h8v8h-8zM632.5 295.5h8v8h-8zM520.5 311.5h8v8h-8zM984.5 319.5h8v8h-8zM528.5 327.5h8v8h-8zM416.5 335.5h8v8h-8zM640.5 335.5h8v8h-8zM456.5 343.5h8v8h-8zM536.5 343.5h8v8h-8zM440.5 359.5h16v8h-16zM656.5 359.5h8v8h-8zM664.5 367.5h8v8h-8zM1000.5 367.5h8v8h-8zM360.5 375.5h8v8h-8zM688.5 383.5h8v8h-8zM736.5 391.5h8v8h-8zM752.5 399.5h8v8h-8zM1008.5 399.5h8v8h-8zM760.5 407.5h8v8h-8zM1016.5 415.5h8v8h-8zM1016.5 423.5h8v8h-8zM792.5 431.5h8v8h-8zM352.5 447.5h8v8h-8zM536.5 447.5h8v8h-8zM808.5 447.5h8v8h-8zM1016.5 455.5h8v8h-8zM1008.5 471.5h8v8h-8zM504.5 479.5h8v8h-8zM488.5 487.5h8v8h-8zM824.5 487.5h8v8h-8zM1000.5 487.5h8v8h-8zM320.5 495.5h8v8h-8zM824.5 495.5h8v8h-8zM824.5 503.5h8v8h-8zM992.5 503.5h8v8h-8zM472.5 511.5h8v8h-8zM824.5 511.5h8v8h-8zM464.5 527.5h8v8h-8zM976.5 527.5h8v8h-8zM320.5 535.5h8v8h-8zM968.5 535.5h8v8h-8zM328.5 551.5h8v8h-8zM448.5 559.5h8v8h-8zM968.5 559.5h8v8h-8zM336.5 567.5h8v8h-8zM456.5 575.5h8v8h-8zM480.5 591.5h8v8h-8zM344.5 599.5h8v8h-8zM488.5 599.5h8v8h-8zM344.5 607.5h8v8h-8zM496.5 607.5h8v8h-8zM344.5 615.5h8v8h-8zM344.5 623.5h8v8h-8zM504.5 623.5h8v8h-8zM824.5 623.5h8v8h-8zM344.5 631.5h8v8h-8zM824.5 631.5h8v8h-8zM344.5 639.5h8v8h-8zM344.5 647.5h8v8h-8zM512.5 647.5h8v8h-8zM448.5 655.5h16v8h-16zM512.5 655.5h8v8h-8zM440.5 663.5h8v8h-8zM512.5 663.5h8v8h-8zM440.5 671.5h8v8h-8zM464.5 671.5h8v8h-8zM512.5 671.5h8v8h-8zM440.5 679.5h8v8h-8zM464.5 679.5h8v8h-8zM824.5 679.5h8v8h-8zM464.5 687.5h8v8h-8zM992.5 687.5h8v8h-8zM464.5 695.5h8v8h-8zM992.5 695.5h8v8h-8zM448.5 703.5h24v8h-24zM456.5 711.5h16v8h-16zM984.5 711.5h8v8h-8zM456.5 719.5h32v8h-32zM976.5 719.5h8v8h-8zM368.5 727.5h8v8h-8zM448.5 727.5h16v8h-16zM824.5 727.5h8v8h-8zM968.5 727.5h8v8h-8zM960.5 735.5h8v8h-8zM816.5 743.5h8v8h-8zM952.5 743.5h8v8h-8zM376.5 751.5h8v8h-8zM432.5 751.5h8v8h-8zM936.5 751.5h8v8h-8zM800.5 759.5h8v8h-8zM920.5 759.5h8v8h-8zM384.5 767.5h8v8h-8zM904.5 767.5h8v8h-8zM776.5 775.5h8v8h-8zM896.5 775.5h8v8h-8zM528.5 783.5h16v8h-16zM568.5 783.5h8v8h-8zM888.5 783.5h8v8h-8zM528.5 791.5h8v8h-8zM576.5 791.5h8v8h-8zM656.5 791.5h56v8h-56zM736.5 791.5h16v8h-16zM528.5 799.5h8v8h-8zM568.5 799.5h8v8h-8zM632.5 799.5h8v8h-8zM536.5 807.5h8v8h-8zM560.5 807.5h8v8h-8zM632.5 807.5h8v8h-8zM872.5 807.5h8v8h-8zM544.5 815.5h8v8h-8zM632.5 815.5h8v8h-8zM864.5 815.5h8v8h-8zM632.5 823.5h8v8h-8zM856.5 823.5h8v8h-8zM632.5 831.5h8v8h-8zM632.5 839.5h8v8h-8zM840.5 839.5h8v8h-8zM832.5 847.5h8v8h-8zM832.5 855.5h8v8h-8zM824.5 871.5h8v8h-8zM640.5 879.5h8v8h-8zM816.5 879.5h8v8h-8zM808.5 887.5h8v8h-8zM648.5 895.5h8v8h-8zM784.5 895.5h16v8h-16zM656.5 903.5h8v8h-8zM760.5 903.5h16v8h-16zM664.5 911.5h8v8h-8zM744.5 911.5h8v8h-8zM664.5 919.5h8v8h-8zM736.5 919.5h8v8h-8zM672.5 927.5h8v8h-8zM720.5 927.5h8v8h-8zM680.5 935.5h16v8h-16zM712.5 935.5h8v8h-8zM696.5 943.5h16v8h-16z"/>
<path fill="#32648e" d="M824.5 263.5h8v8h-8zM920.5 263.5h8v8h-8zM752.5 271.5h16v8h-16zM936.5 271.5h8v8h-8zM504.5 279.5h8v8h-8zM656.5 279.5h8v8h-8zM464.5 287.5h8v8h-8zM512.5 287.5h8v8h-8zM968.5 295.5h8v8h-8zM520.5 303.5h8v8h-8zM624.5 303.5h8v8h-8zM976.5 303.5h8v8h-8zM456.5 311.5h8v8h-8zM624.5 311.5h8v8h-8zM456.5 319.5h8v8h-8zM456.5 327.5h8v8h-8zM632.5 327.5h8v8h-8zM424.5 335.5h8v8h-8zM456.5 335.5h8v8h-8zM992.5 335.5h8v8h-8zM376.5 343.5h8v8h-8zM432.5 343.5h8v8h-8zM640.5 343.5h8v8h-8zM440.5 351.5h16v8h-16zM648.5 351.5h8v8h-8zM1000.5 359.5h8v8h-8zM544.5 367.5h8v8h-8zM544.5 375.5h8v8h-8zM672.5 375.5h8v8h-8zM544.5 383.5h8v8h-8zM680.5 383.5h8v8h-8zM544.5 391.5h8v8h-8zM696.5 391.5h40v8h-40zM1008.5 391.5h8v8h-8zM544.5 399.5h8v8h-8zM744.5 399.5h8v8h-8zM544.5 407.5h8v8h-8zM1016.5 407.5h8v8h-8zM544.5 415.5h8v8h-8zM768.5 415.5h8v8h-8zM544.5 423.5h8v8h-8zM1024.5 431.5h8v8h-8zM800.5 439.5h8v8h-8zM1024.5 439.5h8v8h-8zM1024.5 447.5h8v8h-8zM344.5 463.5h8v8h-8zM528.5 463.5h8v8h-8zM816.5 463.5h8v8h-8zM1016.5 463.5h8v8h-8zM520.5 471.5h8v8h-8zM1008.5 479.5h8v8h-8zM496.5 487.5h8v8h-8zM488.5 495.5h8v8h-8zM1000.5 495.5h8v8h-8zM480.5 503.5h8v8h-8zM472.5 519.5h8v8h-8zM824.5 519.5h8v8h-8zM984.5 519.5h8v8h-8zM824.5 527.5h8v8h-8zM824.5 535.5h8v8h-8zM320.5 543.5h8v8h-8zM456.5 543.5h8v8h-8zM824.5 543.5h8v8h-8zM968.5 543.5h8v8h-8zM824.5 551.5h8v8h-8zM968.5 551.5h8v8h-8zM328.5 559.5h8v8h-8zM456.5 567.5h8v8h-8zM976.5 567.5h8v8h-8zM336.5 575.5h8v8h-8zM464.5 575.5h8v8h-8zM984.5 575.5h8v8h-8zM336.5 583.5h8v8h-8zM472.5 583.5h8v8h-8zM336.5 591.5h8v8h-8zM992.5 591.5h8v8h-8zM824.5 607.5h8v8h-8zM504.5 615.5h8v8h-8zM824.5 615.5h8v8h-8zM1000.5 615.5h8v8h-8zM1000.5 623.5h8v8h-8zM1000.5 631.5h8v8h-8zM512.5 639.5h8v8h-8zM1000.5 639.5h8v8h-8zM1000.5 647.5h8v8h-8zM344.5 655.5h8v8h-8zM448.5 663.5h16v8h-16zM456.5 671.5h8v8h-8zM456.5 679.5h8v8h-8zM352.5 687.5h8v8h-8zM448.5 687.5h16v8h-16zM824.5 687.5h8v8h-8zM448.5 695.5h16v8h-16zM504.5 695.5h8v8h-8zM992.5 703.5h8v8h-8zM360.5 711.5h8v8h-8zM496.5 711.5h8v8h-8zM488.5 719.5h8v8h-8zM984.5 719.5h8v8h-8zM464.5 727.5h24v8h-24zM976.5 727.5h8v8h-8zM368.5 735.5h8v8h-8zM448.5 735.5h16v8h-16zM968.5 735.5h8v8h-8zM440.5 743.5h8v8h-8zM960.5 743.5h8v8h-8zM808.5 751.5h8v8h-8zM944.5 751.5h16v8h-16zM376.5 759.5h8v8h-8zM424.5 759.5h8v8h-8zM928.5 759.5h8v8h-8zM416.5 767.5h8v8h-8zM392.5 775.5h16v8h-16zM528.5 775.5h40v8h-40zM520.5 783.5h8v8h-8zM576.5 783.5h16v8h-16zM760.5 783.5h8v8h-8zM520.5 791.5h8v8h-8zM584.5 791.5h8v8h-8zM640.5 791.5h16v8h-16zM712.5 791.5h24v8h-24zM576.5 799.5h8v8h-8zM624.5 799.5h8v8h-8zM880.5 799.5h8v8h-8zM528.5 807.5h8v8h-8zM568.5 807.5h8v8h-8zM624.5 807.5h8v8h-8zM536.5 815.5h8v8h-8zM552.5 815.5h16v8h-16zM624.5 815.5h8v8h-8zM544.5 823.5h8v8h-8zM848.5 831.5h8v8h-8zM632.5 847.5h8v8h-8zM840.5 847.5h8v8h-8zM632.5 855.5h8v8h-8zM632.5 863.5h8v8h-8zM832.5 863.5h8v8h-8zM632.5 871.5h8v8h-8zM832.5 871.5h8v8h-8zM824.5 879.5h8v8h-8zM640.5 887.5h8v8h-8zM816.5 887.5h8v8h-8zM640.5 895.5h8v8h-8zM800.5 895.5h16v8h-16zM648.5 903.5h8v8h-8zM776.5 903.5h16v8h-16zM656.5 911.5h8v8h-8zM752.5 911.5h16v8h-16zM744.5 919.5h8v8h-8zM664.5 927.5h8v8h-8zM728.5 927.5h8v8h-8zM672.5 935.5h8v8h-8zM720.5 935.5h8v8h-8zM680.5 943.5h16v8h-16zM712.5 943.5h8v8h-8z"/>
<path fill="#31668e" d="M880.5 255.5h16v8h-16zM808.5 263.5h16v8h-16zM728.5 271.5h24v8h-24zM472.5 279.5h8v8h-8zM648.5 279.5h8v8h-8zM632.5 287.5h8v8h-8zM960.5 287.5h8v8h-8zM624.5 295.5h8v8h-8zM456.5 303.5h8v8h-8zM984.5 311.5h8v8h-8zM528.5 319.5h8v8h-8zM624.5 319.5h8v8h-8zM408.5 327.5h8v8h-8zM992.5 327.5h8v8h-8zM384.5 335.5h8v8h-8zM432.5 335.5h8v8h-8zM448.5 335.5h8v8h-8zM536.5 335.5h8v8h-8zM632.5 335.5h8v8h-8zM440.5 343.5h16v8h-16zM368.5 351.5h8v8h-8zM544.5 351.5h8v8h-8zM640.5 351.5h8v8h-8zM1000.5 351.5h8v8h-8zM544.5 359.5h8v8h-8zM648.5 359.5h8v8h-8zM360.5 367.5h8v8h-8zM656.5 367.5h8v8h-8zM664.5 375.5h8v8h-8zM672.5 383.5h8v8h-8zM1008.5 383.5h8v8h-8zM688.5 391.5h8v8h-8zM752.5 407.5h8v8h-8zM776.5 423.5h8v8h-8zM1024.5 423.5h8v8h-8zM352.5 431.5h8v8h-8zM544.5 431.5h8v8h-8zM352.5 439.5h8v8h-8zM536.5 455.5h8v8h-8zM1024.5 455.5h8v8h-8zM336.5 471.5h8v8h-8zM1016.5 471.5h8v8h-8zM328.5 479.5h8v8h-8zM512.5 479.5h8v8h-8zM480.5 511.5h8v8h-8zM992.5 511.5h8v8h-8zM984.5 527.5h8v8h-8zM464.5 535.5h8v8h-8zM976.5 535.5h8v8h-8zM456.5 551.5h8v8h-8zM456.5 559.5h8v8h-8zM824.5 559.5h8v8h-8zM976.5 559.5h8v8h-8zM328.5 567.5h8v8h-8zM824.5 567.5h8v8h-8zM824.5 575.5h8v8h-8zM480.5 583.5h8v8h-8zM824.5 583.5h8v8h-8zM992.5 583.5h8v8h-8zM488.5 591.5h8v8h-8zM824.5 591.5h8v8h-8zM336.5 599.5h8v8h-8zM496.5 599.5h8v8h-8zM824.5 599.5h8v8h-8zM336.5 607.5h8v8h-8zM1000.5 607.5h8v8h-8zM336.5 615.5h8v8h-8zM1000.5 655.5h8v8h-8zM344.5 663.5h8v8h-8zM1000.5 663.5h8v8h-8zM448.5 671.5h8v8h-8zM1000.5 671.5h8v8h-8zM448.5 679.5h8v8h-8zM512.5 679.5h8v8h-8zM1000.5 679.5h8v8h-8zM824.5 695.5h8v8h-8zM504.5 703.5h8v8h-8zM992.5 711.5h8v8h-8zM496.5 719.5h8v8h-8zM824.5 719.5h8v8h-8zM992.5 719.5h8v8h-8zM488.5 727.5h8v8h-8zM984.5 727.5h8v8h-8zM464.5 735.5h24v8h-24zM976.5 735.5h8v8h-8zM368.5 743.5h8v8h-8zM448.5 743.5h8v8h-8zM968.5 743.5h8v8h-8zM440.5 751.5h8v8h-8zM960.5 751.5h8v8h-8zM432.5 759.5h8v8h-8zM936.5 759.5h16v8h-16zM784.5 767.5h8v8h-8zM912.5 767.5h8v8h-8zM408.5 775.5h8v8h-8zM520.5 775.5h8v8h-8zM568.5 775.5h16v8h-16zM768.5 775.5h8v8h-8zM512.5 783.5h8v8h-8zM592.5 783.5h8v8h-8zM752.5 783.5h8v8h-8zM896.5 783.5h8v8h-8zM592.5 791.5h48v8h-48zM888.5 791.5h8v8h-8zM520.5 799.5h8v8h-8zM584.5 799.5h16v8h-16zM608.5 799.5h16v8h-16zM520.5 807.5h8v8h-8zM576.5 807.5h8v8h-8zM616.5 807.5h8v8h-8zM880.5 807.5h8v8h-8zM528.5 815.5h8v8h-8zM872.5 815.5h8v8h-8zM536.5 823.5h8v8h-8zM552.5 823.5h8v8h-8zM624.5 823.5h8v8h-8zM864.5 823.5h8v8h-8zM856.5 831.5h8v8h-8zM848.5 839.5h8v8h-8zM840.5 855.5h8v8h-8zM840.5 863.5h8v8h-8zM840.5 871.5h8v8h-8zM632.5 879.5h8v8h-8zM832.5 879.5h8v8h-8zM632.5 887.5h8v8h-8zM824.5 887.5h8v8h-8zM816.5 895.5h8v8h-8zM640.5 903.5h8v8h-8zM792.5 903.5h16v8h-16zM648.5 911.5h8v8h-8zM768.5 911.5h16v8h-16zM656.5 919.5h8v8h-8zM752.5 919.5h8v8h-8zM736.5 927.5h8v8h-8zM728.5 935.5h8v8h-8zM672.5 943.5h8v8h-8zM720.5 943.5h8v8h-8zM688.5 951.5h32v8h-32z"/>
<path fill="#30698e" d="M872.5 255.5h8v8h-8zM896.5 255.5h8v8h-8zM800.5 263.5h8v8h-8zM488.5 271.5h16v8h-16zM688.5 271.5h40v8h-40zM512.5 279.5h8v8h-8zM952.5 279.5h8v8h-8zM456.5 295.5h8v8h-8zM520.5 295.5h8v8h-8zM528.5 311.5h8v8h-8zM448.5 319.5h8v8h-8zM400.5 327.5h8v8h-8zM416.5 327.5h16v8h-16zM448.5 327.5h8v8h-8zM536.5 327.5h8v8h-8zM624.5 327.5h8v8h-8zM440.5 335.5h8v8h-8zM544.5 343.5h8v8h-8zM632.5 343.5h8v8h-8zM640.5 359.5h8v8h-8zM648.5 367.5h8v8h-8zM656.5 375.5h8v8h-8zM1008.5 375.5h8v8h-8zM680.5 391.5h8v8h-8zM728.5 399.5h16v8h-16zM1016.5 399.5h8v8h-8zM352.5 415.5h8v8h-8zM1024.5 415.5h8v8h-8zM352.5 423.5h8v8h-8zM784.5 431.5h8v8h-8zM544.5 439.5h8v8h-8zM1032.5 439.5h8v8h-8zM544.5 447.5h8v8h-8zM1032.5 447.5h8v8h-8zM536.5 463.5h8v8h-8zM1024.5 463.5h8v8h-8zM528.5 471.5h8v8h-8zM816.5 471.5h8v8h-8zM520.5 479.5h8v8h-8zM320.5 487.5h8v8h-8zM504.5 487.5h8v8h-8zM1008.5 487.5h8v8h-8zM496.5 495.5h8v8h-8zM488.5 503.5h8v8h-8zM1000.5 503.5h8v8h-8zM992.5 519.5h8v8h-8zM472.5 527.5h8v8h-8zM464.5 543.5h8v8h-8zM976.5 543.5h8v8h-8zM320.5 551.5h8v8h-8zM976.5 551.5h8v8h-8zM464.5 567.5h8v8h-8zM984.5 567.5h8v8h-8zM328.5 575.5h8v8h-8zM472.5 575.5h8v8h-8zM328.5 583.5h8v8h-8zM1000.5 599.5h8v8h-8zM504.5 607.5h8v8h-8zM336.5 623.5h8v8h-8zM512.5 631.5h8v8h-8zM512.5 687.5h8v8h-8zM1000.5 687.5h8v8h-8zM352.5 695.5h8v8h-8zM1000.5 695.5h8v8h-8zM824.5 703.5h8v8h-8zM1000.5 703.5h8v8h-8zM824.5 711.5h8v8h-8zM1000.5 711.5h8v8h-8zM360.5 719.5h8v8h-8zM496.5 727.5h8v8h-8zM992.5 727.5h8v8h-8zM488.5 735.5h8v8h-8zM816.5 735.5h8v8h-8zM984.5 735.5h8v8h-8zM456.5 743.5h40v8h-40zM976.5 743.5h8v8h-8zM448.5 751.5h8v8h-8zM968.5 751.5h8v8h-8zM952.5 759.5h16v8h-16zM376.5 767.5h8v8h-8zM424.5 767.5h8v8h-8zM512.5 767.5h32v8h-32zM920.5 767.5h24v8h-24zM384.5 775.5h8v8h-8zM416.5 775.5h8v8h-8zM512.5 775.5h8v8h-8zM584.5 775.5h8v8h-8zM904.5 775.5h8v8h-8zM600.5 783.5h24v8h-24zM664.5 783.5h88v8h-88zM512.5 791.5h8v8h-8zM512.5 799.5h8v8h-8zM600.5 799.5h8v8h-8zM888.5 799.5h8v8h-8zM584.5 807.5h8v8h-8zM608.5 807.5h8v8h-8zM520.5 815.5h8v8h-8zM568.5 815.5h8v8h-8zM616.5 815.5h8v8h-8zM528.5 823.5h8v8h-8zM560.5 823.5h8v8h-8zM536.5 831.5h24v8h-24zM624.5 831.5h8v8h-8zM544.5 839.5h8v8h-8zM624.5 839.5h8v8h-8zM856.5 839.5h8v8h-8zM624.5 847.5h8v8h-8zM848.5 847.5h8v8h-8zM624.5 855.5h8v8h-8zM848.5 855.5h8v8h-8zM624.5 863.5h8v8h-8zM848.5 863.5h8v8h-8zM624.5 871.5h8v8h-8zM840.5 879.5h8v8h-8zM832.5 887.5h8v8h-8zM632.5 895.5h8v8h-8zM824.5 895.5h8v8h-8zM808.5 903.5h8v8h-8zM640.5 911.5h8v8h-8zM784.5 911.5h16v8h-16zM648.5 919.5h8v8h-8zM760.5 919.5h16v8h-16zM656.5 927.5h8v8h-8zM744.5 927.5h8v8h-8zM664.5 935.5h8v8h-8zM736.5 935.5h8v8h-8zM728.5 943.5h8v8h-8zM680.5 951.5h8v8h-8zM720.5 951.5h8v8h-8z"/>
<path fill="#2f6b8e" d="M856.5 255.5h16v8h-16zM904.5 255.5h8v8h-8zM792.5 263.5h8v8h-8zM928.5 263.5h8v8h-8zM480.5 271.5h8v8h-8zM504.5 271.5h8v8h-8zM672.5 271.5h16v8h-16zM464.5 279.5h8v8h-8zM640.5 279.5h8v8h-8zM624.5 287.5h8v8h-8zM616.5 295.5h8v8h-8zM976.5 295.5h8v8h-8zM448.5 303.5h8v8h-8zM616.5 303.5h8v8h-8zM448.5 311.5h8v8h-8zM616.5 311.5h8v8h-8zM616.5 319.5h8v8h-8zM992.5 319.5h8v8h-8zM392.5 327.5h8v8h-8zM432.5 327.5h16v8h-16zM624.5 335.5h8v8h-8zM1000.5 343.5h8v8h-8zM632.5 351.5h8v8h-8zM640.5 367.5h8v8h-8zM1008.5 367.5h8v8h-8zM648.5 375.5h8v8h-8zM664.5 383.5h8v8h-8zM1016.5 391.5h8v8h-8zM352.5 399.5h8v8h-8zM696.5 399.5h32v8h-32zM352.5 407.5h8v8h-8zM744.5 407.5h8v8h-8zM1024.5 407.5h8v8h-8zM760.5 415.5h8v8h-8zM1032.5 423.5h8v8h-8zM1032.5 431.5h8v8h-8zM344.5 455.5h8v8h-8zM808.5 455.5h8v8h-8zM1032.5 455.5h8v8h-8zM1024.5 471.5h8v8h-8zM528.5 479.5h8v8h-8zM816.5 479.5h8v8h-8zM1016.5 479.5h8v8h-8zM512.5 487.5h8v8h-8zM816.5 487.5h8v8h-8zM504.5 495.5h8v8h-8zM1008.5 495.5h8v8h-8zM312.5 511.5h8v8h-8zM1000.5 511.5h8v8h-8zM312.5 519.5h8v8h-8zM480.5 519.5h8v8h-8zM312.5 527.5h8v8h-8zM472.5 535.5h8v8h-8zM984.5 535.5h8v8h-8zM464.5 551.5h8v8h-8zM320.5 559.5h8v8h-8zM464.5 559.5h8v8h-8zM472.5 567.5h8v8h-8zM480.5 575.5h8v8h-8zM992.5 575.5h8v8h-8zM488.5 583.5h8v8h-8zM328.5 591.5h8v8h-8zM496.5 591.5h8v8h-8zM1000.5 591.5h8v8h-8zM328.5 599.5h8v8h-8zM328.5 607.5h8v8h-8zM512.5 623.5h8v8h-8zM336.5 631.5h8v8h-8zM336.5 639.5h8v8h-8zM344.5 671.5h8v8h-8zM504.5 711.5h8v8h-8zM1000.5 719.5h8v8h-8zM1000.5 727.5h8v8h-8zM496.5 735.5h8v8h-8zM992.5 735.5h8v8h-8zM496.5 743.5h8v8h-8zM984.5 743.5h8v8h-8zM368.5 751.5h8v8h-8zM456.5 751.5h48v8h-48zM976.5 751.5h8v8h-8zM440.5 759.5h8v8h-8zM488.5 759.5h24v8h-24zM792.5 759.5h8v8h-8zM968.5 759.5h8v8h-8zM432.5 767.5h8v8h-8zM496.5 767.5h16v8h-16zM544.5 767.5h16v8h-16zM776.5 767.5h8v8h-8zM944.5 767.5h24v8h-24zM504.5 775.5h8v8h-8zM592.5 775.5h8v8h-8zM760.5 775.5h8v8h-8zM912.5 775.5h8v8h-8zM392.5 783.5h24v8h-24zM504.5 783.5h8v8h-8zM624.5 783.5h40v8h-40zM504.5 791.5h8v8h-8zM896.5 791.5h8v8h-8zM512.5 807.5h8v8h-8zM592.5 807.5h16v8h-16zM888.5 807.5h8v8h-8zM576.5 815.5h8v8h-8zM880.5 815.5h8v8h-8zM520.5 823.5h8v8h-8zM568.5 823.5h8v8h-8zM616.5 823.5h8v8h-8zM872.5 823.5h8v8h-8zM528.5 831.5h8v8h-8zM560.5 831.5h8v8h-8zM864.5 831.5h8v8h-8zM536.5 839.5h8v8h-8zM552.5 839.5h8v8h-8zM544.5 847.5h16v8h-16zM856.5 847.5h8v8h-8zM856.5 855.5h8v8h-8zM848.5 871.5h8v8h-8zM624.5 879.5h8v8h-8zM848.5 879.5h8v8h-8zM624.5 887.5h8v8h-8zM840.5 887.5h8v8h-8zM624.5 895.5h8v8h-8zM832.5 895.5h8v8h-8zM632.5 903.5h8v8h-8zM816.5 903.5h8v8h-8zM800.5 911.5h8v8h-8zM640.5 919.5h8v8h-8zM776.5 919.5h16v8h-16zM648.5 927.5h8v8h-8zM752.5 927.5h16v8h-16zM656.5 935.5h8v8h-8zM744.5 935.5h8v8h-8zM664.5 943.5h8v8h-8zM736.5 943.5h8v8h-8zM672.5 951.5h8v8h-8zM688.5 959.5h32v8h-32z"/>
<path fill="#2e6d8e" d="M848.5 255.5h8v8h-8zM912.5 255.5h8v8h-8zM776.5 263.5h16v8h-16zM656.5 271.5h16v8h-16zM944.5 271.5h8v8h-8zM456.5 287.5h8v8h-8zM520.5 287.5h8v8h-8zM968.5 287.5h8v8h-8zM528.5 303.5h8v8h-8zM984.5 303.5h8v8h-8zM432.5 319.5h16v8h-16zM536.5 319.5h8v8h-8zM616.5 327.5h8v8h-8zM544.5 335.5h8v8h-8zM1000.5 335.5h8v8h-8zM624.5 343.5h8v8h-8zM552.5 351.5h8v8h-8zM552.5 359.5h8v8h-8zM632.5 359.5h8v8h-8zM1008.5 359.5h8v8h-8zM552.5 367.5h8v8h-8zM552.5 375.5h8v8h-8zM640.5 375.5h8v8h-8zM552.5 383.5h8v8h-8zM656.5 383.5h8v8h-8zM1016.5 383.5h8v8h-8zM352.5 391.5h8v8h-8zM552.5 391.5h8v8h-8zM672.5 391.5h8v8h-8zM552.5 399.5h8v8h-8zM688.5 399.5h8v8h-8zM1024.5 399.5h8v8h-8zM552.5 407.5h8v8h-8zM552.5 415.5h8v8h-8zM1032.5 415.5h8v8h-8zM552.5 423.5h8v8h-8zM768.5 423.5h8v8h-8zM552.5 431.5h8v8h-8zM792.5 439.5h8v8h-8zM1040.5 439.5h8v8h-8zM800.5 447.5h8v8h-8zM544.5 455.5h8v8h-8zM1032.5 463.5h8v8h-8zM536.5 471.5h8v8h-8zM520.5 487.5h8v8h-8zM1016.5 487.5h8v8h-8zM512.5 495.5h8v8h-8zM816.5 495.5h8v8h-8zM312.5 503.5h8v8h-8zM496.5 503.5h8v8h-8zM816.5 503.5h8v8h-8zM488.5 511.5h8v8h-8zM816.5 511.5h8v8h-8zM480.5 527.5h8v8h-8zM992.5 527.5h8v8h-8zM312.5 535.5h8v8h-8zM472.5 543.5h8v8h-8zM984.5 543.5h8v8h-8zM984.5 551.5h8v8h-8zM984.5 559.5h8v8h-8zM320.5 567.5h8v8h-8zM504.5 599.5h8v8h-8zM328.5 615.5h8v8h-8zM1008.5 631.5h8v8h-8zM1008.5 639.5h8v8h-8zM344.5 679.5h8v8h-8zM512.5 695.5h8v8h-8zM1008.5 695.5h8v8h-8zM352.5 703.5h8v8h-8zM1008.5 703.5h8v8h-8zM1008.5 711.5h8v8h-8zM504.5 719.5h8v8h-8zM1008.5 719.5h8v8h-8zM360.5 727.5h8v8h-8zM1000.5 735.5h8v8h-8zM504.5 743.5h8v8h-8zM808.5 743.5h8v8h-8zM992.5 743.5h8v8h-8zM504.5 751.5h8v8h-8zM800.5 751.5h8v8h-8zM984.5 751.5h8v8h-8zM368.5 759.5h8v8h-8zM448.5 759.5h8v8h-8zM472.5 759.5h16v8h-16zM512.5 759.5h16v8h-16zM976.5 759.5h8v8h-8zM488.5 767.5h8v8h-8zM560.5 767.5h16v8h-16zM968.5 767.5h8v8h-8zM424.5 775.5h8v8h-8zM496.5 775.5h8v8h-8zM600.5 775.5h16v8h-16zM752.5 775.5h8v8h-8zM920.5 775.5h48v8h-48zM416.5 783.5h8v8h-8zM496.5 783.5h8v8h-8zM904.5 783.5h8v8h-8zM504.5 799.5h8v8h-8zM896.5 799.5h8v8h-8zM512.5 815.5h8v8h-8zM584.5 815.5h8v8h-8zM608.5 815.5h8v8h-8zM880.5 823.5h8v8h-8zM520.5 831.5h8v8h-8zM568.5 831.5h8v8h-8zM616.5 831.5h8v8h-8zM872.5 831.5h8v8h-8zM528.5 839.5h8v8h-8zM560.5 839.5h8v8h-8zM616.5 839.5h8v8h-8zM864.5 839.5h8v8h-8zM536.5 847.5h8v8h-8zM560.5 847.5h8v8h-8zM864.5 847.5h8v8h-8zM544.5 855.5h16v8h-16zM616.5 863.5h8v8h-8zM856.5 863.5h8v8h-8zM616.5 871.5h8v8h-8zM856.5 871.5h8v8h-8zM616.5 879.5h8v8h-8zM856.5 879.5h8v8h-8zM848.5 887.5h8v8h-8zM840.5 895.5h8v8h-8zM624.5 903.5h8v8h-8zM824.5 903.5h16v8h-16zM632.5 911.5h8v8h-8zM808.5 911.5h16v8h-16zM792.5 919.5h8v8h-8zM640.5 927.5h8v8h-8zM768.5 927.5h8v8h-8zM648.5 935.5h8v8h-8zM752.5 935.5h8v8h-8zM656.5 943.5h8v8h-8zM664.5 951.5h8v8h-8zM728.5 951.5h8v8h-8zM680.5 959.5h8v8h-8zM720.5 959.5h8v8h-8z"/>
<path fill="#2e6f8e" d="M832.5 255.5h16v8h-16zM768.5 263.5h8v8h-8zM472.5 271.5h8v8h-8zM632.5 279.5h8v8h-8zM960.5 279.5h8v8h-8zM448.5 295.5h8v8h-8zM608.5 303.5h8v8h-8zM440.5 311.5h8v8h-8zM608.5 311.5h8v8h-8zM992.5 311.5h8v8h-8zM408.5 319.5h24v8h-24zM544.5 327.5h8v8h-8zM1000.5 327.5h8v8h-8zM376.5 335.5h8v8h-8zM616.5 335.5h8v8h-8zM552.5 343.5h8v8h-8zM624.5 351.5h8v8h-8zM1008.5 351.5h8v8h-8zM360.5 359.5h8v8h-8zM624.5 359.5h8v8h-8zM632.5 367.5h8v8h-8zM632.5 375.5h8v8h-8zM1016.5 375.5h8v8h-8zM648.5 383.5h8v8h-8zM664.5 391.5h8v8h-8zM1024.5 391.5h8v8h-8zM680.5 399.5h8v8h-8zM728.5 407.5h16v8h-16zM752.5 415.5h8v8h-8zM1040.5 431.5h8v8h-8zM552.5 439.5h8v8h-8zM344.5 447.5h8v8h-8zM1040.5 447.5h8v8h-8zM1040.5 455.5h8v8h-8zM336.5 463.5h8v8h-8zM544.5 463.5h8v8h-8zM808.5 463.5h8v8h-8zM328.5 471.5h8v8h-8zM536.5 479.5h8v8h-8zM1024.5 479.5h8v8h-8zM528.5 487.5h8v8h-8zM520.5 495.5h8v8h-8zM504.5 503.5h8v8h-8zM1008.5 503.5h8v8h-8zM496.5 511.5h8v8h-8zM488.5 519.5h8v8h-8zM816.5 519.5h8v8h-8zM1000.5 519.5h8v8h-8zM816.5 527.5h8v8h-8zM816.5 535.5h8v8h-8zM992.5 535.5h8v8h-8zM312.5 543.5h8v8h-8zM472.5 551.5h8v8h-8zM472.5 559.5h8v8h-8zM480.5 567.5h8v8h-8zM992.5 567.5h8v8h-8zM320.5 575.5h8v8h-8zM488.5 575.5h8v8h-8zM320.5 583.5h8v8h-8zM496.5 583.5h8v8h-8zM1000.5 583.5h8v8h-8zM320.5 591.5h8v8h-8zM1008.5 607.5h8v8h-8zM512.5 615.5h8v8h-8zM1008.5 615.5h8v8h-8zM328.5 623.5h8v8h-8zM1008.5 623.5h8v8h-8zM816.5 639.5h8v8h-8zM336.5 647.5h8v8h-8zM520.5 647.5h8v8h-8zM816.5 647.5h8v8h-8zM1008.5 647.5h8v8h-8zM520.5 655.5h8v8h-8zM816.5 655.5h8v8h-8zM1008.5 655.5h8v8h-8zM520.5 663.5h8v8h-8zM816.5 663.5h8v8h-8zM1008.5 663.5h8v8h-8zM520.5 671.5h8v8h-8zM1008.5 671.5h8v8h-8zM1008.5 679.5h8v8h-8zM1008.5 687.5h8v8h-8zM504.5 727.5h8v8h-8zM816.5 727.5h8v8h-8zM1008.5 727.5h8v8h-8zM360.5 735.5h8v8h-8zM504.5 735.5h8v8h-8zM1000.5 743.5h8v8h-8zM512.5 751.5h8v8h-8zM992.5 751.5h8v8h-8zM456.5 759.5h16v8h-16zM528.5 759.5h8v8h-8zM984.5 759.5h8v8h-8zM440.5 767.5h8v8h-8zM480.5 767.5h8v8h-8zM576.5 767.5h8v8h-8zM976.5 767.5h8v8h-8zM376.5 775.5h8v8h-8zM488.5 775.5h8v8h-8zM616.5 775.5h8v8h-8zM744.5 775.5h8v8h-8zM968.5 775.5h8v8h-8zM384.5 783.5h8v8h-8zM912.5 783.5h56v8h-56zM400.5 791.5h8v8h-8zM496.5 791.5h8v8h-8zM904.5 791.5h8v8h-8zM504.5 807.5h8v8h-8zM896.5 807.5h8v8h-8zM592.5 815.5h16v8h-16zM888.5 815.5h8v8h-8zM512.5 823.5h8v8h-8zM576.5 823.5h8v8h-8zM608.5 823.5h8v8h-8zM888.5 823.5h8v8h-8zM880.5 831.5h8v8h-8zM520.5 839.5h8v8h-8zM568.5 839.5h8v8h-8zM872.5 839.5h8v8h-8zM528.5 847.5h8v8h-8zM616.5 847.5h8v8h-8zM872.5 847.5h8v8h-8zM536.5 855.5h8v8h-8zM560.5 855.5h8v8h-8zM616.5 855.5h8v8h-8zM864.5 855.5h8v8h-8zM536.5 863.5h32v8h-32zM864.5 863.5h8v8h-8zM552.5 871.5h8v8h-8zM864.5 871.5h8v8h-8zM864.5 879.5h8v8h-8zM616.5 887.5h8v8h-8zM856.5 887.5h8v8h-8zM616.5 895.5h8v8h-8zM848.5 895.5h8v8h-8zM840.5 903.5h8v8h-8zM624.5 911.5h8v8h-8zM824.5 911.5h8v8h-8zM632.5 919.5h8v8h-8zM800.5 919.5h16v8h-16zM776.5 927.5h16v8h-16zM640.5 935.5h8v8h-8zM760.5 935.5h8v8h-8zM648.5 943.5h8v8h-8zM744.5 943.5h8v8h-8zM656.5 951.5h8v8h-8zM736.5 951.5h8v8h-8zM672.5 959.5h8v8h-8zM728.5 959.5h8v8h-8zM688.5 967.5h24v8h-24z"/>
<path fill="#2d718e" d="M816.5 255.5h16v8h-16zM920.5 255.5h8v8h-8zM496.5 263.5h8v8h-8zM752.5 263.5h16v8h-16zM936.5 263.5h8v8h-8zM512.5 271.5h8v8h-8zM648.5 271.5h8v8h-8zM520.5 279.5h8v8h-8zM616.5 287.5h8v8h-8zM528.5 295.5h8v8h-8zM608.5 295.5h8v8h-8zM440.5 303.5h8v8h-8zM432.5 311.5h8v8h-8zM536.5 311.5h8v8h-8zM400.5 319.5h8v8h-8zM608.5 319.5h8v8h-8zM384.5 327.5h8v8h-8zM552.5 335.5h8v8h-8zM368.5 343.5h8v8h-8zM616.5 343.5h8v8h-8zM1008.5 343.5h8v8h-8zM560.5 359.5h8v8h-8zM560.5 367.5h8v8h-8zM624.5 367.5h8v8h-8zM1016.5 367.5h8v8h-8zM560.5 375.5h8v8h-8zM624.5 375.5h8v8h-8zM352.5 383.5h8v8h-8zM560.5 383.5h8v8h-8zM624.5 383.5h24v8h-24zM560.5 391.5h8v8h-8zM656.5 391.5h8v8h-8zM560.5 399.5h8v8h-8zM672.5 399.5h8v8h-8zM560.5 407.5h8v8h-8zM712.5 407.5h16v8h-16zM1032.5 407.5h8v8h-8zM560.5 415.5h8v8h-8zM1040.5 423.5h8v8h-8zM776.5 431.5h8v8h-8zM552.5 447.5h8v8h-8zM1040.5 463.5h8v8h-8zM544.5 471.5h8v8h-8zM1032.5 471.5h8v8h-8zM320.5 479.5h8v8h-8zM312.5 495.5h8v8h-8zM1016.5 495.5h8v8h-8zM512.5 503.5h8v8h-8zM1008.5 511.5h8v8h-8zM1000.5 527.5h8v8h-8zM480.5 535.5h8v8h-8zM480.5 543.5h8v8h-8zM816.5 543.5h8v8h-8zM992.5 543.5h8v8h-8zM312.5 551.5h8v8h-8zM816.5 551.5h8v8h-8zM992.5 551.5h8v8h-8zM480.5 559.5h8v8h-8zM816.5 559.5h8v8h-8zM992.5 559.5h8v8h-8zM1000.5 575.5h8v8h-8zM504.5 591.5h8v8h-8zM320.5 599.5h8v8h-8zM1008.5 599.5h8v8h-8zM320.5 607.5h8v8h-8zM816.5 623.5h8v8h-8zM328.5 631.5h8v8h-8zM816.5 631.5h8v8h-8zM520.5 639.5h8v8h-8zM336.5 655.5h8v8h-8zM816.5 671.5h8v8h-8zM520.5 679.5h8v8h-8zM816.5 679.5h8v8h-8zM512.5 703.5h8v8h-8zM352.5 711.5h8v8h-8zM1016.5 711.5h8v8h-8zM1016.5 719.5h8v8h-8zM1008.5 735.5h8v8h-8zM512.5 743.5h8v8h-8zM520.5 751.5h8v8h-8zM1000.5 751.5h8v8h-8zM536.5 759.5h16v8h-16zM784.5 759.5h8v8h-8zM992.5 759.5h8v8h-8zM368.5 767.5h8v8h-8zM448.5 767.5h32v8h-32zM584.5 767.5h16v8h-16zM768.5 767.5h8v8h-8zM984.5 767.5h8v8h-8zM432.5 775.5h8v8h-8zM480.5 775.5h8v8h-8zM624.5 775.5h16v8h-16zM672.5 775.5h72v8h-72zM976.5 775.5h8v8h-8zM424.5 783.5h8v8h-8zM488.5 783.5h8v8h-8zM968.5 783.5h8v8h-8zM392.5 791.5h8v8h-8zM408.5 791.5h8v8h-8zM488.5 791.5h8v8h-8zM912.5 791.5h8v8h-8zM928.5 791.5h40v8h-40zM496.5 799.5h8v8h-8zM904.5 799.5h8v8h-8zM504.5 815.5h8v8h-8zM896.5 815.5h8v8h-8zM584.5 823.5h24v8h-24zM896.5 823.5h8v8h-8zM512.5 831.5h8v8h-8zM576.5 831.5h8v8h-8zM608.5 831.5h8v8h-8zM888.5 831.5h8v8h-8zM880.5 839.5h16v8h-16zM520.5 847.5h8v8h-8zM568.5 847.5h8v8h-8zM880.5 847.5h8v8h-8zM528.5 855.5h8v8h-8zM568.5 855.5h8v8h-8zM872.5 855.5h16v8h-16zM568.5 863.5h8v8h-8zM608.5 863.5h8v8h-8zM872.5 863.5h8v8h-8zM544.5 871.5h8v8h-8zM560.5 871.5h16v8h-16zM608.5 871.5h8v8h-8zM872.5 871.5h8v8h-8zM552.5 879.5h16v8h-16zM608.5 879.5h8v8h-8zM872.5 879.5h8v8h-8zM608.5 887.5h8v8h-8zM864.5 887.5h8v8h-8zM608.5 895.5h8v8h-8zM856.5 895.5h8v8h-8zM616.5 903.5h8v8h-8zM848.5 903.5h8v8h-8zM616.5 911.5h8v8h-8zM832.5 911.5h8v8h-8zM624.5 919.5h8v8h-8zM816.5 919.5h8v8h-8zM632.5 927.5h8v8h-8zM792.5 927.5h16v8h-16zM768.5 935.5h16v8h-16zM752.5 943.5h8v8h-8zM744.5 951.5h8v8h-8zM664.5 959.5h8v8h-8zM680.5 967.5h8v8h-8zM712.5 967.5h8v8h-8z"/>
<path fill="#2c728e" d="M808.5 255.5h8v8h-8zM488.5 263.5h8v8h-8zM504.5 263.5h8v8h-8zM688.5 263.5h64v8h-64zM464.5 271.5h8v8h-8zM640.5 271.5h8v8h-8zM952.5 271.5h8v8h-8zM456.5 279.5h8v8h-8zM624.5 279.5h8v8h-8zM448.5 287.5h8v8h-8zM976.5 287.5h8v8h-8zM984.5 295.5h8v8h-8zM992.5 303.5h8v8h-8zM424.5 311.5h8v8h-8zM544.5 319.5h8v8h-8zM1000.5 319.5h8v8h-8zM552.5 327.5h8v8h-8zM608.5 327.5h8v8h-8zM608.5 335.5h8v8h-8zM560.5 343.5h8v8h-8zM560.5 351.5h8v8h-8zM616.5 351.5h8v8h-8zM616.5 359.5h8v8h-8zM1016.5 359.5h8v8h-8zM616.5 367.5h8v8h-8zM608.5 375.5h16v8h-16zM600.5 383.5h24v8h-24zM1024.5 383.5h8v8h-8zM600.5 391.5h56v8h-56zM600.5 399.5h16v8h-16zM664.5 399.5h8v8h-8zM1032.5 399.5h8v8h-8zM696.5 407.5h16v8h-16zM744.5 415.5h8v8h-8zM1040.5 415.5h8v8h-8zM560.5 423.5h8v8h-8zM760.5 423.5h8v8h-8zM560.5 431.5h8v8h-8zM1048.5 431.5h8v8h-8zM344.5 439.5h8v8h-8zM560.5 439.5h8v8h-8zM784.5 439.5h8v8h-8zM1048.5 439.5h8v8h-8zM1048.5 447.5h8v8h-8zM552.5 455.5h8v8h-8zM800.5 455.5h8v8h-8zM1048.5 455.5h8v8h-8zM808.5 471.5h8v8h-8zM536.5 487.5h8v8h-8zM1024.5 487.5h8v8h-8zM528.5 495.5h8v8h-8zM520.5 503.5h8v8h-8zM1016.5 503.5h8v8h-8zM504.5 511.5h8v8h-8zM496.5 519.5h8v8h-8zM1008.5 519.5h8v8h-8zM488.5 527.5h8v8h-8zM1000.5 535.5h8v8h-8zM480.5 551.5h8v8h-8zM312.5 559.5h8v8h-8zM488.5 567.5h8v8h-8zM816.5 567.5h8v8h-8zM1000.5 567.5h8v8h-8zM496.5 575.5h8v8h-8zM816.5 575.5h8v8h-8zM816.5 583.5h8v8h-8zM816.5 591.5h8v8h-8zM1008.5 591.5h8v8h-8zM816.5 599.5h8v8h-8zM512.5 607.5h8v8h-8zM816.5 607.5h8v8h-8zM320.5 615.5h8v8h-8zM816.5 615.5h8v8h-8zM520.5 631.5h8v8h-8zM336.5 663.5h8v8h-8zM344.5 687.5h8v8h-8zM816.5 687.5h8v8h-8zM1016.5 687.5h8v8h-8zM1016.5 695.5h8v8h-8zM1016.5 703.5h8v8h-8zM512.5 711.5h8v8h-8zM1016.5 727.5h8v8h-8zM512.5 735.5h8v8h-8zM1016.5 735.5h8v8h-8zM360.5 743.5h8v8h-8zM1008.5 743.5h8v8h-8zM552.5 759.5h8v8h-8zM1000.5 759.5h8v8h-8zM600.5 767.5h8v8h-8zM760.5 767.5h8v8h-8zM992.5 767.5h8v8h-8zM440.5 775.5h8v8h-8zM472.5 775.5h8v8h-8zM640.5 775.5h32v8h-32zM984.5 775.5h8v8h-8zM480.5 783.5h8v8h-8zM976.5 783.5h8v8h-8zM416.5 791.5h8v8h-8zM920.5 791.5h8v8h-8zM968.5 791.5h8v8h-8zM488.5 799.5h8v8h-8zM912.5 799.5h56v8h-56zM496.5 807.5h8v8h-8zM904.5 807.5h16v8h-16zM936.5 807.5h16v8h-16zM904.5 815.5h8v8h-8zM504.5 823.5h8v8h-8zM904.5 823.5h8v8h-8zM584.5 831.5h8v8h-8zM600.5 831.5h8v8h-8zM896.5 831.5h16v8h-16zM512.5 839.5h8v8h-8zM576.5 839.5h8v8h-8zM608.5 839.5h8v8h-8zM896.5 839.5h8v8h-8zM576.5 847.5h8v8h-8zM608.5 847.5h8v8h-8zM888.5 847.5h8v8h-8zM576.5 855.5h8v8h-8zM608.5 855.5h8v8h-8zM888.5 855.5h8v8h-8zM528.5 863.5h8v8h-8zM576.5 863.5h8v8h-8zM880.5 863.5h8v8h-8zM536.5 871.5h8v8h-8zM576.5 871.5h8v8h-8zM600.5 871.5h8v8h-8zM880.5 871.5h8v8h-8zM544.5 879.5h8v8h-8zM568.5 879.5h16v8h-16zM600.5 879.5h8v8h-8zM880.5 879.5h8v8h-8zM600.5 887.5h8v8h-8zM872.5 887.5h8v8h-8zM600.5 895.5h8v8h-8zM864.5 895.5h8v8h-8zM608.5 903.5h8v8h-8zM856.5 903.5h8v8h-8zM840.5 911.5h8v8h-8zM616.5 919.5h8v8h-8zM824.5 919.5h8v8h-8zM624.5 927.5h8v8h-8zM808.5 927.5h8v8h-8zM632.5 935.5h8v8h-8zM784.5 935.5h16v8h-16zM640.5 943.5h8v8h-8zM760.5 943.5h16v8h-16zM648.5 951.5h8v8h-8zM752.5 951.5h8v8h-8zM656.5 959.5h8v8h-8zM736.5 959.5h8v8h-8zM672.5 967.5h8v8h-8zM720.5 967.5h8v8h-8z"/>
<path fill="#2b748e" d="M880.5 247.5h16v8h-16zM800.5 255.5h8v8h-8zM480.5 263.5h8v8h-8zM672.5 263.5h16v8h-16zM968.5 279.5h8v8h-8zM528.5 287.5h8v8h-8zM608.5 287.5h8v8h-8zM440.5 295.5h8v8h-8zM432.5 303.5h8v8h-8zM536.5 303.5h8v8h-8zM600.5 303.5h8v8h-8zM416.5 311.5h8v8h-8zM600.5 311.5h8v8h-8zM392.5 319.5h8v8h-8zM600.5 319.5h8v8h-8zM600.5 327.5h8v8h-8zM560.5 335.5h8v8h-8zM1008.5 335.5h8v8h-8zM608.5 343.5h8v8h-8zM568.5 351.5h8v8h-8zM608.5 351.5h8v8h-8zM1016.5 351.5h8v8h-8zM568.5 359.5h8v8h-8zM608.5 359.5h8v8h-8zM568.5 367.5h8v8h-8zM600.5 367.5h16v8h-16zM352.5 375.5h8v8h-8zM568.5 375.5h8v8h-8zM592.5 375.5h16v8h-16zM1024.5 375.5h8v8h-8zM568.5 383.5h32v8h-32zM568.5 391.5h32v8h-32zM1032.5 391.5h8v8h-8zM568.5 399.5h32v8h-32zM616.5 399.5h24v8h-24zM648.5 399.5h16v8h-16zM568.5 407.5h48v8h-48zM688.5 407.5h8v8h-8zM1040.5 407.5h8v8h-8zM568.5 415.5h8v8h-8zM568.5 423.5h8v8h-8zM1048.5 423.5h8v8h-8zM560.5 447.5h8v8h-8zM792.5 447.5h8v8h-8zM336.5 455.5h8v8h-8zM552.5 463.5h8v8h-8zM1040.5 471.5h8v8h-8zM544.5 479.5h8v8h-8zM808.5 479.5h8v8h-8zM1032.5 479.5h8v8h-8zM528.5 503.5h8v8h-8zM512.5 511.5h8v8h-8zM504.5 519.5h8v8h-8zM496.5 527.5h8v8h-8zM488.5 535.5h8v8h-8zM488.5 543.5h8v8h-8zM1000.5 543.5h8v8h-8zM488.5 551.5h8v8h-8zM1000.5 551.5h8v8h-8zM488.5 559.5h8v8h-8zM1000.5 559.5h8v8h-8zM312.5 567.5h8v8h-8zM312.5 575.5h8v8h-8zM504.5 583.5h8v8h-8zM1008.5 583.5h8v8h-8zM512.5 599.5h8v8h-8zM1016.5 623.5h8v8h-8zM1016.5 631.5h8v8h-8zM328.5 639.5h8v8h-8zM1016.5 639.5h8v8h-8zM1016.5 647.5h8v8h-8zM1016.5 655.5h8v8h-8zM1016.5 663.5h8v8h-8zM1016.5 671.5h8v8h-8zM1016.5 679.5h8v8h-8zM520.5 687.5h8v8h-8zM816.5 695.5h8v8h-8zM352.5 719.5h8v8h-8zM512.5 719.5h8v8h-8zM816.5 719.5h8v8h-8zM512.5 727.5h8v8h-8zM808.5 735.5h8v8h-8zM520.5 743.5h8v8h-8zM1016.5 743.5h8v8h-8zM360.5 751.5h8v8h-8zM528.5 751.5h8v8h-8zM792.5 751.5h8v8h-8zM1008.5 751.5h8v8h-8zM560.5 759.5h8v8h-8zM776.5 759.5h8v8h-8zM608.5 767.5h8v8h-8zM448.5 775.5h24v8h-24zM376.5 783.5h8v8h-8zM432.5 783.5h8v8h-8zM472.5 783.5h8v8h-8zM984.5 783.5h8v8h-8zM384.5 791.5h8v8h-8zM424.5 791.5h8v8h-8zM480.5 791.5h8v8h-8zM976.5 791.5h8v8h-8zM400.5 799.5h8v8h-8zM968.5 799.5h8v8h-8zM488.5 807.5h8v8h-8zM920.5 807.5h16v8h-16zM952.5 807.5h16v8h-16zM496.5 815.5h8v8h-8zM912.5 815.5h40v8h-40zM912.5 823.5h32v8h-32zM504.5 831.5h8v8h-8zM592.5 831.5h8v8h-8zM912.5 831.5h16v8h-16zM584.5 839.5h24v8h-24zM904.5 839.5h16v8h-16zM512.5 847.5h8v8h-8zM584.5 847.5h8v8h-8zM600.5 847.5h8v8h-8zM896.5 847.5h16v8h-16zM520.5 855.5h8v8h-8zM584.5 855.5h24v8h-24zM896.5 855.5h8v8h-8zM584.5 863.5h24v8h-24zM888.5 863.5h16v8h-16zM528.5 871.5h8v8h-8zM584.5 871.5h16v8h-16zM888.5 871.5h8v8h-8zM536.5 879.5h8v8h-8zM584.5 879.5h16v8h-16zM552.5 887.5h48v8h-48zM880.5 887.5h8v8h-8zM592.5 895.5h8v8h-8zM872.5 895.5h8v8h-8zM600.5 903.5h8v8h-8zM864.5 903.5h8v8h-8zM608.5 911.5h8v8h-8zM848.5 911.5h8v8h-8zM832.5 919.5h8v8h-8zM616.5 927.5h8v8h-8zM816.5 927.5h8v8h-8zM624.5 935.5h8v8h-8zM800.5 935.5h8v8h-8zM632.5 943.5h8v8h-8zM776.5 943.5h16v8h-16zM640.5 951.5h8v8h-8zM760.5 951.5h8v8h-8zM744.5 959.5h8v8h-8zM664.5 967.5h8v8h-8zM728.5 967.5h8v8h-8z"/>
<path fill="#2a778e" d="M864.5 247.5h16v8h-16zM896.5 247.5h16v8h-16zM792.5 255.5h8v8h-8zM928.5 255.5h8v8h-8zM512.5 263.5h8v8h-8zM664.5 263.5h8v8h-8zM944.5 263.5h8v8h-8zM520.5 271.5h8v8h-8zM616.5 279.5h8v8h-8zM536.5 295.5h8v8h-8zM600.5 295.5h8v8h-8zM408.5 311.5h8v8h-8zM544.5 311.5h8v8h-8zM592.5 311.5h8v8h-8zM1000.5 311.5h8v8h-8zM552.5 319.5h8v8h-8zM560.5 327.5h8v8h-8zM1008.5 327.5h8v8h-8zM568.5 335.5h8v8h-8zM600.5 335.5h8v8h-8zM568.5 343.5h8v8h-8zM600.5 343.5h8v8h-8zM360.5 351.5h8v8h-8zM576.5 351.5h8v8h-8zM600.5 351.5h8v8h-8zM576.5 359.5h32v8h-32zM576.5 367.5h24v8h-24zM1024.5 367.5h8v8h-8zM576.5 375.5h16v8h-16zM1032.5 383.5h8v8h-8zM640.5 399.5h8v8h-8zM1040.5 399.5h8v8h-8zM616.5 407.5h16v8h-16zM672.5 407.5h16v8h-16zM576.5 415.5h32v8h-32zM728.5 415.5h16v8h-16zM1048.5 415.5h8v8h-8zM576.5 423.5h8v8h-8zM752.5 423.5h8v8h-8zM344.5 431.5h8v8h-8zM568.5 431.5h8v8h-8zM768.5 431.5h8v8h-8zM1056.5 439.5h8v8h-8zM1056.5 447.5h8v8h-8zM328.5 463.5h8v8h-8zM1048.5 463.5h8v8h-8zM312.5 487.5h8v8h-8zM808.5 487.5h8v8h-8zM1032.5 487.5h8v8h-8zM536.5 495.5h8v8h-8zM808.5 495.5h8v8h-8zM1024.5 495.5h8v8h-8zM520.5 511.5h8v8h-8zM1016.5 511.5h8v8h-8zM512.5 519.5h8v8h-8zM504.5 527.5h8v8h-8zM1008.5 527.5h8v8h-8zM496.5 535.5h8v8h-8zM1008.5 535.5h8v8h-8zM496.5 567.5h8v8h-8zM504.5 575.5h8v8h-8zM1008.5 575.5h8v8h-8zM312.5 583.5h8v8h-8zM312.5 591.5h8v8h-8zM1016.5 607.5h8v8h-8zM1016.5 615.5h8v8h-8zM320.5 623.5h8v8h-8zM520.5 623.5h8v8h-8zM336.5 671.5h8v8h-8zM344.5 695.5h8v8h-8zM1024.5 695.5h8v8h-8zM816.5 703.5h8v8h-8zM1024.5 703.5h8v8h-8zM816.5 711.5h8v8h-8zM1024.5 711.5h8v8h-8zM1024.5 719.5h8v8h-8zM1024.5 727.5h8v8h-8zM800.5 743.5h8v8h-8zM536.5 751.5h8v8h-8zM1016.5 751.5h8v8h-8zM568.5 759.5h8v8h-8zM1008.5 759.5h8v8h-8zM616.5 767.5h8v8h-8zM752.5 767.5h8v8h-8zM1000.5 767.5h8v8h-8zM368.5 775.5h8v8h-8zM992.5 775.5h8v8h-8zM440.5 783.5h16v8h-16zM464.5 783.5h8v8h-8zM432.5 791.5h8v8h-8zM472.5 791.5h8v8h-8zM392.5 799.5h8v8h-8zM408.5 799.5h16v8h-16zM480.5 799.5h8v8h-8zM968.5 807.5h8v8h-8zM488.5 815.5h8v8h-8zM952.5 815.5h16v8h-16zM496.5 823.5h8v8h-8zM944.5 823.5h8v8h-8zM928.5 831.5h16v8h-16zM504.5 839.5h8v8h-8zM920.5 839.5h16v8h-16zM592.5 847.5h8v8h-8zM912.5 847.5h16v8h-16zM512.5 855.5h8v8h-8zM904.5 855.5h16v8h-16zM520.5 863.5h8v8h-8zM904.5 863.5h8v8h-8zM896.5 871.5h8v8h-8zM528.5 879.5h8v8h-8zM888.5 879.5h8v8h-8zM544.5 887.5h8v8h-8zM888.5 887.5h8v8h-8zM568.5 895.5h24v8h-24zM880.5 895.5h8v8h-8zM592.5 903.5h8v8h-8zM872.5 903.5h8v8h-8zM600.5 911.5h8v8h-8zM856.5 911.5h8v8h-8zM608.5 919.5h8v8h-8zM840.5 919.5h8v8h-8zM824.5 927.5h8v8h-8zM616.5 935.5h8v8h-8zM808.5 935.5h8v8h-8zM624.5 943.5h8v8h-8zM792.5 943.5h8v8h-8zM632.5 951.5h8v8h-8zM768.5 951.5h8v8h-8zM648.5 959.5h8v8h-8zM752.5 959.5h8v8h-8zM656.5 967.5h8v8h-8zM736.5 967.5h8v8h-8zM680.5 975.5h40v8h-40z"/>
<path fill="#29798e" d="M848.5 247.5h16v8h-16zM784.5 255.5h8v8h-8zM472.5 263.5h8v8h-8zM656.5 263.5h8v8h-8zM456.5 271.5h8v8h-8zM632.5 271.5h8v8h-8zM960.5 271.5h8v8h-8zM448.5 279.5h8v8h-8zM528.5 279.5h8v8h-8zM440.5 287.5h8v8h-8zM984.5 287.5h8v8h-8zM432.5 295.5h8v8h-8zM992.5 295.5h8v8h-8zM424.5 303.5h8v8h-8zM592.5 303.5h8v8h-8zM560.5 319.5h8v8h-8zM592.5 319.5h8v8h-8zM568.5 327.5h8v8h-8zM584.5 327.5h16v8h-16zM576.5 335.5h24v8h-24zM576.5 343.5h24v8h-24zM1016.5 343.5h8v8h-8zM584.5 351.5h16v8h-16zM1024.5 359.5h8v8h-8zM352.5 367.5h8v8h-8zM1032.5 375.5h8v8h-8zM1040.5 391.5h8v8h-8zM632.5 407.5h8v8h-8zM664.5 407.5h8v8h-8zM608.5 415.5h16v8h-16zM720.5 415.5h8v8h-8zM344.5 423.5h8v8h-8zM584.5 423.5h16v8h-16zM576.5 431.5h8v8h-8zM1056.5 431.5h8v8h-8zM568.5 439.5h8v8h-8zM560.5 455.5h8v8h-8zM1056.5 455.5h8v8h-8zM800.5 463.5h8v8h-8zM320.5 471.5h8v8h-8zM552.5 471.5h8v8h-8zM1048.5 471.5h8v8h-8zM1040.5 479.5h8v8h-8zM544.5 487.5h8v8h-8zM536.5 503.5h8v8h-8zM808.5 503.5h8v8h-8zM1024.5 503.5h8v8h-8zM528.5 511.5h8v8h-8zM808.5 511.5h8v8h-8zM520.5 519.5h8v8h-8zM1016.5 519.5h8v8h-8zM504.5 535.5h8v8h-8zM496.5 543.5h8v8h-8zM1008.5 543.5h8v8h-8zM496.5 551.5h8v8h-8zM1008.5 551.5h8v8h-8zM496.5 559.5h8v8h-8zM1008.5 559.5h8v8h-8zM504.5 567.5h8v8h-8zM1008.5 567.5h8v8h-8zM512.5 591.5h8v8h-8zM312.5 599.5h8v8h-8zM1016.5 599.5h8v8h-8zM312.5 607.5h8v8h-8zM520.5 615.5h8v8h-8zM320.5 631.5h8v8h-8zM328.5 647.5h8v8h-8zM1024.5 671.5h8v8h-8zM1024.5 679.5h8v8h-8zM1024.5 687.5h8v8h-8zM520.5 695.5h8v8h-8zM352.5 727.5h8v8h-8zM520.5 735.5h8v8h-8zM1024.5 735.5h8v8h-8zM1024.5 743.5h8v8h-8zM360.5 759.5h8v8h-8zM576.5 759.5h8v8h-8zM624.5 767.5h8v8h-8zM736.5 767.5h16v8h-16zM1008.5 767.5h8v8h-8zM1000.5 775.5h8v8h-8zM456.5 783.5h8v8h-8zM992.5 783.5h8v8h-8zM440.5 791.5h8v8h-8zM464.5 791.5h8v8h-8zM984.5 791.5h8v8h-8zM424.5 799.5h8v8h-8zM472.5 799.5h8v8h-8zM976.5 799.5h8v8h-8zM480.5 807.5h8v8h-8zM952.5 823.5h8v8h-8zM496.5 831.5h8v8h-8zM944.5 831.5h16v8h-16zM936.5 839.5h16v8h-16zM504.5 847.5h8v8h-8zM928.5 847.5h16v8h-16zM920.5 855.5h16v8h-16zM912.5 863.5h8v8h-8zM520.5 871.5h8v8h-8zM904.5 871.5h8v8h-8zM896.5 879.5h8v8h-8zM536.5 887.5h8v8h-8zM896.5 887.5h8v8h-8zM552.5 895.5h16v8h-16zM888.5 895.5h8v8h-8zM584.5 903.5h8v8h-8zM880.5 903.5h8v8h-8zM592.5 911.5h8v8h-8zM864.5 911.5h8v8h-8zM600.5 919.5h8v8h-8zM848.5 919.5h8v8h-8zM608.5 927.5h8v8h-8zM832.5 927.5h8v8h-8zM816.5 935.5h8v8h-8zM800.5 943.5h8v8h-8zM776.5 951.5h16v8h-16zM640.5 959.5h8v8h-8zM760.5 959.5h8v8h-8zM744.5 967.5h8v8h-8zM672.5 975.5h8v8h-8zM720.5 975.5h8v8h-8z"/>
<path fill="#297b8e" d="M832.5 247.5h16v8h-16zM912.5 247.5h8v8h-8zM496.5 255.5h8v8h-8zM776.5 255.5h8v8h-8zM648.5 263.5h8v8h-8zM976.5 279.5h8v8h-8zM536.5 287.5h8v8h-8zM600.5 287.5h8v8h-8zM592.5 295.5h8v8h-8zM416.5 303.5h8v8h-8zM544.5 303.5h8v8h-8zM1000.5 303.5h8v8h-8zM400.5 311.5h8v8h-8zM552.5 311.5h8v8h-8zM584.5 311.5h8v8h-8zM568.5 319.5h24v8h-24zM1008.5 319.5h8v8h-8zM376.5 327.5h8v8h-8zM576.5 327.5h8v8h-8zM1016.5 335.5h8v8h-8zM1024.5 351.5h8v8h-8zM1032.5 367.5h8v8h-8zM344.5 407.5h8v8h-8zM640.5 407.5h24v8h-24zM1048.5 407.5h8v8h-8zM344.5 415.5h8v8h-8zM624.5 415.5h8v8h-8zM704.5 415.5h16v8h-16zM600.5 423.5h8v8h-8zM1056.5 423.5h8v8h-8zM584.5 431.5h8v8h-8zM576.5 439.5h8v8h-8zM776.5 439.5h8v8h-8zM336.5 447.5h8v8h-8zM568.5 447.5h8v8h-8zM560.5 463.5h8v8h-8zM1056.5 463.5h8v8h-8zM1032.5 495.5h8v8h-8zM808.5 519.5h8v8h-8zM512.5 527.5h8v8h-8zM808.5 527.5h8v8h-8zM1016.5 527.5h8v8h-8zM504.5 543.5h8v8h-8zM504.5 551.5h8v8h-8zM504.5 559.5h8v8h-8zM512.5 583.5h8v8h-8zM1016.5 583.5h8v8h-8zM1016.5 591.5h8v8h-8zM520.5 607.5h8v8h-8zM1024.5 631.5h8v8h-8zM1024.5 639.5h8v8h-8zM1024.5 647.5h8v8h-8zM328.5 655.5h8v8h-8zM1024.5 655.5h8v8h-8zM1024.5 663.5h8v8h-8zM336.5 679.5h8v8h-8zM1032.5 695.5h8v8h-8zM344.5 703.5h8v8h-8zM520.5 703.5h8v8h-8zM1032.5 703.5h8v8h-8zM1032.5 711.5h8v8h-8zM1032.5 719.5h8v8h-8zM520.5 727.5h8v8h-8zM1032.5 727.5h8v8h-8zM352.5 735.5h8v8h-8zM528.5 743.5h8v8h-8zM544.5 751.5h8v8h-8zM784.5 751.5h8v8h-8zM1024.5 751.5h8v8h-8zM584.5 759.5h8v8h-8zM768.5 759.5h8v8h-8zM1016.5 759.5h8v8h-8zM632.5 767.5h8v8h-8zM688.5 767.5h48v8h-48zM376.5 791.5h8v8h-8zM448.5 791.5h16v8h-16zM992.5 791.5h8v8h-8zM432.5 799.5h8v8h-8zM464.5 799.5h8v8h-8zM984.5 799.5h8v8h-8zM400.5 807.5h16v8h-16zM472.5 807.5h8v8h-8zM976.5 807.5h8v8h-8zM480.5 815.5h8v8h-8zM968.5 815.5h8v8h-8zM488.5 823.5h8v8h-8zM960.5 823.5h8v8h-8zM496.5 839.5h8v8h-8zM952.5 839.5h8v8h-8zM944.5 847.5h8v8h-8zM504.5 855.5h8v8h-8zM936.5 855.5h8v8h-8zM512.5 863.5h8v8h-8zM920.5 863.5h16v8h-16zM912.5 871.5h16v8h-16zM520.5 879.5h8v8h-8zM904.5 879.5h16v8h-16zM528.5 887.5h8v8h-8zM904.5 887.5h8v8h-8zM544.5 895.5h8v8h-8zM896.5 895.5h8v8h-8zM568.5 903.5h16v8h-16zM888.5 903.5h8v8h-8zM584.5 911.5h8v8h-8zM872.5 911.5h8v8h-8zM592.5 919.5h8v8h-8zM856.5 919.5h8v8h-8zM600.5 927.5h8v8h-8zM840.5 927.5h8v8h-8zM608.5 935.5h8v8h-8zM824.5 935.5h8v8h-8zM616.5 943.5h8v8h-8zM808.5 943.5h8v8h-8zM624.5 951.5h8v8h-8zM792.5 951.5h8v8h-8zM632.5 959.5h8v8h-8zM768.5 959.5h8v8h-8zM648.5 967.5h8v8h-8zM752.5 967.5h8v8h-8zM664.5 975.5h8v8h-8zM728.5 975.5h8v8h-8z"/>
<path fill="#287d8e" d="M816.5 247.5h16v8h-16zM488.5 255.5h8v8h-8zM504.5 255.5h8v8h-8zM768.5 255.5h8v8h-8zM936.5 255.5h8v8h-8zM464.5 263.5h8v8h-8zM520.5 263.5h8v8h-8zM952.5 263.5h8v8h-8zM528.5 271.5h8v8h-8zM624.5 271.5h8v8h-8zM608.5 279.5h8v8h-8zM424.5 295.5h8v8h-8zM544.5 295.5h8v8h-8zM584.5 303.5h8v8h-8zM560.5 311.5h24v8h-24zM384.5 319.5h8v8h-8zM368.5 335.5h8v8h-8zM1040.5 383.5h8v8h-8zM344.5 399.5h8v8h-8zM1048.5 399.5h8v8h-8zM632.5 415.5h8v8h-8zM688.5 415.5h16v8h-16zM1056.5 415.5h8v8h-8zM608.5 423.5h16v8h-16zM744.5 423.5h8v8h-8zM592.5 431.5h8v8h-8zM760.5 431.5h8v8h-8zM1064.5 439.5h8v8h-8zM784.5 447.5h8v8h-8zM1064.5 447.5h8v8h-8zM792.5 455.5h8v8h-8zM1064.5 455.5h8v8h-8zM800.5 471.5h8v8h-8zM1056.5 471.5h8v8h-8zM312.5 479.5h8v8h-8zM552.5 479.5h8v8h-8zM1048.5 479.5h8v8h-8zM1040.5 487.5h8v8h-8zM544.5 495.5h8v8h-8zM536.5 511.5h8v8h-8zM1024.5 511.5h8v8h-8zM304.5 519.5h8v8h-8zM528.5 519.5h8v8h-8zM304.5 527.5h8v8h-8zM520.5 527.5h8v8h-8zM304.5 535.5h8v8h-8zM512.5 535.5h8v8h-8zM808.5 535.5h8v8h-8zM1016.5 535.5h8v8h-8zM304.5 543.5h8v8h-8zM512.5 543.5h8v8h-8zM808.5 543.5h8v8h-8zM304.5 551.5h8v8h-8zM1016.5 567.5h8v8h-8zM512.5 575.5h8v8h-8zM1016.5 575.5h8v8h-8zM1024.5 607.5h8v8h-8zM312.5 615.5h8v8h-8zM1024.5 615.5h8v8h-8zM1024.5 623.5h8v8h-8zM320.5 639.5h8v8h-8zM528.5 647.5h8v8h-8zM528.5 655.5h8v8h-8zM528.5 663.5h8v8h-8zM528.5 671.5h8v8h-8zM1032.5 671.5h8v8h-8zM1032.5 679.5h8v8h-8zM1032.5 687.5h8v8h-8zM520.5 711.5h8v8h-8zM520.5 719.5h8v8h-8zM808.5 727.5h8v8h-8zM1032.5 735.5h8v8h-8zM352.5 743.5h8v8h-8zM552.5 751.5h8v8h-8zM592.5 759.5h8v8h-8zM360.5 767.5h8v8h-8zM640.5 767.5h48v8h-48zM1016.5 767.5h8v8h-8zM1008.5 775.5h8v8h-8zM1000.5 783.5h8v8h-8zM384.5 799.5h8v8h-8zM440.5 799.5h24v8h-24zM416.5 807.5h16v8h-16zM472.5 815.5h8v8h-8zM976.5 815.5h8v8h-8zM480.5 823.5h8v8h-8zM968.5 823.5h8v8h-8zM488.5 831.5h8v8h-8zM960.5 831.5h8v8h-8zM496.5 847.5h8v8h-8zM952.5 847.5h8v8h-8zM944.5 855.5h8v8h-8zM504.5 863.5h8v8h-8zM936.5 863.5h8v8h-8zM512.5 871.5h8v8h-8zM928.5 871.5h8v8h-8zM920.5 879.5h8v8h-8zM912.5 887.5h8v8h-8zM536.5 895.5h8v8h-8zM904.5 895.5h8v8h-8zM552.5 903.5h16v8h-16zM576.5 911.5h8v8h-8zM880.5 911.5h8v8h-8zM864.5 919.5h8v8h-8zM848.5 927.5h8v8h-8zM600.5 935.5h8v8h-8zM832.5 935.5h8v8h-8zM608.5 943.5h8v8h-8zM816.5 943.5h8v8h-8zM616.5 951.5h8v8h-8zM800.5 951.5h8v8h-8zM624.5 959.5h8v8h-8zM776.5 959.5h16v8h-16zM640.5 967.5h8v8h-8zM760.5 967.5h8v8h-8zM736.5 975.5h8v8h-8z"/>
<path fill="#277f8e" d="M808.5 247.5h8v8h-8zM920.5 247.5h8v8h-8zM480.5 255.5h8v8h-8zM512.5 255.5h8v8h-8zM680.5 255.5h88v8h-88zM640.5 263.5h8v8h-8zM448.5 271.5h8v8h-8zM968.5 271.5h8v8h-8zM440.5 279.5h8v8h-8zM536.5 279.5h8v8h-8zM432.5 287.5h8v8h-8zM592.5 287.5h8v8h-8zM584.5 295.5h8v8h-8zM408.5 303.5h8v8h-8zM552.5 303.5h8v8h-8zM576.5 303.5h8v8h-8zM392.5 311.5h8v8h-8zM1008.5 311.5h8v8h-8zM1016.5 327.5h8v8h-8zM1024.5 343.5h8v8h-8zM1032.5 359.5h8v8h-8zM1040.5 375.5h8v8h-8zM344.5 391.5h8v8h-8zM1048.5 391.5h8v8h-8zM640.5 415.5h48v8h-48zM624.5 423.5h8v8h-8zM736.5 423.5h8v8h-8zM600.5 431.5h8v8h-8zM1064.5 431.5h8v8h-8zM584.5 439.5h8v8h-8zM576.5 447.5h8v8h-8zM328.5 455.5h8v8h-8zM568.5 455.5h8v8h-8zM1064.5 463.5h8v8h-8zM560.5 471.5h8v8h-8zM552.5 487.5h8v8h-8zM544.5 503.5h8v8h-8zM1032.5 503.5h8v8h-8zM304.5 511.5h8v8h-8zM1024.5 519.5h8v8h-8zM528.5 527.5h8v8h-8zM520.5 535.5h8v8h-8zM1016.5 543.5h8v8h-8zM512.5 551.5h8v8h-8zM808.5 551.5h8v8h-8zM1016.5 551.5h8v8h-8zM304.5 559.5h8v8h-8zM512.5 559.5h8v8h-8zM808.5 559.5h8v8h-8zM1016.5 559.5h8v8h-8zM304.5 567.5h8v8h-8zM512.5 567.5h8v8h-8zM1024.5 591.5h8v8h-8zM520.5 599.5h8v8h-8zM1024.5 599.5h8v8h-8zM312.5 623.5h8v8h-8zM528.5 639.5h8v8h-8zM808.5 647.5h8v8h-8zM1032.5 647.5h8v8h-8zM808.5 655.5h8v8h-8zM1032.5 655.5h8v8h-8zM328.5 663.5h8v8h-8zM1032.5 663.5h8v8h-8zM528.5 679.5h8v8h-8zM336.5 687.5h8v8h-8zM344.5 711.5h8v8h-8zM528.5 735.5h8v8h-8zM800.5 735.5h8v8h-8zM536.5 743.5h8v8h-8zM792.5 743.5h8v8h-8zM1032.5 743.5h8v8h-8zM560.5 751.5h8v8h-8zM600.5 759.5h8v8h-8zM760.5 759.5h8v8h-8zM1024.5 759.5h8v8h-8zM368.5 783.5h8v8h-8zM1008.5 783.5h8v8h-8zM1000.5 791.5h8v8h-8zM992.5 799.5h8v8h-8zM392.5 807.5h8v8h-8zM432.5 807.5h16v8h-16zM456.5 807.5h16v8h-16zM984.5 807.5h8v8h-8zM464.5 815.5h8v8h-8zM472.5 823.5h8v8h-8zM480.5 831.5h8v8h-8zM968.5 831.5h8v8h-8zM488.5 839.5h8v8h-8zM960.5 839.5h8v8h-8zM496.5 855.5h8v8h-8zM952.5 855.5h8v8h-8zM944.5 863.5h8v8h-8zM504.5 871.5h8v8h-8zM936.5 871.5h8v8h-8zM512.5 879.5h8v8h-8zM520.5 887.5h8v8h-8zM528.5 895.5h8v8h-8zM544.5 903.5h8v8h-8zM896.5 903.5h8v8h-8zM568.5 911.5h8v8h-8zM888.5 911.5h8v8h-8zM584.5 919.5h8v8h-8zM872.5 919.5h8v8h-8zM592.5 927.5h8v8h-8zM856.5 927.5h8v8h-8zM824.5 943.5h8v8h-8zM808.5 951.5h8v8h-8zM792.5 959.5h8v8h-8zM632.5 967.5h8v8h-8zM768.5 967.5h8v8h-8zM656.5 975.5h8v8h-8zM744.5 975.5h8v8h-8z"/>
<path fill="#26818e" d="M800.5 247.5h8v8h-8zM672.5 255.5h8v8h-8zM944.5 255.5h8v8h-8zM528.5 263.5h8v8h-8zM616.5 271.5h8v8h-8zM600.5 279.5h8v8h-8zM984.5 279.5h8v8h-8zM544.5 287.5h8v8h-8zM992.5 287.5h8v8h-8zM416.5 295.5h8v8h-8zM560.5 303.5h16v8h-16zM360.5 343.5h8v8h-8zM1032.5 351.5h8v8h-8zM352.5 359.5h8v8h-8zM1040.5 367.5h8v8h-8zM1056.5 407.5h8v8h-8zM632.5 423.5h8v8h-8zM728.5 423.5h8v8h-8zM1064.5 423.5h8v8h-8zM608.5 431.5h8v8h-8zM752.5 431.5h8v8h-8zM336.5 439.5h8v8h-8zM592.5 439.5h8v8h-8zM768.5 439.5h8v8h-8zM320.5 463.5h8v8h-8zM800.5 479.5h8v8h-8zM1056.5 479.5h8v8h-8zM1048.5 487.5h8v8h-8zM1040.5 495.5h8v8h-8zM1032.5 511.5h8v8h-8zM536.5 519.5h8v8h-8zM1024.5 527.5h8v8h-8zM528.5 535.5h8v8h-8zM520.5 543.5h8v8h-8zM520.5 551.5h8v8h-8zM808.5 567.5h8v8h-8zM304.5 575.5h8v8h-8zM808.5 575.5h8v8h-8zM304.5 583.5h8v8h-8zM520.5 583.5h8v8h-8zM808.5 583.5h8v8h-8zM1024.5 583.5h8v8h-8zM520.5 591.5h8v8h-8zM1032.5 615.5h8v8h-8zM808.5 623.5h8v8h-8zM1032.5 623.5h8v8h-8zM528.5 631.5h8v8h-8zM808.5 631.5h8v8h-8zM1032.5 631.5h8v8h-8zM808.5 639.5h8v8h-8zM1032.5 639.5h8v8h-8zM320.5 647.5h8v8h-8zM808.5 663.5h8v8h-8zM1040.5 663.5h8v8h-8zM808.5 671.5h8v8h-8zM1040.5 671.5h8v8h-8zM1040.5 679.5h8v8h-8zM1040.5 687.5h8v8h-8zM1040.5 695.5h8v8h-8zM1040.5 703.5h8v8h-8zM1040.5 711.5h8v8h-8zM344.5 719.5h8v8h-8zM808.5 719.5h8v8h-8zM1040.5 719.5h8v8h-8zM1040.5 727.5h8v8h-8zM352.5 751.5h8v8h-8zM776.5 751.5h8v8h-8zM1032.5 751.5h8v8h-8zM608.5 759.5h8v8h-8zM752.5 759.5h8v8h-8zM1024.5 767.5h8v8h-8zM1016.5 775.5h8v8h-8zM448.5 807.5h8v8h-8zM400.5 815.5h40v8h-40zM456.5 815.5h8v8h-8zM984.5 815.5h8v8h-8zM464.5 823.5h8v8h-8zM976.5 823.5h8v8h-8zM472.5 831.5h8v8h-8zM480.5 839.5h8v8h-8zM968.5 839.5h8v8h-8zM488.5 847.5h8v8h-8zM960.5 847.5h8v8h-8zM488.5 855.5h8v8h-8zM496.5 863.5h8v8h-8zM928.5 879.5h8v8h-8zM512.5 887.5h8v8h-8zM920.5 887.5h8v8h-8zM520.5 895.5h8v8h-8zM912.5 895.5h8v8h-8zM536.5 903.5h8v8h-8zM904.5 903.5h8v8h-8zM560.5 911.5h8v8h-8zM896.5 911.5h8v8h-8zM576.5 919.5h8v8h-8zM880.5 919.5h8v8h-8zM584.5 927.5h8v8h-8zM864.5 927.5h8v8h-8zM592.5 935.5h8v8h-8zM840.5 935.5h8v8h-8zM600.5 943.5h8v8h-8zM608.5 951.5h8v8h-8zM616.5 959.5h8v8h-8zM800.5 959.5h8v8h-8zM776.5 967.5h8v8h-8zM648.5 975.5h8v8h-8zM752.5 975.5h8v8h-8zM688.5 983.5h32v8h-32z"/>
<path fill="#25838e" d="M872.5 239.5h32v8h-32zM792.5 247.5h8v8h-8zM928.5 247.5h8v8h-8zM472.5 255.5h8v8h-8zM520.5 255.5h8v8h-8zM664.5 255.5h8v8h-8zM456.5 263.5h8v8h-8zM632.5 263.5h8v8h-8zM960.5 263.5h8v8h-8zM536.5 271.5h8v8h-8zM424.5 287.5h8v8h-8zM584.5 287.5h8v8h-8zM552.5 295.5h32v8h-32zM1000.5 295.5h8v8h-8zM400.5 303.5h8v8h-8zM1016.5 319.5h8v8h-8zM1024.5 335.5h8v8h-8zM344.5 383.5h8v8h-8zM1048.5 383.5h8v8h-8zM1056.5 399.5h8v8h-8zM640.5 423.5h8v8h-8zM720.5 423.5h8v8h-8zM336.5 431.5h8v8h-8zM616.5 431.5h8v8h-8zM584.5 447.5h8v8h-8zM1072.5 447.5h8v8h-8zM1072.5 455.5h8v8h-8zM568.5 463.5h8v8h-8zM1064.5 471.5h8v8h-8zM800.5 487.5h8v8h-8zM552.5 495.5h8v8h-8zM304.5 503.5h8v8h-8zM1040.5 503.5h8v8h-8zM544.5 511.5h8v8h-8zM536.5 527.5h8v8h-8zM1024.5 535.5h8v8h-8zM1024.5 543.5h8v8h-8zM1024.5 551.5h8v8h-8zM520.5 559.5h8v8h-8zM1024.5 559.5h8v8h-8zM520.5 567.5h8v8h-8zM1024.5 567.5h8v8h-8zM520.5 575.5h8v8h-8zM1024.5 575.5h8v8h-8zM304.5 591.5h8v8h-8zM808.5 591.5h8v8h-8zM808.5 599.5h8v8h-8zM808.5 607.5h8v8h-8zM1032.5 607.5h8v8h-8zM808.5 615.5h8v8h-8zM528.5 623.5h8v8h-8zM312.5 631.5h8v8h-8zM1040.5 639.5h8v8h-8zM1040.5 647.5h8v8h-8zM1040.5 655.5h8v8h-8zM328.5 671.5h8v8h-8zM808.5 679.5h8v8h-8zM528.5 687.5h8v8h-8zM336.5 695.5h8v8h-8zM528.5 727.5h8v8h-8zM1040.5 735.5h8v8h-8zM544.5 743.5h8v8h-8zM568.5 751.5h8v8h-8zM616.5 759.5h8v8h-8zM744.5 759.5h8v8h-8zM1032.5 759.5h8v8h-8zM1016.5 783.5h8v8h-8zM1008.5 791.5h8v8h-8zM1000.5 799.5h8v8h-8zM992.5 807.5h8v8h-8zM440.5 815.5h16v8h-16zM456.5 823.5h8v8h-8zM464.5 831.5h8v8h-8zM976.5 831.5h8v8h-8zM472.5 839.5h8v8h-8zM480.5 847.5h8v8h-8zM960.5 855.5h8v8h-8zM488.5 863.5h8v8h-8zM952.5 863.5h8v8h-8zM496.5 871.5h8v8h-8zM944.5 871.5h8v8h-8zM504.5 879.5h8v8h-8zM936.5 879.5h8v8h-8zM928.5 887.5h8v8h-8zM920.5 895.5h8v8h-8zM528.5 903.5h8v8h-8zM552.5 911.5h8v8h-8zM568.5 919.5h8v8h-8zM888.5 919.5h8v8h-8zM872.5 927.5h8v8h-8zM848.5 935.5h8v8h-8zM832.5 943.5h8v8h-8zM600.5 951.5h8v8h-8zM816.5 951.5h8v8h-8zM608.5 959.5h8v8h-8zM624.5 967.5h8v8h-8zM784.5 967.5h8v8h-8zM640.5 975.5h8v8h-8zM760.5 975.5h8v8h-8zM672.5 983.5h16v8h-16zM720.5 983.5h8v8h-8z"/>
<path fill="#25858e" d="M856.5 239.5h16v8h-16zM904.5 239.5h8v8h-8zM496.5 247.5h16v8h-16zM784.5 247.5h8v8h-8zM656.5 255.5h8v8h-8zM440.5 271.5h8v8h-8zM608.5 271.5h8v8h-8zM976.5 271.5h8v8h-8zM432.5 279.5h8v8h-8zM544.5 279.5h8v8h-8zM592.5 279.5h8v8h-8zM552.5 287.5h8v8h-8zM576.5 287.5h8v8h-8zM1008.5 303.5h8v8h-8zM1040.5 359.5h8v8h-8zM1048.5 375.5h8v8h-8zM1064.5 415.5h8v8h-8zM648.5 423.5h8v8h-8zM696.5 423.5h24v8h-24zM624.5 431.5h8v8h-8zM600.5 439.5h8v8h-8zM1072.5 439.5h8v8h-8zM328.5 447.5h8v8h-8zM776.5 447.5h8v8h-8zM576.5 455.5h8v8h-8zM792.5 463.5h8v8h-8zM1072.5 463.5h8v8h-8zM312.5 471.5h8v8h-8zM560.5 479.5h8v8h-8zM1064.5 479.5h8v8h-8zM1056.5 487.5h8v8h-8zM800.5 495.5h8v8h-8zM1048.5 495.5h8v8h-8zM1032.5 519.5h8v8h-8zM528.5 543.5h8v8h-8zM1032.5 591.5h8v8h-8zM304.5 599.5h8v8h-8zM1032.5 599.5h8v8h-8zM528.5 615.5h8v8h-8zM1040.5 623.5h8v8h-8zM1040.5 631.5h8v8h-8zM1048.5 647.5h8v8h-8zM320.5 655.5h8v8h-8zM1048.5 655.5h8v8h-8zM1048.5 663.5h8v8h-8zM1048.5 671.5h8v8h-8zM1048.5 679.5h8v8h-8zM808.5 687.5h8v8h-8zM1048.5 687.5h8v8h-8zM528.5 695.5h8v8h-8zM808.5 695.5h8v8h-8zM1048.5 695.5h8v8h-8zM808.5 703.5h8v8h-8zM1048.5 703.5h8v8h-8zM808.5 711.5h8v8h-8zM1048.5 711.5h8v8h-8zM344.5 727.5h8v8h-8zM784.5 743.5h8v8h-8zM1040.5 743.5h8v8h-8zM576.5 751.5h8v8h-8zM768.5 751.5h8v8h-8zM352.5 759.5h8v8h-8zM624.5 759.5h8v8h-8zM736.5 759.5h8v8h-8zM360.5 775.5h8v8h-8zM1024.5 775.5h8v8h-8zM376.5 799.5h8v8h-8zM384.5 807.5h8v8h-8zM392.5 815.5h8v8h-8zM992.5 815.5h8v8h-8zM408.5 823.5h48v8h-48zM984.5 823.5h8v8h-8zM448.5 831.5h16v8h-16zM456.5 839.5h16v8h-16zM976.5 839.5h8v8h-8zM464.5 847.5h16v8h-16zM968.5 847.5h8v8h-8zM472.5 855.5h16v8h-16zM480.5 863.5h8v8h-8zM488.5 871.5h8v8h-8zM496.5 879.5h8v8h-8zM504.5 887.5h8v8h-8zM512.5 895.5h8v8h-8zM520.5 903.5h8v8h-8zM912.5 903.5h8v8h-8zM536.5 911.5h16v8h-16zM904.5 911.5h8v8h-8zM560.5 919.5h8v8h-8zM576.5 927.5h8v8h-8zM584.5 935.5h8v8h-8zM856.5 935.5h8v8h-8zM592.5 943.5h8v8h-8zM840.5 943.5h8v8h-8zM824.5 951.5h8v8h-8zM808.5 959.5h8v8h-8zM616.5 967.5h8v8h-8zM792.5 967.5h8v8h-8zM768.5 975.5h8v8h-8zM664.5 983.5h8v8h-8zM728.5 983.5h8v8h-8z"/>
<path fill="#24878e" d="M832.5 239.5h24v8h-24zM912.5 239.5h8v8h-8zM488.5 247.5h8v8h-8zM512.5 247.5h8v8h-8zM776.5 247.5h8v8h-8zM936.5 247.5h8v8h-8zM464.5 255.5h8v8h-8zM528.5 255.5h8v8h-8zM648.5 255.5h8v8h-8zM952.5 255.5h8v8h-8zM536.5 263.5h8v8h-8zM560.5 287.5h16v8h-16zM408.5 295.5h8v8h-8zM384.5 311.5h8v8h-8zM376.5 319.5h8v8h-8zM1024.5 327.5h8v8h-8zM1032.5 343.5h8v8h-8zM344.5 375.5h8v8h-8zM1056.5 391.5h8v8h-8zM336.5 423.5h8v8h-8zM656.5 423.5h40v8h-40zM632.5 431.5h8v8h-8zM744.5 431.5h8v8h-8zM1072.5 431.5h8v8h-8zM608.5 439.5h8v8h-8zM760.5 439.5h8v8h-8zM592.5 447.5h8v8h-8zM320.5 455.5h8v8h-8zM784.5 455.5h8v8h-8zM1072.5 471.5h8v8h-8zM304.5 495.5h8v8h-8zM552.5 503.5h8v8h-8zM800.5 503.5h8v8h-8zM1040.5 511.5h8v8h-8zM544.5 519.5h8v8h-8zM1032.5 527.5h8v8h-8zM536.5 535.5h8v8h-8zM1032.5 535.5h8v8h-8zM528.5 551.5h8v8h-8zM528.5 559.5h8v8h-8zM1032.5 575.5h8v8h-8zM1032.5 583.5h8v8h-8zM528.5 599.5h8v8h-8zM304.5 607.5h8v8h-8zM528.5 607.5h8v8h-8zM1040.5 607.5h8v8h-8zM1040.5 615.5h8v8h-8zM1048.5 631.5h8v8h-8zM312.5 639.5h8v8h-8zM1048.5 639.5h8v8h-8zM1056.5 647.5h8v8h-8zM1056.5 655.5h8v8h-8zM1056.5 663.5h8v8h-8zM1056.5 671.5h8v8h-8zM328.5 679.5h8v8h-8zM1056.5 679.5h8v8h-8zM336.5 703.5h8v8h-8zM528.5 703.5h8v8h-8zM528.5 711.5h8v8h-8zM528.5 719.5h8v8h-8zM1048.5 719.5h8v8h-8zM800.5 727.5h8v8h-8zM344.5 735.5h8v8h-8zM536.5 735.5h8v8h-8zM552.5 743.5h8v8h-8zM584.5 751.5h8v8h-8zM1040.5 751.5h8v8h-8zM632.5 759.5h8v8h-8zM712.5 759.5h24v8h-24zM1032.5 767.5h8v8h-8zM368.5 791.5h8v8h-8zM1016.5 791.5h8v8h-8zM1008.5 799.5h8v8h-8zM1000.5 807.5h8v8h-8zM400.5 823.5h8v8h-8zM416.5 831.5h32v8h-32zM984.5 831.5h8v8h-8zM440.5 839.5h16v8h-16zM448.5 847.5h16v8h-16zM456.5 855.5h16v8h-16zM968.5 855.5h8v8h-8zM472.5 863.5h8v8h-8zM960.5 863.5h8v8h-8zM480.5 871.5h8v8h-8zM952.5 871.5h8v8h-8zM488.5 879.5h8v8h-8zM944.5 879.5h8v8h-8zM496.5 887.5h8v8h-8zM936.5 887.5h8v8h-8zM504.5 895.5h8v8h-8zM928.5 895.5h8v8h-8zM512.5 903.5h8v8h-8zM528.5 911.5h8v8h-8zM552.5 919.5h8v8h-8zM896.5 919.5h8v8h-8zM880.5 927.5h8v8h-8zM864.5 935.5h8v8h-8zM592.5 951.5h8v8h-8zM600.5 959.5h8v8h-8zM632.5 975.5h8v8h-8zM736.5 983.5h8v8h-8z"/>
<path fill="#23898e" d="M816.5 239.5h16v8h-16zM920.5 239.5h8v8h-8zM520.5 247.5h8v8h-8zM680.5 247.5h40v8h-40zM768.5 247.5h8v8h-8zM448.5 263.5h8v8h-8zM624.5 263.5h8v8h-8zM968.5 263.5h8v8h-8zM544.5 271.5h8v8h-8zM600.5 271.5h8v8h-8zM552.5 279.5h8v8h-8zM584.5 279.5h8v8h-8zM416.5 287.5h8v8h-8zM1016.5 311.5h8v8h-8zM368.5 327.5h8v8h-8zM1040.5 351.5h8v8h-8zM1048.5 367.5h8v8h-8zM1064.5 407.5h8v8h-8zM336.5 415.5h8v8h-8zM640.5 431.5h8v8h-8zM736.5 431.5h8v8h-8zM616.5 439.5h8v8h-8zM584.5 455.5h8v8h-8zM568.5 471.5h8v8h-8zM792.5 471.5h8v8h-8zM1072.5 479.5h8v8h-8zM560.5 487.5h8v8h-8zM1064.5 487.5h8v8h-8zM1056.5 495.5h8v8h-8zM1048.5 503.5h8v8h-8zM800.5 511.5h8v8h-8zM800.5 519.5h8v8h-8zM1040.5 519.5h8v8h-8zM544.5 527.5h8v8h-8zM536.5 543.5h8v8h-8zM1032.5 543.5h8v8h-8zM1032.5 551.5h8v8h-8zM1032.5 559.5h8v8h-8zM528.5 567.5h8v8h-8zM1032.5 567.5h8v8h-8zM528.5 575.5h8v8h-8zM528.5 583.5h8v8h-8zM528.5 591.5h8v8h-8zM1040.5 591.5h8v8h-8zM1040.5 599.5h8v8h-8zM304.5 615.5h8v8h-8zM1048.5 615.5h8v8h-8zM1048.5 623.5h8v8h-8zM1056.5 631.5h8v8h-8zM1056.5 639.5h8v8h-8zM1064.5 647.5h8v8h-8zM1064.5 655.5h8v8h-8zM320.5 663.5h8v8h-8zM1064.5 663.5h8v8h-8zM1056.5 687.5h8v8h-8zM1056.5 695.5h8v8h-8zM1048.5 727.5h8v8h-8zM792.5 735.5h8v8h-8zM1048.5 735.5h8v8h-8zM592.5 751.5h8v8h-8zM640.5 759.5h16v8h-16zM680.5 759.5h32v8h-32zM1040.5 759.5h8v8h-8zM1024.5 783.5h8v8h-8zM992.5 823.5h8v8h-8zM424.5 839.5h16v8h-16zM440.5 847.5h8v8h-8zM976.5 847.5h8v8h-8zM448.5 855.5h8v8h-8zM456.5 863.5h16v8h-16zM464.5 871.5h16v8h-16zM480.5 879.5h8v8h-8zM488.5 887.5h8v8h-8zM496.5 895.5h8v8h-8zM504.5 903.5h8v8h-8zM920.5 903.5h8v8h-8zM520.5 911.5h8v8h-8zM912.5 911.5h8v8h-8zM544.5 919.5h8v8h-8zM568.5 927.5h8v8h-8zM888.5 927.5h8v8h-8zM576.5 935.5h8v8h-8zM872.5 935.5h8v8h-8zM584.5 943.5h8v8h-8zM848.5 943.5h8v8h-8zM832.5 951.5h8v8h-8zM816.5 959.5h8v8h-8zM608.5 967.5h8v8h-8zM800.5 967.5h8v8h-8zM624.5 975.5h8v8h-8zM776.5 975.5h8v8h-8zM656.5 983.5h8v8h-8zM744.5 983.5h8v8h-8z"/>
<path fill="#228b8d" d="M800.5 239.5h16v8h-16zM480.5 247.5h8v8h-8zM528.5 247.5h8v8h-8zM672.5 247.5h8v8h-8zM720.5 247.5h16v8h-16zM760.5 247.5h8v8h-8zM536.5 255.5h8v8h-8zM640.5 255.5h8v8h-8zM432.5 271.5h8v8h-8zM424.5 279.5h8v8h-8zM560.5 279.5h8v8h-8zM576.5 279.5h8v8h-8zM992.5 279.5h8v8h-8zM1000.5 287.5h8v8h-8zM392.5 303.5h8v8h-8zM1032.5 335.5h8v8h-8zM352.5 351.5h8v8h-8zM1056.5 383.5h8v8h-8zM336.5 407.5h8v8h-8zM1072.5 423.5h8v8h-8zM648.5 431.5h8v8h-8zM728.5 431.5h8v8h-8zM328.5 439.5h8v8h-8zM624.5 439.5h8v8h-8zM600.5 447.5h8v8h-8zM312.5 463.5h8v8h-8zM576.5 463.5h8v8h-8zM552.5 511.5h8v8h-8zM1048.5 511.5h8v8h-8zM800.5 527.5h8v8h-8zM1040.5 527.5h8v8h-8zM800.5 535.5h8v8h-8zM536.5 551.5h8v8h-8zM1040.5 575.5h8v8h-8zM1040.5 583.5h8v8h-8zM1048.5 599.5h8v8h-8zM1048.5 607.5h8v8h-8zM1056.5 615.5h8v8h-8zM1056.5 623.5h8v8h-8zM1064.5 631.5h8v8h-8zM1064.5 639.5h8v8h-8zM312.5 647.5h8v8h-8zM536.5 655.5h8v8h-8zM536.5 663.5h8v8h-8zM1064.5 671.5h8v8h-8zM1064.5 679.5h8v8h-8zM328.5 687.5h8v8h-8zM1056.5 703.5h8v8h-8zM336.5 711.5h8v8h-8zM344.5 743.5h8v8h-8zM560.5 743.5h8v8h-8zM1048.5 743.5h8v8h-8zM600.5 751.5h8v8h-8zM760.5 751.5h8v8h-8zM656.5 759.5h24v8h-24zM1032.5 775.5h8v8h-8zM1008.5 807.5h8v8h-8zM1000.5 815.5h8v8h-8zM408.5 831.5h8v8h-8zM416.5 839.5h8v8h-8zM984.5 839.5h8v8h-8zM432.5 847.5h8v8h-8zM440.5 855.5h8v8h-8zM448.5 863.5h8v8h-8zM456.5 871.5h8v8h-8zM960.5 871.5h8v8h-8zM464.5 879.5h16v8h-16zM952.5 879.5h8v8h-8zM480.5 887.5h8v8h-8zM944.5 887.5h8v8h-8zM488.5 895.5h8v8h-8zM496.5 903.5h8v8h-8zM512.5 911.5h8v8h-8zM536.5 919.5h8v8h-8zM904.5 919.5h8v8h-8zM560.5 927.5h8v8h-8zM856.5 943.5h8v8h-8zM840.5 951.5h8v8h-8zM592.5 959.5h8v8h-8zM824.5 959.5h8v8h-8zM784.5 975.5h8v8h-8zM648.5 983.5h8v8h-8zM752.5 983.5h8v8h-8z"/>
<path fill="#228d8d" d="M928.5 239.5h8v8h-8zM472.5 247.5h8v8h-8zM664.5 247.5h8v8h-8zM736.5 247.5h24v8h-24zM944.5 247.5h8v8h-8zM456.5 255.5h8v8h-8zM960.5 255.5h8v8h-8zM440.5 263.5h8v8h-8zM544.5 263.5h8v8h-8zM616.5 263.5h8v8h-8zM552.5 271.5h8v8h-8zM592.5 271.5h8v8h-8zM984.5 271.5h8v8h-8zM568.5 279.5h8v8h-8zM400.5 295.5h8v8h-8zM1024.5 319.5h8v8h-8zM344.5 367.5h8v8h-8zM336.5 399.5h8v8h-8zM1064.5 399.5h8v8h-8zM656.5 431.5h8v8h-8zM720.5 431.5h8v8h-8zM752.5 439.5h8v8h-8zM320.5 447.5h8v8h-8zM768.5 447.5h8v8h-8zM1080.5 447.5h8v8h-8zM1080.5 455.5h8v8h-8zM1080.5 463.5h8v8h-8zM1080.5 471.5h8v8h-8zM568.5 479.5h8v8h-8zM304.5 487.5h8v8h-8zM1072.5 487.5h8v8h-8zM560.5 495.5h8v8h-8zM1064.5 495.5h8v8h-8zM1056.5 503.5h8v8h-8zM1048.5 519.5h8v8h-8zM544.5 535.5h8v8h-8zM1040.5 535.5h8v8h-8zM800.5 543.5h8v8h-8zM1040.5 543.5h8v8h-8zM800.5 551.5h8v8h-8zM1040.5 551.5h8v8h-8zM536.5 559.5h8v8h-8zM1040.5 559.5h8v8h-8zM1040.5 567.5h8v8h-8zM1048.5 591.5h8v8h-8zM1056.5 607.5h8v8h-8zM1064.5 615.5h8v8h-8zM304.5 623.5h8v8h-8zM1064.5 623.5h8v8h-8zM1072.5 631.5h8v8h-8zM536.5 639.5h8v8h-8zM1072.5 639.5h8v8h-8zM536.5 647.5h8v8h-8zM1072.5 647.5h8v8h-8zM1072.5 655.5h8v8h-8zM1072.5 663.5h8v8h-8zM320.5 671.5h8v8h-8zM536.5 671.5h8v8h-8zM1064.5 687.5h8v8h-8zM1056.5 711.5h8v8h-8zM336.5 719.5h8v8h-8zM1056.5 719.5h8v8h-8zM536.5 727.5h8v8h-8zM544.5 735.5h8v8h-8zM776.5 743.5h8v8h-8zM608.5 751.5h8v8h-8zM752.5 751.5h8v8h-8zM352.5 767.5h8v8h-8zM1040.5 767.5h8v8h-8zM360.5 783.5h8v8h-8zM1024.5 791.5h8v8h-8zM1016.5 799.5h8v8h-8zM384.5 815.5h8v8h-8zM392.5 823.5h8v8h-8zM992.5 831.5h8v8h-8zM424.5 847.5h8v8h-8zM432.5 855.5h8v8h-8zM976.5 855.5h8v8h-8zM440.5 863.5h8v8h-8zM968.5 863.5h8v8h-8zM448.5 871.5h8v8h-8zM456.5 879.5h8v8h-8zM464.5 887.5h16v8h-16zM480.5 895.5h8v8h-8zM936.5 895.5h8v8h-8zM488.5 903.5h8v8h-8zM928.5 903.5h8v8h-8zM504.5 911.5h8v8h-8zM520.5 919.5h16v8h-16zM552.5 927.5h8v8h-8zM568.5 935.5h8v8h-8zM880.5 935.5h8v8h-8zM576.5 943.5h8v8h-8zM584.5 951.5h8v8h-8zM600.5 967.5h8v8h-8zM808.5 967.5h8v8h-8zM616.5 975.5h8v8h-8zM760.5 983.5h8v8h-8z"/>
<path fill="#218f8d" d="M864.5 231.5h48v8h-48zM496.5 239.5h32v8h-32zM792.5 239.5h8v8h-8zM536.5 247.5h8v8h-8zM976.5 263.5h8v8h-8zM584.5 271.5h8v8h-8zM408.5 287.5h8v8h-8zM1008.5 295.5h8v8h-8zM360.5 335.5h8v8h-8zM1040.5 343.5h8v8h-8zM1048.5 359.5h8v8h-8zM1056.5 375.5h8v8h-8zM336.5 391.5h8v8h-8zM1072.5 415.5h8v8h-8zM328.5 431.5h8v8h-8zM664.5 431.5h16v8h-16zM704.5 431.5h16v8h-16zM632.5 439.5h8v8h-8zM1080.5 439.5h8v8h-8zM608.5 447.5h8v8h-8zM592.5 455.5h8v8h-8zM776.5 455.5h8v8h-8zM784.5 463.5h8v8h-8zM792.5 479.5h8v8h-8zM1080.5 479.5h8v8h-8zM1072.5 495.5h8v8h-8zM1064.5 503.5h8v8h-8zM1056.5 511.5h8v8h-8zM552.5 519.5h8v8h-8zM1048.5 527.5h8v8h-8zM544.5 543.5h8v8h-8zM800.5 559.5h8v8h-8zM536.5 567.5h8v8h-8zM800.5 567.5h8v8h-8zM1048.5 575.5h8v8h-8zM1048.5 583.5h8v8h-8zM1056.5 599.5h8v8h-8zM1064.5 607.5h8v8h-8zM1072.5 615.5h8v8h-8zM536.5 623.5h8v8h-8zM1072.5 623.5h8v8h-8zM536.5 631.5h8v8h-8zM1072.5 671.5h8v8h-8zM536.5 679.5h8v8h-8zM328.5 695.5h8v8h-8zM1064.5 695.5h8v8h-8zM800.5 719.5h8v8h-8zM1056.5 727.5h8v8h-8zM568.5 743.5h8v8h-8zM616.5 751.5h8v8h-8zM1048.5 751.5h8v8h-8zM1032.5 783.5h8v8h-8zM376.5 807.5h8v8h-8zM1008.5 815.5h8v8h-8zM1000.5 823.5h8v8h-8zM400.5 831.5h8v8h-8zM408.5 839.5h8v8h-8zM416.5 847.5h8v8h-8zM984.5 847.5h8v8h-8zM424.5 855.5h8v8h-8zM432.5 863.5h8v8h-8zM440.5 871.5h8v8h-8zM448.5 879.5h8v8h-8zM472.5 895.5h8v8h-8zM480.5 903.5h8v8h-8zM496.5 911.5h8v8h-8zM920.5 911.5h8v8h-8zM512.5 919.5h8v8h-8zM544.5 927.5h8v8h-8zM896.5 927.5h8v8h-8zM560.5 935.5h8v8h-8zM864.5 943.5h8v8h-8zM848.5 951.5h8v8h-8zM832.5 959.5h8v8h-8zM792.5 975.5h8v8h-8zM640.5 983.5h8v8h-8z"/>
<path fill="#20928c" d="M832.5 231.5h32v8h-32zM912.5 231.5h8v8h-8zM488.5 239.5h8v8h-8zM528.5 239.5h8v8h-8zM784.5 239.5h8v8h-8zM464.5 247.5h8v8h-8zM656.5 247.5h8v8h-8zM952.5 247.5h8v8h-8zM448.5 255.5h8v8h-8zM544.5 255.5h8v8h-8zM632.5 255.5h8v8h-8zM552.5 263.5h8v8h-8zM608.5 263.5h8v8h-8zM424.5 271.5h8v8h-8zM560.5 271.5h24v8h-24zM416.5 279.5h8v8h-8zM1064.5 391.5h8v8h-8zM680.5 431.5h24v8h-24zM640.5 439.5h8v8h-8zM744.5 439.5h8v8h-8zM616.5 447.5h8v8h-8zM312.5 455.5h8v8h-8zM584.5 463.5h8v8h-8zM576.5 471.5h8v8h-8zM1080.5 487.5h8v8h-8zM1056.5 519.5h8v8h-8zM1048.5 535.5h8v8h-8zM1048.5 543.5h8v8h-8zM1048.5 551.5h8v8h-8zM1048.5 559.5h8v8h-8zM1048.5 567.5h8v8h-8zM536.5 575.5h8v8h-8zM800.5 575.5h8v8h-8zM536.5 583.5h8v8h-8zM800.5 583.5h8v8h-8zM1056.5 583.5h8v8h-8zM536.5 591.5h8v8h-8zM1056.5 591.5h8v8h-8zM536.5 599.5h8v8h-8zM1064.5 599.5h8v8h-8zM536.5 607.5h8v8h-8zM1072.5 607.5h8v8h-8zM536.5 615.5h8v8h-8zM1080.5 623.5h8v8h-8zM304.5 631.5h8v8h-8zM1080.5 631.5h8v8h-8zM1080.5 639.5h8v8h-8zM1080.5 647.5h8v8h-8zM312.5 655.5h8v8h-8zM1080.5 655.5h8v8h-8zM320.5 679.5h8v8h-8zM1072.5 679.5h8v8h-8zM536.5 687.5h8v8h-8zM1064.5 703.5h8v8h-8zM536.5 719.5h8v8h-8zM336.5 727.5h8v8h-8zM552.5 735.5h8v8h-8zM784.5 735.5h8v8h-8zM576.5 743.5h8v8h-8zM344.5 751.5h8v8h-8zM624.5 751.5h8v8h-8zM744.5 751.5h8v8h-8zM368.5 799.5h8v8h-8zM1016.5 807.5h8v8h-8zM992.5 839.5h8v8h-8zM960.5 879.5h8v8h-8zM456.5 887.5h8v8h-8zM464.5 895.5h8v8h-8zM488.5 911.5h8v8h-8zM504.5 919.5h8v8h-8zM912.5 919.5h8v8h-8zM520.5 927.5h24v8h-24zM568.5 943.5h8v8h-8zM576.5 951.5h8v8h-8zM584.5 959.5h8v8h-8zM592.5 967.5h8v8h-8zM816.5 967.5h8v8h-8zM608.5 975.5h8v8h-8zM632.5 983.5h8v8h-8zM768.5 983.5h8v8h-8zM680.5 991.5h48v8h-48z"/>
<path fill="#20938c" d="M808.5 231.5h24v8h-24zM536.5 239.5h8v8h-8zM688.5 239.5h24v8h-24zM776.5 239.5h8v8h-8zM936.5 239.5h8v8h-8zM544.5 247.5h8v8h-8zM648.5 247.5h8v8h-8zM968.5 255.5h8v8h-8zM432.5 263.5h8v8h-8zM384.5 303.5h8v8h-8zM1016.5 303.5h8v8h-8zM1032.5 327.5h8v8h-8zM336.5 383.5h8v8h-8zM1072.5 407.5h8v8h-8zM328.5 423.5h8v8h-8zM1080.5 431.5h8v8h-8zM320.5 439.5h8v8h-8zM648.5 439.5h8v8h-8zM624.5 447.5h8v8h-8zM760.5 447.5h8v8h-8zM600.5 455.5h8v8h-8zM304.5 479.5h8v8h-8zM568.5 487.5h8v8h-8zM792.5 487.5h8v8h-8zM1080.5 495.5h8v8h-8zM560.5 503.5h8v8h-8zM1072.5 503.5h8v8h-8zM1064.5 511.5h8v8h-8zM552.5 527.5h8v8h-8zM1056.5 527.5h8v8h-8zM296.5 551.5h8v8h-8zM544.5 551.5h8v8h-8zM296.5 559.5h8v8h-8zM296.5 567.5h8v8h-8zM1056.5 575.5h8v8h-8zM800.5 591.5h8v8h-8zM1064.5 591.5h8v8h-8zM800.5 599.5h8v8h-8zM1072.5 599.5h8v8h-8zM800.5 607.5h8v8h-8zM1080.5 607.5h8v8h-8zM800.5 615.5h8v8h-8zM1080.5 615.5h8v8h-8zM800.5 623.5h8v8h-8zM800.5 631.5h8v8h-8zM800.5 639.5h8v8h-8zM800.5 647.5h8v8h-8zM800.5 655.5h8v8h-8zM800.5 663.5h8v8h-8zM1080.5 663.5h8v8h-8zM1072.5 687.5h8v8h-8zM536.5 695.5h8v8h-8zM328.5 703.5h8v8h-8zM536.5 703.5h8v8h-8zM536.5 711.5h8v8h-8zM800.5 711.5h8v8h-8zM1064.5 711.5h8v8h-8zM544.5 727.5h8v8h-8zM792.5 727.5h8v8h-8zM1056.5 735.5h8v8h-8zM584.5 743.5h8v8h-8zM768.5 743.5h8v8h-8zM736.5 751.5h8v8h-8zM1048.5 759.5h8v8h-8zM1040.5 775.5h8v8h-8zM1024.5 799.5h8v8h-8zM1000.5 831.5h8v8h-8zM976.5 863.5h8v8h-8zM432.5 871.5h8v8h-8zM968.5 871.5h8v8h-8zM952.5 887.5h8v8h-8zM944.5 895.5h8v8h-8zM472.5 903.5h8v8h-8zM496.5 919.5h8v8h-8zM512.5 927.5h8v8h-8zM544.5 935.5h16v8h-16zM888.5 935.5h8v8h-8zM872.5 943.5h8v8h-8zM856.5 951.5h8v8h-8zM800.5 975.5h8v8h-8zM672.5 991.5h8v8h-8zM728.5 991.5h8v8h-8z"/>
<path fill="#1f958b" d="M512.5 231.5h16v8h-16zM800.5 231.5h8v8h-8zM920.5 231.5h8v8h-8zM480.5 239.5h8v8h-8zM672.5 239.5h16v8h-16zM712.5 239.5h8v8h-8zM768.5 239.5h8v8h-8zM552.5 255.5h8v8h-8zM624.5 255.5h8v8h-8zM560.5 263.5h8v8h-8zM600.5 263.5h8v8h-8zM392.5 295.5h8v8h-8zM376.5 311.5h8v8h-8zM1048.5 351.5h8v8h-8zM1056.5 367.5h8v8h-8zM328.5 415.5h8v8h-8zM656.5 439.5h8v8h-8zM736.5 439.5h8v8h-8zM632.5 447.5h8v8h-8zM784.5 471.5h8v8h-8zM1088.5 471.5h8v8h-8zM792.5 495.5h8v8h-8zM1080.5 503.5h8v8h-8zM1072.5 511.5h8v8h-8zM1064.5 519.5h8v8h-8zM296.5 535.5h8v8h-8zM552.5 535.5h8v8h-8zM1056.5 535.5h8v8h-8zM296.5 543.5h8v8h-8zM1056.5 543.5h8v8h-8zM1056.5 551.5h8v8h-8zM544.5 559.5h8v8h-8zM1056.5 559.5h8v8h-8zM1056.5 567.5h8v8h-8zM296.5 575.5h8v8h-8zM1064.5 575.5h8v8h-8zM1064.5 583.5h8v8h-8zM1072.5 591.5h8v8h-8zM1080.5 599.5h8v8h-8zM304.5 639.5h8v8h-8zM312.5 663.5h8v8h-8zM800.5 671.5h8v8h-8zM1080.5 671.5h8v8h-8zM800.5 679.5h8v8h-8zM320.5 687.5h8v8h-8zM800.5 703.5h8v8h-8zM336.5 735.5h8v8h-8zM1056.5 743.5h8v8h-8zM632.5 751.5h16v8h-16zM720.5 751.5h16v8h-16zM352.5 775.5h8v8h-8zM1032.5 791.5h8v8h-8zM1008.5 823.5h8v8h-8zM392.5 831.5h8v8h-8zM400.5 839.5h8v8h-8zM408.5 847.5h8v8h-8zM416.5 855.5h8v8h-8zM984.5 855.5h8v8h-8zM424.5 863.5h8v8h-8zM440.5 879.5h8v8h-8zM448.5 887.5h8v8h-8zM456.5 895.5h8v8h-8zM936.5 903.5h8v8h-8zM480.5 911.5h8v8h-8zM504.5 927.5h8v8h-8zM904.5 927.5h8v8h-8zM528.5 935.5h16v8h-16zM560.5 943.5h8v8h-8zM568.5 951.5h8v8h-8zM576.5 959.5h8v8h-8zM840.5 959.5h8v8h-8zM824.5 967.5h8v8h-8zM600.5 975.5h8v8h-8zM624.5 983.5h8v8h-8zM776.5 983.5h8v8h-8zM664.5 991.5h8v8h-8zM736.5 991.5h8v8h-8z"/>
<path fill="#1f978b" d="M880.5 223.5h24v8h-24zM504.5 231.5h8v8h-8zM528.5 231.5h16v8h-16zM792.5 231.5h8v8h-8zM472.5 239.5h8v8h-8zM544.5 239.5h8v8h-8zM720.5 239.5h16v8h-16zM760.5 239.5h8v8h-8zM944.5 239.5h8v8h-8zM456.5 247.5h8v8h-8zM440.5 255.5h8v8h-8zM568.5 263.5h32v8h-32zM992.5 271.5h8v8h-8zM408.5 279.5h8v8h-8zM1000.5 279.5h8v8h-8zM400.5 287.5h8v8h-8zM1024.5 311.5h8v8h-8zM368.5 319.5h8v8h-8zM344.5 359.5h8v8h-8zM1064.5 383.5h8v8h-8zM328.5 407.5h8v8h-8zM320.5 431.5h8v8h-8zM664.5 439.5h8v8h-8zM728.5 439.5h8v8h-8zM312.5 447.5h8v8h-8zM608.5 455.5h8v8h-8zM768.5 455.5h8v8h-8zM592.5 463.5h8v8h-8zM1088.5 463.5h8v8h-8zM576.5 479.5h8v8h-8zM1088.5 479.5h8v8h-8zM1088.5 487.5h8v8h-8zM1088.5 495.5h8v8h-8zM792.5 503.5h8v8h-8zM560.5 511.5h8v8h-8zM1080.5 511.5h8v8h-8zM1072.5 519.5h8v8h-8zM296.5 527.5h8v8h-8zM1064.5 527.5h8v8h-8zM1064.5 535.5h8v8h-8zM544.5 567.5h8v8h-8zM1064.5 567.5h8v8h-8zM296.5 583.5h8v8h-8zM1072.5 583.5h8v8h-8zM1080.5 591.5h8v8h-8zM1088.5 607.5h8v8h-8zM1088.5 615.5h8v8h-8zM1088.5 623.5h8v8h-8zM1088.5 631.5h8v8h-8zM1088.5 639.5h8v8h-8zM800.5 687.5h8v8h-8zM800.5 695.5h8v8h-8zM1072.5 695.5h8v8h-8zM328.5 711.5h8v8h-8zM1064.5 719.5h8v8h-8zM560.5 735.5h8v8h-8zM592.5 743.5h8v8h-8zM760.5 743.5h8v8h-8zM648.5 751.5h8v8h-8zM696.5 751.5h24v8h-24zM344.5 759.5h8v8h-8zM1016.5 815.5h8v8h-8zM384.5 823.5h8v8h-8zM992.5 847.5h8v8h-8zM464.5 903.5h8v8h-8zM928.5 911.5h8v8h-8zM488.5 919.5h8v8h-8zM520.5 935.5h8v8h-8zM552.5 943.5h8v8h-8zM880.5 943.5h8v8h-8zM584.5 967.5h8v8h-8zM808.5 975.5h8v8h-8z"/>
<path fill="#1f998a" d="M856.5 223.5h24v8h-24zM904.5 223.5h8v8h-8zM496.5 231.5h8v8h-8zM928.5 231.5h8v8h-8zM664.5 239.5h8v8h-8zM736.5 239.5h24v8h-24zM552.5 247.5h8v8h-8zM640.5 247.5h8v8h-8zM960.5 247.5h8v8h-8zM560.5 255.5h8v8h-8zM616.5 255.5h8v8h-8zM424.5 263.5h8v8h-8zM984.5 263.5h8v8h-8zM416.5 271.5h8v8h-8zM1040.5 335.5h8v8h-8zM352.5 343.5h8v8h-8zM336.5 375.5h8v8h-8zM328.5 399.5h8v8h-8zM1072.5 399.5h8v8h-8zM1080.5 423.5h8v8h-8zM672.5 439.5h16v8h-16zM720.5 439.5h8v8h-8zM640.5 447.5h8v8h-8zM752.5 447.5h8v8h-8zM616.5 455.5h8v8h-8zM1088.5 455.5h8v8h-8zM776.5 463.5h8v8h-8zM304.5 471.5h8v8h-8zM584.5 471.5h8v8h-8zM568.5 495.5h8v8h-8zM1088.5 503.5h8v8h-8zM792.5 511.5h8v8h-8zM560.5 519.5h8v8h-8zM1080.5 519.5h8v8h-8zM1072.5 527.5h8v8h-8zM1072.5 535.5h8v8h-8zM552.5 543.5h8v8h-8zM1064.5 543.5h8v8h-8zM1064.5 551.5h8v8h-8zM1064.5 559.5h8v8h-8zM1072.5 567.5h8v8h-8zM544.5 575.5h8v8h-8zM1072.5 575.5h16v8h-16zM1080.5 583.5h8v8h-8zM296.5 591.5h8v8h-8zM1088.5 591.5h8v8h-8zM1088.5 599.5h8v8h-8zM1088.5 647.5h8v8h-8zM312.5 671.5h8v8h-8zM1080.5 679.5h8v8h-8zM320.5 695.5h8v8h-8zM1072.5 703.5h8v8h-8zM544.5 719.5h8v8h-8zM1064.5 727.5h8v8h-8zM776.5 735.5h8v8h-8zM600.5 743.5h8v8h-8zM656.5 751.5h40v8h-40zM1056.5 751.5h8v8h-8zM1048.5 767.5h8v8h-8zM1040.5 783.5h8v8h-8zM360.5 791.5h8v8h-8zM1024.5 807.5h8v8h-8zM376.5 815.5h8v8h-8zM1000.5 839.5h8v8h-8zM472.5 911.5h8v8h-8zM920.5 919.5h8v8h-8zM496.5 927.5h8v8h-8zM512.5 935.5h8v8h-8zM896.5 935.5h8v8h-8zM544.5 943.5h8v8h-8zM560.5 951.5h8v8h-8zM864.5 951.5h8v8h-8zM568.5 959.5h8v8h-8zM848.5 959.5h8v8h-8zM616.5 983.5h8v8h-8zM784.5 983.5h8v8h-8zM656.5 991.5h8v8h-8zM744.5 991.5h8v8h-8z"/>
<path fill="#1e9b8a" d="M512.5 223.5h24v8h-24zM808.5 223.5h48v8h-48zM912.5 223.5h8v8h-8zM488.5 231.5h8v8h-8zM544.5 231.5h8v8h-8zM696.5 231.5h8v8h-8zM784.5 231.5h8v8h-8zM464.5 239.5h8v8h-8zM552.5 239.5h8v8h-8zM656.5 239.5h8v8h-8zM448.5 247.5h8v8h-8zM976.5 255.5h8v8h-8zM1008.5 287.5h8v8h-8zM320.5 423.5h8v8h-8zM312.5 439.5h8v8h-8zM688.5 439.5h32v8h-32zM648.5 447.5h8v8h-8zM1088.5 447.5h8v8h-8zM624.5 455.5h8v8h-8zM600.5 463.5h8v8h-8zM1088.5 511.5h8v8h-8zM296.5 519.5h8v8h-8zM792.5 519.5h8v8h-8zM1088.5 519.5h8v8h-8zM1080.5 527.5h8v8h-8zM1080.5 535.5h8v8h-8zM1072.5 543.5h8v8h-8zM552.5 551.5h8v8h-8zM1072.5 551.5h8v8h-8zM1072.5 559.5h16v8h-16zM1080.5 567.5h8v8h-8zM1088.5 575.5h8v8h-8zM544.5 583.5h8v8h-8zM1088.5 583.5h8v8h-8zM544.5 591.5h8v8h-8zM296.5 599.5h8v8h-8zM544.5 639.5h8v8h-8zM304.5 647.5h8v8h-8zM544.5 647.5h8v8h-8zM544.5 655.5h8v8h-8zM1088.5 655.5h8v8h-8zM544.5 663.5h8v8h-8zM328.5 719.5h8v8h-8zM792.5 719.5h8v8h-8zM552.5 727.5h8v8h-8zM784.5 727.5h8v8h-8zM568.5 735.5h8v8h-8zM336.5 743.5h8v8h-8zM608.5 743.5h8v8h-8zM752.5 743.5h8v8h-8zM416.5 863.5h8v8h-8zM424.5 871.5h8v8h-8zM432.5 879.5h8v8h-8zM968.5 879.5h8v8h-8zM440.5 887.5h8v8h-8zM960.5 887.5h8v8h-8zM480.5 919.5h8v8h-8zM528.5 943.5h16v8h-16zM552.5 951.5h8v8h-8zM576.5 967.5h8v8h-8zM832.5 967.5h8v8h-8zM592.5 975.5h8v8h-8zM648.5 991.5h8v8h-8zM752.5 991.5h8v8h-8z"/>
<path fill="#1e9d89" d="M504.5 223.5h8v8h-8zM536.5 223.5h8v8h-8zM800.5 223.5h8v8h-8zM920.5 223.5h8v8h-8zM480.5 231.5h8v8h-8zM680.5 231.5h16v8h-16zM704.5 231.5h16v8h-16zM776.5 231.5h8v8h-8zM936.5 231.5h8v8h-8zM952.5 239.5h8v8h-8zM560.5 247.5h8v8h-8zM632.5 247.5h8v8h-8zM432.5 255.5h8v8h-8zM568.5 255.5h8v8h-8zM608.5 255.5h8v8h-8zM1032.5 319.5h8v8h-8zM1056.5 359.5h8v8h-8zM1064.5 375.5h8v8h-8zM328.5 391.5h8v8h-8zM320.5 415.5h8v8h-8zM656.5 447.5h8v8h-8zM744.5 447.5h8v8h-8zM784.5 479.5h8v8h-8zM296.5 487.5h8v8h-8zM576.5 487.5h8v8h-8zM296.5 495.5h8v8h-8zM296.5 503.5h8v8h-8zM568.5 503.5h8v8h-8zM296.5 511.5h8v8h-8zM560.5 527.5h8v8h-8zM792.5 527.5h8v8h-8zM1088.5 527.5h8v8h-8zM792.5 535.5h8v8h-8zM1088.5 535.5h8v8h-8zM792.5 543.5h8v8h-8zM1080.5 543.5h16v8h-16zM1080.5 551.5h16v8h-16zM1088.5 559.5h8v8h-8zM1088.5 567.5h8v8h-8zM544.5 599.5h8v8h-8zM544.5 607.5h8v8h-8zM544.5 615.5h8v8h-8zM544.5 623.5h8v8h-8zM544.5 631.5h8v8h-8zM1088.5 663.5h8v8h-8zM544.5 671.5h8v8h-8zM312.5 679.5h8v8h-8zM544.5 679.5h8v8h-8zM1080.5 687.5h8v8h-8zM320.5 703.5h8v8h-8zM544.5 711.5h8v8h-8zM1072.5 711.5h8v8h-8zM1064.5 735.5h8v8h-8zM616.5 743.5h8v8h-8zM1032.5 799.5h8v8h-8zM1008.5 831.5h8v8h-8zM400.5 847.5h8v8h-8zM408.5 855.5h8v8h-8zM984.5 863.5h8v8h-8zM976.5 871.5h8v8h-8zM448.5 895.5h8v8h-8zM952.5 895.5h8v8h-8zM456.5 903.5h8v8h-8zM912.5 927.5h8v8h-8zM504.5 935.5h8v8h-8zM520.5 943.5h8v8h-8zM544.5 951.5h8v8h-8zM560.5 959.5h8v8h-8zM816.5 975.5h8v8h-8zM608.5 983.5h8v8h-8zM792.5 983.5h8v8h-8z"/>
<path fill="#1fa088" d="M872.5 215.5h40v8h-40zM496.5 223.5h8v8h-8zM544.5 223.5h8v8h-8zM792.5 223.5h8v8h-8zM552.5 231.5h8v8h-8zM672.5 231.5h8v8h-8zM720.5 231.5h8v8h-8zM768.5 231.5h8v8h-8zM648.5 239.5h8v8h-8zM576.5 255.5h16v8h-16zM600.5 255.5h8v8h-8zM1016.5 295.5h8v8h-8zM360.5 327.5h8v8h-8zM1048.5 343.5h8v8h-8zM320.5 407.5h8v8h-8zM296.5 415.5h8v8h-8zM1080.5 415.5h8v8h-8zM296.5 423.5h16v8h-16zM296.5 431.5h24v8h-24zM296.5 439.5h16v8h-16zM296.5 447.5h16v8h-16zM664.5 447.5h8v8h-8zM296.5 455.5h16v8h-16zM632.5 455.5h8v8h-8zM760.5 455.5h8v8h-8zM296.5 463.5h16v8h-16zM608.5 463.5h8v8h-8zM296.5 471.5h8v8h-8zM592.5 471.5h8v8h-8zM296.5 479.5h8v8h-8zM584.5 479.5h8v8h-8zM1096.5 495.5h8v8h-8zM1096.5 503.5h8v8h-8zM1096.5 511.5h8v8h-8zM1096.5 519.5h8v8h-8zM1096.5 527.5h8v8h-8zM1096.5 535.5h8v8h-8zM1096.5 543.5h8v8h-8zM792.5 551.5h8v8h-8zM1096.5 551.5h8v8h-8zM552.5 559.5h8v8h-8zM792.5 559.5h8v8h-8zM1096.5 559.5h8v8h-8zM792.5 567.5h8v8h-8zM1096.5 567.5h8v8h-8zM1096.5 575.5h8v8h-8zM1096.5 583.5h8v8h-8zM1096.5 591.5h8v8h-8zM1096.5 599.5h8v8h-8zM296.5 607.5h8v8h-8zM1096.5 607.5h8v8h-8zM296.5 615.5h8v8h-8zM1096.5 615.5h8v8h-8zM296.5 623.5h8v8h-8zM1096.5 623.5h8v8h-8zM304.5 655.5h8v8h-8zM544.5 687.5h8v8h-8zM544.5 695.5h8v8h-8zM544.5 703.5h8v8h-8zM328.5 727.5h8v8h-8zM576.5 735.5h8v8h-8zM768.5 735.5h8v8h-8zM744.5 743.5h8v8h-8zM1048.5 775.5h8v8h-8zM368.5 807.5h8v8h-8zM1016.5 823.5h8v8h-8zM392.5 839.5h8v8h-8zM992.5 855.5h8v8h-8zM944.5 903.5h8v8h-8zM464.5 911.5h8v8h-8zM488.5 927.5h8v8h-8zM888.5 943.5h8v8h-8zM536.5 951.5h8v8h-8zM872.5 951.5h8v8h-8zM856.5 959.5h8v8h-8zM568.5 967.5h8v8h-8zM584.5 975.5h8v8h-8zM640.5 991.5h8v8h-8zM760.5 991.5h8v8h-8z"/>
<path fill="#1fa187" d="M512.5 215.5h32v8h-32zM808.5 215.5h64v8h-64zM784.5 223.5h8v8h-8zM928.5 223.5h8v8h-8zM472.5 231.5h8v8h-8zM664.5 231.5h8v8h-8zM728.5 231.5h8v8h-8zM760.5 231.5h8v8h-8zM456.5 239.5h8v8h-8zM560.5 239.5h8v8h-8zM440.5 247.5h8v8h-8zM568.5 247.5h8v8h-8zM624.5 247.5h8v8h-8zM968.5 247.5h8v8h-8zM592.5 255.5h8v8h-8zM416.5 263.5h8v8h-8zM408.5 271.5h8v8h-8zM400.5 279.5h8v8h-8zM392.5 287.5h8v8h-8zM384.5 295.5h8v8h-8zM304.5 383.5h32v8h-32zM304.5 391.5h24v8h-24zM1072.5 391.5h8v8h-8zM304.5 399.5h24v8h-24zM296.5 407.5h24v8h-24zM304.5 415.5h16v8h-16zM312.5 423.5h8v8h-8zM1088.5 439.5h8v8h-8zM672.5 447.5h8v8h-8zM736.5 447.5h8v8h-8zM640.5 455.5h8v8h-8zM776.5 471.5h8v8h-8zM1096.5 479.5h8v8h-8zM784.5 487.5h8v8h-8zM1096.5 487.5h8v8h-8zM560.5 535.5h8v8h-8zM552.5 567.5h8v8h-8zM792.5 575.5h8v8h-8zM792.5 583.5h8v8h-8zM296.5 631.5h8v8h-8zM1096.5 631.5h8v8h-8zM296.5 639.5h8v8h-8zM296.5 647.5h8v8h-8zM296.5 655.5h8v8h-8zM296.5 663.5h8v8h-8zM1088.5 671.5h8v8h-8zM312.5 687.5h8v8h-8zM1080.5 695.5h8v8h-8zM792.5 711.5h8v8h-8zM1072.5 719.5h8v8h-8zM560.5 727.5h8v8h-8zM584.5 735.5h8v8h-8zM624.5 743.5h8v8h-8zM736.5 743.5h8v8h-8zM1056.5 759.5h8v8h-8zM344.5 767.5h8v8h-8zM352.5 783.5h8v8h-8zM384.5 831.5h8v8h-8zM936.5 911.5h8v8h-8zM496.5 935.5h8v8h-8zM904.5 935.5h8v8h-8zM512.5 943.5h8v8h-8zM528.5 951.5h8v8h-8zM552.5 959.5h8v8h-8zM840.5 967.5h8v8h-8z"/>
<path fill="#20a386" d="M504.5 215.5h8v8h-8zM544.5 215.5h8v8h-8zM800.5 215.5h8v8h-8zM912.5 215.5h8v8h-8zM488.5 223.5h8v8h-8zM552.5 223.5h8v8h-8zM688.5 223.5h24v8h-24zM736.5 231.5h24v8h-24zM944.5 231.5h8v8h-8zM640.5 239.5h8v8h-8zM424.5 255.5h8v8h-8zM376.5 303.5h8v8h-8zM1024.5 303.5h8v8h-8zM1040.5 327.5h8v8h-8zM344.5 351.5h8v8h-8zM336.5 367.5h8v8h-8zM312.5 375.5h24v8h-24zM680.5 447.5h8v8h-8zM728.5 447.5h8v8h-8zM648.5 455.5h8v8h-8zM616.5 463.5h8v8h-8zM768.5 463.5h8v8h-8zM1096.5 471.5h8v8h-8zM576.5 495.5h8v8h-8zM568.5 511.5h8v8h-8zM560.5 543.5h8v8h-8zM552.5 575.5h8v8h-8zM792.5 591.5h8v8h-8zM792.5 599.5h8v8h-8zM1096.5 639.5h8v8h-8zM304.5 663.5h8v8h-8zM296.5 671.5h16v8h-16zM296.5 679.5h16v8h-16zM296.5 687.5h16v8h-16zM296.5 695.5h24v8h-24zM296.5 703.5h8v8h-8zM320.5 711.5h8v8h-8zM552.5 719.5h8v8h-8zM632.5 743.5h8v8h-8zM728.5 743.5h8v8h-8zM1064.5 743.5h8v8h-8zM336.5 751.5h8v8h-8zM1040.5 791.5h8v8h-8zM1024.5 815.5h8v8h-8zM1000.5 847.5h8v8h-8zM472.5 919.5h8v8h-8zM928.5 919.5h8v8h-8zM544.5 959.5h8v8h-8zM560.5 967.5h8v8h-8zM576.5 975.5h8v8h-8zM824.5 975.5h8v8h-8zM600.5 983.5h8v8h-8zM800.5 983.5h8v8h-8zM632.5 991.5h8v8h-8zM768.5 991.5h8v8h-8z"/>
<path fill="#21a585" d="M520.5 207.5h16v8h-16zM800.5 207.5h32v8h-32zM872.5 207.5h32v8h-32zM496.5 215.5h8v8h-8zM792.5 215.5h8v8h-8zM480.5 223.5h8v8h-8zM672.5 223.5h16v8h-16zM712.5 223.5h8v8h-8zM776.5 223.5h8v8h-8zM464.5 231.5h8v8h-8zM560.5 231.5h8v8h-8zM656.5 231.5h8v8h-8zM448.5 239.5h8v8h-8zM960.5 239.5h8v8h-8zM576.5 247.5h8v8h-8zM616.5 247.5h8v8h-8zM320.5 359.5h8v8h-8zM312.5 367.5h24v8h-24zM1080.5 407.5h8v8h-8zM688.5 447.5h16v8h-16zM720.5 447.5h8v8h-8zM656.5 455.5h8v8h-8zM752.5 455.5h8v8h-8zM624.5 463.5h8v8h-8zM600.5 471.5h8v8h-8zM784.5 495.5h8v8h-8zM552.5 583.5h8v8h-8zM552.5 591.5h8v8h-8zM792.5 607.5h8v8h-8zM792.5 615.5h8v8h-8zM792.5 623.5h8v8h-8zM1088.5 679.5h8v8h-8zM304.5 703.5h16v8h-16zM792.5 703.5h8v8h-8zM1080.5 703.5h8v8h-8zM296.5 711.5h24v8h-24zM296.5 719.5h32v8h-32zM784.5 719.5h8v8h-8zM304.5 727.5h24v8h-24zM776.5 727.5h8v8h-8zM304.5 735.5h8v8h-8zM328.5 735.5h8v8h-8zM592.5 735.5h8v8h-8zM760.5 735.5h8v8h-8zM640.5 743.5h16v8h-16zM720.5 743.5h8v8h-8zM1008.5 839.5h8v8h-8zM416.5 871.5h8v8h-8zM424.5 879.5h8v8h-8zM432.5 887.5h8v8h-8zM480.5 927.5h8v8h-8zM520.5 951.5h8v8h-8z"/>
<path fill="#22a785" d="M512.5 207.5h8v8h-8zM536.5 207.5h8v8h-8zM792.5 207.5h8v8h-8zM832.5 207.5h40v8h-40zM904.5 207.5h8v8h-8zM552.5 215.5h8v8h-8zM784.5 215.5h8v8h-8zM920.5 215.5h8v8h-8zM720.5 223.5h8v8h-8zM768.5 223.5h8v8h-8zM936.5 223.5h8v8h-8zM568.5 239.5h8v8h-8zM632.5 239.5h8v8h-8zM432.5 247.5h8v8h-8zM992.5 263.5h8v8h-8zM368.5 311.5h8v8h-8zM320.5 351.5h24v8h-24zM328.5 359.5h16v8h-16zM1064.5 367.5h8v8h-8zM1088.5 431.5h8v8h-8zM704.5 447.5h16v8h-16zM664.5 455.5h8v8h-8zM632.5 463.5h8v8h-8zM1096.5 463.5h8v8h-8zM592.5 479.5h8v8h-8zM584.5 487.5h8v8h-8zM568.5 519.5h8v8h-8zM1104.5 527.5h8v8h-8zM1104.5 535.5h8v8h-8zM1104.5 543.5h8v8h-8zM560.5 551.5h8v8h-8zM1104.5 551.5h8v8h-8zM1104.5 559.5h8v8h-8zM1104.5 567.5h8v8h-8zM1104.5 575.5h8v8h-8zM1104.5 583.5h8v8h-8zM552.5 599.5h8v8h-8zM792.5 631.5h8v8h-8zM792.5 639.5h8v8h-8zM792.5 647.5h8v8h-8zM1096.5 647.5h8v8h-8zM792.5 695.5h8v8h-8zM552.5 711.5h8v8h-8zM568.5 727.5h8v8h-8zM1072.5 727.5h8v8h-8zM312.5 735.5h16v8h-16zM600.5 735.5h8v8h-8zM312.5 743.5h24v8h-24zM656.5 743.5h16v8h-16zM696.5 743.5h24v8h-24zM312.5 751.5h24v8h-24zM312.5 759.5h32v8h-32zM320.5 767.5h24v8h-24zM320.5 775.5h32v8h-32zM328.5 783.5h24v8h-24zM328.5 791.5h24v8h-24zM336.5 799.5h8v8h-8zM360.5 799.5h8v8h-8zM1032.5 807.5h8v8h-8zM376.5 823.5h8v8h-8zM408.5 863.5h8v8h-8zM440.5 895.5h8v8h-8zM448.5 903.5h8v8h-8zM504.5 943.5h8v8h-8zM880.5 951.5h8v8h-8zM536.5 959.5h8v8h-8zM864.5 959.5h8v8h-8zM496.5 967.5h8v8h-8zM552.5 967.5h8v8h-8zM512.5 975.5h8v8h-8zM528.5 983.5h8v8h-8zM544.5 991.5h8v8h-8z"/>
<path fill="#23a983" d="M800.5 191.5h8v8h-8zM792.5 199.5h40v8h-40zM504.5 207.5h8v8h-8zM544.5 207.5h8v8h-8zM784.5 207.5h8v8h-8zM488.5 215.5h8v8h-8zM680.5 215.5h32v8h-32zM776.5 215.5h8v8h-8zM472.5 223.5h8v8h-8zM560.5 223.5h8v8h-8zM664.5 223.5h8v8h-8zM728.5 223.5h16v8h-16zM760.5 223.5h8v8h-8zM456.5 231.5h8v8h-8zM648.5 231.5h8v8h-8zM584.5 247.5h32v8h-32zM984.5 255.5h8v8h-8zM1000.5 271.5h8v8h-8zM352.5 335.5h8v8h-8zM320.5 343.5h32v8h-32zM1056.5 351.5h8v8h-8zM1072.5 383.5h8v8h-8zM640.5 463.5h8v8h-8zM608.5 471.5h8v8h-8zM776.5 479.5h8v8h-8zM576.5 503.5h8v8h-8zM784.5 503.5h8v8h-8zM1104.5 519.5h8v8h-8zM568.5 527.5h8v8h-8zM560.5 559.5h8v8h-8zM1104.5 591.5h8v8h-8zM1104.5 599.5h8v8h-8zM552.5 607.5h8v8h-8zM552.5 615.5h8v8h-8zM552.5 623.5h8v8h-8zM552.5 631.5h8v8h-8zM552.5 639.5h8v8h-8zM792.5 655.5h8v8h-8zM792.5 663.5h8v8h-8zM792.5 671.5h8v8h-8zM792.5 679.5h8v8h-8zM792.5 687.5h8v8h-8zM560.5 719.5h8v8h-8zM608.5 735.5h8v8h-8zM752.5 735.5h8v8h-8zM672.5 743.5h24v8h-24zM1056.5 767.5h8v8h-8zM1048.5 783.5h8v8h-8zM352.5 791.5h8v8h-8zM344.5 799.5h16v8h-16zM344.5 807.5h24v8h-24zM344.5 815.5h32v8h-32zM352.5 823.5h24v8h-24zM352.5 831.5h32v8h-32zM1016.5 831.5h8v8h-8zM360.5 839.5h24v8h-24zM368.5 847.5h16v8h-16zM400.5 855.5h8v8h-8zM384.5 871.5h8v8h-8zM392.5 879.5h16v8h-16zM976.5 879.5h8v8h-8zM400.5 887.5h24v8h-24zM968.5 887.5h8v8h-8zM408.5 895.5h32v8h-32zM960.5 895.5h8v8h-8zM416.5 903.5h32v8h-32zM424.5 911.5h40v8h-40zM432.5 919.5h40v8h-40zM440.5 927.5h40v8h-40zM920.5 927.5h8v8h-8zM448.5 935.5h48v8h-48zM464.5 943.5h40v8h-40zM896.5 943.5h8v8h-8zM472.5 951.5h48v8h-48zM488.5 959.5h48v8h-48zM504.5 967.5h48v8h-48zM848.5 967.5h8v8h-8zM520.5 975.5h56v8h-56zM536.5 983.5h64v8h-64zM552.5 991.5h64v8h-64zM624.5 991.5h8v8h-8zM776.5 991.5h8v8h-8z"/>
<path fill="#25ac82" d="M768.5 167.5h16v8h-16zM776.5 175.5h24v8h-24zM784.5 183.5h32v8h-32zM784.5 191.5h16v8h-16zM808.5 191.5h16v8h-16zM520.5 199.5h24v8h-24zM784.5 199.5h8v8h-8zM832.5 199.5h64v8h-64zM776.5 207.5h8v8h-8zM912.5 207.5h8v8h-8zM672.5 215.5h8v8h-8zM712.5 215.5h16v8h-16zM768.5 215.5h8v8h-8zM656.5 223.5h8v8h-8zM744.5 223.5h16v8h-16zM568.5 231.5h8v8h-8zM952.5 231.5h8v8h-8zM440.5 239.5h8v8h-8zM576.5 239.5h8v8h-8zM1008.5 279.5h8v8h-8zM1032.5 311.5h8v8h-8zM328.5 335.5h24v8h-24zM672.5 455.5h8v8h-8zM744.5 455.5h8v8h-8zM648.5 463.5h8v8h-8zM760.5 463.5h8v8h-8zM784.5 511.5h8v8h-8zM1104.5 511.5h8v8h-8zM560.5 567.5h8v8h-8zM1104.5 607.5h8v8h-8zM552.5 647.5h8v8h-8zM552.5 655.5h8v8h-8zM1096.5 655.5h8v8h-8zM552.5 663.5h8v8h-8zM552.5 671.5h8v8h-8zM1088.5 687.5h8v8h-8zM552.5 703.5h8v8h-8zM1080.5 711.5h8v8h-8zM576.5 727.5h8v8h-8zM768.5 727.5h8v8h-8zM1064.5 751.5h8v8h-8zM384.5 839.5h8v8h-8zM384.5 847.5h16v8h-16zM376.5 855.5h24v8h-24zM376.5 863.5h32v8h-32zM392.5 871.5h24v8h-24zM984.5 871.5h8v8h-8zM408.5 879.5h16v8h-16zM424.5 887.5h8v8h-8zM952.5 903.5h8v8h-8zM832.5 975.5h8v8h-8zM808.5 983.5h8v8h-8zM616.5 991.5h8v8h-8z"/>
<path fill="#27ad81" d="M760.5 159.5h16v8h-16zM752.5 167.5h16v8h-16zM784.5 167.5h16v8h-16zM752.5 175.5h24v8h-24zM800.5 175.5h16v8h-16zM768.5 183.5h16v8h-16zM816.5 183.5h8v8h-8zM776.5 191.5h8v8h-8zM824.5 191.5h16v8h-16zM512.5 199.5h8v8h-8zM544.5 199.5h8v8h-8zM776.5 199.5h8v8h-8zM896.5 199.5h8v8h-8zM496.5 207.5h8v8h-8zM552.5 207.5h8v8h-8zM680.5 207.5h40v8h-40zM768.5 207.5h8v8h-8zM480.5 215.5h8v8h-8zM560.5 215.5h8v8h-8zM664.5 215.5h8v8h-8zM728.5 215.5h8v8h-8zM760.5 215.5h8v8h-8zM928.5 215.5h8v8h-8zM640.5 231.5h8v8h-8zM624.5 239.5h8v8h-8zM976.5 247.5h8v8h-8zM416.5 255.5h8v8h-8zM408.5 263.5h8v8h-8zM400.5 271.5h8v8h-8zM392.5 279.5h8v8h-8zM336.5 319.5h16v8h-16zM336.5 327.5h24v8h-24zM1048.5 335.5h8v8h-8zM680.5 455.5h8v8h-8zM736.5 455.5h8v8h-8zM1096.5 455.5h8v8h-8zM656.5 463.5h8v8h-8zM616.5 471.5h8v8h-8zM768.5 471.5h8v8h-8zM1104.5 503.5h8v8h-8zM784.5 519.5h8v8h-8zM568.5 535.5h8v8h-8zM560.5 575.5h8v8h-8zM1104.5 615.5h8v8h-8zM552.5 679.5h8v8h-8zM552.5 687.5h8v8h-8zM552.5 695.5h8v8h-8zM784.5 711.5h8v8h-8zM616.5 735.5h8v8h-8zM744.5 735.5h8v8h-8zM1072.5 735.5h8v8h-8zM1040.5 799.5h8v8h-8zM1024.5 823.5h8v8h-8zM992.5 863.5h8v8h-8z"/>
<path fill="#29af7f" d="M736.5 159.5h24v8h-24zM776.5 159.5h16v8h-16zM736.5 167.5h16v8h-16zM800.5 167.5h8v8h-8zM736.5 175.5h16v8h-16zM816.5 175.5h8v8h-8zM752.5 183.5h16v8h-16zM824.5 183.5h8v8h-8zM760.5 191.5h16v8h-16zM840.5 191.5h8v8h-8zM688.5 199.5h24v8h-24zM768.5 199.5h8v8h-8zM672.5 207.5h8v8h-8zM720.5 207.5h8v8h-8zM760.5 207.5h8v8h-8zM736.5 215.5h24v8h-24zM464.5 223.5h8v8h-8zM568.5 223.5h8v8h-8zM648.5 223.5h8v8h-8zM944.5 223.5h8v8h-8zM448.5 231.5h8v8h-8zM584.5 239.5h8v8h-8zM616.5 239.5h8v8h-8zM424.5 247.5h8v8h-8zM384.5 287.5h8v8h-8zM1016.5 287.5h8v8h-8zM344.5 311.5h24v8h-24zM352.5 319.5h16v8h-16zM1080.5 399.5h8v8h-8zM1088.5 423.5h8v8h-8zM688.5 455.5h8v8h-8zM624.5 471.5h8v8h-8zM600.5 479.5h8v8h-8zM584.5 495.5h8v8h-8zM1104.5 495.5h8v8h-8zM576.5 511.5h8v8h-8zM784.5 527.5h8v8h-8zM784.5 535.5h8v8h-8zM568.5 543.5h8v8h-8zM784.5 543.5h8v8h-8zM560.5 583.5h8v8h-8zM1104.5 623.5h8v8h-8zM1096.5 663.5h8v8h-8zM776.5 719.5h8v8h-8zM584.5 727.5h8v8h-8zM624.5 735.5h8v8h-8zM1000.5 855.5h8v8h-8zM944.5 911.5h8v8h-8zM912.5 935.5h8v8h-8zM784.5 991.5h40v8h-40z"/>
<path fill="#2cb17e" d="M728.5 159.5h8v8h-8zM792.5 159.5h8v8h-8zM720.5 167.5h16v8h-16zM808.5 167.5h8v8h-8zM712.5 175.5h24v8h-24zM704.5 183.5h48v8h-48zM832.5 183.5h8v8h-8zM528.5 191.5h16v8h-16zM688.5 191.5h72v8h-72zM848.5 191.5h40v8h-40zM504.5 199.5h8v8h-8zM552.5 199.5h8v8h-8zM672.5 199.5h16v8h-16zM712.5 199.5h24v8h-24zM752.5 199.5h16v8h-16zM904.5 199.5h8v8h-8zM488.5 207.5h8v8h-8zM560.5 207.5h8v8h-8zM664.5 207.5h8v8h-8zM728.5 207.5h32v8h-32zM920.5 207.5h8v8h-8zM472.5 215.5h8v8h-8zM656.5 215.5h8v8h-8zM576.5 231.5h8v8h-8zM632.5 231.5h8v8h-8zM968.5 239.5h8v8h-8zM344.5 303.5h32v8h-32zM696.5 455.5h40v8h-40zM664.5 463.5h8v8h-8zM632.5 471.5h8v8h-8zM592.5 487.5h8v8h-8zM776.5 487.5h8v8h-8zM568.5 551.5h8v8h-8zM784.5 551.5h8v8h-8zM784.5 559.5h8v8h-8zM784.5 567.5h8v8h-8zM784.5 575.5h8v8h-8zM560.5 591.5h8v8h-8zM560.5 599.5h8v8h-8zM1088.5 695.5h8v8h-8zM560.5 711.5h8v8h-8zM568.5 719.5h8v8h-8zM760.5 727.5h8v8h-8zM632.5 735.5h8v8h-8zM736.5 735.5h8v8h-8zM872.5 959.5h8v8h-8zM856.5 967.5h8v8h-8zM840.5 975.5h24v8h-24zM816.5 983.5h64v8h-64zM824.5 991.5h40v8h-40z"/>
<path fill="#2eb37c" d="M736.5 151.5h40v8h-40zM712.5 159.5h16v8h-16zM696.5 167.5h24v8h-24zM680.5 175.5h32v8h-32zM824.5 175.5h8v8h-8zM672.5 183.5h32v8h-32zM840.5 183.5h8v8h-8zM520.5 191.5h8v8h-8zM544.5 191.5h8v8h-8zM672.5 191.5h16v8h-16zM888.5 191.5h8v8h-8zM664.5 199.5h8v8h-8zM736.5 199.5h16v8h-16zM656.5 207.5h8v8h-8zM568.5 215.5h8v8h-8zM648.5 215.5h8v8h-8zM640.5 223.5h8v8h-8zM432.5 239.5h8v8h-8zM592.5 239.5h24v8h-24zM352.5 295.5h32v8h-32zM1040.5 319.5h8v8h-8zM1096.5 447.5h8v8h-8zM672.5 463.5h8v8h-8zM752.5 463.5h8v8h-8zM640.5 471.5h8v8h-8zM608.5 479.5h8v8h-8zM1104.5 487.5h8v8h-8zM576.5 519.5h8v8h-8zM568.5 559.5h8v8h-8zM784.5 583.5h8v8h-8zM784.5 591.5h8v8h-8zM560.5 607.5h8v8h-8zM1104.5 631.5h8v8h-8zM784.5 703.5h8v8h-8zM1080.5 719.5h8v8h-8zM592.5 727.5h8v8h-8zM640.5 735.5h16v8h-16zM728.5 735.5h8v8h-8zM1056.5 775.5h8v8h-8zM1032.5 815.5h8v8h-8zM1008.5 847.5h8v8h-8zM936.5 919.5h8v8h-8zM888.5 951.5h8v8h-8zM880.5 959.5h24v8h-24zM864.5 967.5h48v8h-48zM864.5 975.5h32v8h-32z"/>
<path fill="#31b57b" d="M720.5 151.5h16v8h-16zM776.5 151.5h8v8h-8zM696.5 159.5h16v8h-16zM800.5 159.5h8v8h-8zM664.5 167.5h32v8h-32zM816.5 167.5h8v8h-8zM664.5 175.5h16v8h-16zM832.5 175.5h8v8h-8zM664.5 183.5h8v8h-8zM848.5 183.5h16v8h-16zM512.5 191.5h8v8h-8zM552.5 191.5h8v8h-8zM664.5 191.5h8v8h-8zM496.5 199.5h8v8h-8zM560.5 199.5h8v8h-8zM656.5 199.5h8v8h-8zM480.5 207.5h8v8h-8zM936.5 215.5h8v8h-8zM456.5 223.5h8v8h-8zM576.5 223.5h8v8h-8zM584.5 231.5h8v8h-8zM624.5 231.5h8v8h-8zM960.5 231.5h8v8h-8zM360.5 279.5h16v8h-16zM360.5 287.5h24v8h-24zM1024.5 295.5h8v8h-8zM1064.5 359.5h8v8h-8zM1072.5 375.5h8v8h-8zM680.5 463.5h8v8h-8zM648.5 471.5h8v8h-8zM1104.5 471.5h8v8h-8zM1104.5 479.5h8v8h-8zM584.5 503.5h8v8h-8zM576.5 527.5h8v8h-8zM568.5 567.5h8v8h-8zM784.5 599.5h8v8h-8zM784.5 607.5h8v8h-8zM560.5 615.5h8v8h-8zM560.5 623.5h8v8h-8zM1096.5 671.5h8v8h-8zM560.5 703.5h8v8h-8zM576.5 719.5h8v8h-8zM600.5 727.5h8v8h-8zM656.5 735.5h8v8h-8zM720.5 735.5h8v8h-8zM1064.5 759.5h8v8h-8zM920.5 935.5h8v8h-8zM904.5 943.5h32v8h-32zM896.5 951.5h40v8h-40zM904.5 959.5h24v8h-24z"/>
<path fill="#34b679" d="M704.5 151.5h16v8h-16zM784.5 151.5h8v8h-8zM656.5 159.5h40v8h-40zM808.5 159.5h8v8h-8zM648.5 167.5h16v8h-16zM824.5 167.5h8v8h-8zM648.5 175.5h16v8h-16zM840.5 175.5h8v8h-8zM656.5 183.5h8v8h-8zM864.5 183.5h16v8h-16zM560.5 191.5h8v8h-8zM656.5 191.5h8v8h-8zM896.5 191.5h8v8h-8zM912.5 199.5h8v8h-8zM568.5 207.5h8v8h-8zM648.5 207.5h8v8h-8zM640.5 215.5h8v8h-8zM632.5 223.5h8v8h-8zM440.5 231.5h8v8h-8zM368.5 271.5h24v8h-24zM376.5 279.5h16v8h-16zM1056.5 343.5h8v8h-8zM1080.5 383.5h16v8h-16zM1080.5 391.5h24v8h-24zM1088.5 399.5h24v8h-24zM1088.5 407.5h24v8h-24zM1088.5 415.5h24v8h-24zM1096.5 423.5h16v8h-16zM1096.5 431.5h16v8h-16zM1096.5 439.5h16v8h-16zM1104.5 447.5h8v8h-8zM1104.5 455.5h8v8h-8zM688.5 463.5h8v8h-8zM744.5 463.5h8v8h-8zM1104.5 463.5h8v8h-8zM656.5 471.5h8v8h-8zM760.5 471.5h8v8h-8zM616.5 479.5h8v8h-8zM768.5 479.5h8v8h-8zM600.5 487.5h8v8h-8zM776.5 495.5h8v8h-8zM568.5 575.5h8v8h-8zM784.5 615.5h8v8h-8zM560.5 631.5h8v8h-8zM560.5 639.5h8v8h-8zM1104.5 639.5h8v8h-8zM560.5 647.5h8v8h-8zM560.5 695.5h8v8h-8zM784.5 695.5h8v8h-8zM776.5 711.5h8v8h-8zM768.5 719.5h8v8h-8zM608.5 727.5h8v8h-8zM752.5 727.5h8v8h-8zM664.5 735.5h56v8h-56zM1072.5 743.5h8v8h-8zM1048.5 791.5h8v8h-8zM1016.5 839.5h8v8h-8zM944.5 919.5h16v8h-16zM928.5 927.5h40v8h-40zM928.5 935.5h32v8h-32zM936.5 943.5h16v8h-16z"/>
<path fill="#38b977" d="M680.5 151.5h24v8h-24zM640.5 159.5h16v8h-16zM640.5 167.5h8v8h-8zM640.5 175.5h8v8h-8zM848.5 175.5h8v8h-8zM528.5 183.5h32v8h-32zM648.5 183.5h8v8h-8zM880.5 183.5h8v8h-8zM504.5 191.5h8v8h-8zM648.5 191.5h8v8h-8zM568.5 199.5h8v8h-8zM648.5 199.5h8v8h-8zM928.5 207.5h8v8h-8zM464.5 215.5h8v8h-8zM576.5 215.5h8v8h-8zM592.5 231.5h8v8h-8zM616.5 231.5h8v8h-8zM376.5 263.5h32v8h-32zM392.5 271.5h8v8h-8zM1080.5 375.5h24v8h-24zM1096.5 383.5h8v8h-8zM1104.5 391.5h8v8h-8zM664.5 471.5h8v8h-8zM624.5 479.5h8v8h-8zM592.5 495.5h8v8h-8zM576.5 535.5h8v8h-8zM568.5 583.5h8v8h-8zM784.5 623.5h8v8h-8zM1104.5 647.5h8v8h-8zM560.5 655.5h8v8h-8zM1104.5 655.5h8v8h-8zM560.5 663.5h8v8h-8zM1104.5 663.5h8v8h-8zM560.5 671.5h8v8h-8zM1104.5 671.5h8v8h-8zM560.5 679.5h8v8h-8zM1096.5 679.5h8v8h-8zM560.5 687.5h8v8h-8zM1088.5 703.5h8v8h-8zM568.5 711.5h8v8h-8zM968.5 895.5h16v8h-16zM960.5 903.5h40v8h-40zM952.5 911.5h40v8h-40zM960.5 919.5h24v8h-24z"/>
<path fill="#3bbb75" d="M728.5 143.5h32v8h-32zM656.5 151.5h24v8h-24zM792.5 151.5h8v8h-8zM632.5 159.5h8v8h-8zM816.5 159.5h8v8h-8zM632.5 167.5h8v8h-8zM832.5 167.5h8v8h-8zM632.5 175.5h8v8h-8zM856.5 175.5h8v8h-8zM520.5 183.5h8v8h-8zM560.5 183.5h8v8h-8zM640.5 183.5h8v8h-8zM568.5 191.5h8v8h-8zM640.5 191.5h8v8h-8zM488.5 199.5h8v8h-8zM640.5 199.5h8v8h-8zM576.5 207.5h8v8h-8zM640.5 207.5h8v8h-8zM584.5 223.5h8v8h-8zM624.5 223.5h8v8h-8zM952.5 223.5h8v8h-8zM600.5 231.5h16v8h-16zM384.5 255.5h32v8h-32zM1072.5 359.5h16v8h-16zM1072.5 367.5h24v8h-24zM696.5 463.5h16v8h-16zM736.5 463.5h8v8h-8zM672.5 471.5h8v8h-8zM632.5 479.5h16v8h-16zM776.5 503.5h8v8h-8zM584.5 511.5h8v8h-8zM576.5 543.5h8v8h-8zM568.5 591.5h8v8h-8zM568.5 599.5h8v8h-8zM784.5 631.5h8v8h-8zM784.5 639.5h8v8h-8zM1104.5 679.5h8v8h-8zM784.5 687.5h8v8h-8zM1096.5 687.5h16v8h-16zM1096.5 695.5h16v8h-16zM1096.5 703.5h16v8h-16zM1088.5 711.5h24v8h-24zM584.5 719.5h8v8h-8zM1088.5 719.5h8v8h-8zM616.5 727.5h8v8h-8zM744.5 727.5h8v8h-8zM1080.5 727.5h8v8h-8zM1040.5 807.5h8v8h-8zM992.5 871.5h16v8h-16zM984.5 879.5h40v8h-40zM976.5 887.5h40v8h-40zM984.5 895.5h24v8h-24z"/>
<path fill="#3fbc73" d="M712.5 143.5h16v8h-16zM760.5 143.5h8v8h-8zM640.5 151.5h16v8h-16zM800.5 151.5h8v8h-8zM624.5 159.5h8v8h-8zM616.5 167.5h16v8h-16zM624.5 175.5h8v8h-8zM568.5 183.5h8v8h-8zM632.5 183.5h8v8h-8zM904.5 191.5h8v8h-8zM576.5 199.5h8v8h-8zM472.5 207.5h8v8h-8zM584.5 215.5h8v8h-8zM632.5 215.5h8v8h-8zM448.5 223.5h8v8h-8zM384.5 247.5h24v8h-24zM416.5 247.5h8v8h-8zM992.5 255.5h8v8h-8zM1032.5 303.5h8v8h-8zM1064.5 351.5h32v8h-32zM1088.5 359.5h8v8h-8zM712.5 463.5h24v8h-24zM648.5 479.5h8v8h-8zM608.5 487.5h8v8h-8zM576.5 551.5h8v8h-8zM568.5 607.5h8v8h-8zM784.5 647.5h8v8h-8zM784.5 655.5h8v8h-8zM784.5 671.5h8v8h-8zM784.5 679.5h8v8h-8zM568.5 703.5h8v8h-8zM1096.5 719.5h16v8h-16zM624.5 727.5h16v8h-16zM1088.5 727.5h24v8h-24zM1080.5 735.5h24v8h-24zM1080.5 743.5h24v8h-24zM1072.5 751.5h32v8h-32zM1072.5 759.5h24v8h-24zM1064.5 767.5h32v8h-32zM1064.5 775.5h24v8h-24zM1056.5 783.5h32v8h-32zM1056.5 791.5h24v8h-24zM1048.5 799.5h32v8h-32zM1048.5 807.5h24v8h-24zM1040.5 815.5h24v8h-24zM1032.5 823.5h32v8h-32zM1024.5 831.5h32v8h-32zM1024.5 839.5h24v8h-24zM1016.5 847.5h32v8h-32zM1008.5 855.5h32v8h-32zM1000.5 863.5h32v8h-32zM1008.5 871.5h16v8h-16z"/>
<path fill="#42be71" d="M688.5 143.5h24v8h-24zM768.5 143.5h8v8h-8zM632.5 151.5h8v8h-8zM616.5 159.5h8v8h-8zM824.5 159.5h8v8h-8zM608.5 167.5h8v8h-8zM840.5 167.5h8v8h-8zM616.5 175.5h8v8h-8zM864.5 175.5h8v8h-8zM576.5 183.5h8v8h-8zM624.5 183.5h8v8h-8zM888.5 183.5h8v8h-8zM496.5 191.5h8v8h-8zM576.5 191.5h8v8h-8zM632.5 191.5h8v8h-8zM632.5 199.5h8v8h-8zM632.5 207.5h8v8h-8zM624.5 215.5h8v8h-8zM592.5 223.5h8v8h-8zM616.5 223.5h8v8h-8zM424.5 239.5h8v8h-8zM408.5 247.5h8v8h-8zM984.5 247.5h8v8h-8zM1000.5 263.5h8v8h-8zM1048.5 327.5h8v8h-8zM1056.5 335.5h16v8h-16zM1064.5 343.5h24v8h-24zM680.5 471.5h8v8h-8zM752.5 471.5h8v8h-8zM656.5 479.5h8v8h-8zM616.5 487.5h8v8h-8zM768.5 487.5h8v8h-8zM600.5 495.5h8v8h-8zM592.5 503.5h8v8h-8zM776.5 511.5h8v8h-8zM584.5 519.5h8v8h-8zM576.5 559.5h8v8h-8zM568.5 615.5h8v8h-8zM784.5 663.5h8v8h-8zM776.5 703.5h8v8h-8zM576.5 711.5h8v8h-8zM592.5 719.5h8v8h-8zM760.5 719.5h8v8h-8zM640.5 727.5h8v8h-8zM736.5 727.5h8v8h-8z"/>
<path fill="#46c06f" d="M664.5 143.5h24v8h-24zM776.5 143.5h8v8h-8zM624.5 151.5h8v8h-8zM608.5 159.5h8v8h-8zM600.5 167.5h8v8h-8zM536.5 175.5h48v8h-48zM600.5 175.5h16v8h-16zM512.5 183.5h8v8h-8zM584.5 183.5h8v8h-8zM616.5 183.5h8v8h-8zM584.5 191.5h8v8h-8zM624.5 191.5h8v8h-8zM584.5 199.5h8v8h-8zM624.5 199.5h8v8h-8zM920.5 199.5h8v8h-8zM584.5 207.5h8v8h-8zM624.5 207.5h8v8h-8zM456.5 215.5h8v8h-8zM592.5 215.5h8v8h-8zM944.5 215.5h8v8h-8zM600.5 223.5h16v8h-16zM392.5 239.5h32v8h-32zM976.5 239.5h8v8h-8zM1008.5 271.5h8v8h-8zM1056.5 327.5h24v8h-24zM1072.5 335.5h16v8h-16zM688.5 471.5h8v8h-8zM664.5 479.5h8v8h-8zM624.5 487.5h8v8h-8zM776.5 519.5h8v8h-8zM584.5 527.5h8v8h-8zM776.5 527.5h8v8h-8zM776.5 559.5h8v8h-8zM576.5 567.5h8v8h-8zM776.5 567.5h8v8h-8zM576.5 575.5h8v8h-8zM568.5 623.5h8v8h-8zM568.5 695.5h8v8h-8zM600.5 719.5h8v8h-8zM648.5 727.5h8v8h-8z"/>
<path fill="#4ac16d" d="M648.5 143.5h16v8h-16zM616.5 151.5h8v8h-8zM808.5 151.5h8v8h-8zM600.5 159.5h8v8h-8zM584.5 167.5h16v8h-16zM848.5 167.5h8v8h-8zM584.5 175.5h16v8h-16zM872.5 175.5h8v8h-8zM592.5 183.5h24v8h-24zM592.5 191.5h8v8h-8zM616.5 191.5h8v8h-8zM480.5 199.5h8v8h-8zM592.5 207.5h8v8h-8zM616.5 215.5h8v8h-8zM432.5 231.5h8v8h-8zM1040.5 311.5h16v8h-16zM1048.5 319.5h24v8h-24zM696.5 471.5h8v8h-8zM672.5 479.5h8v8h-8zM760.5 479.5h8v8h-8zM632.5 487.5h8v8h-8zM776.5 535.5h8v8h-8zM776.5 543.5h8v8h-8zM776.5 551.5h8v8h-8zM776.5 575.5h8v8h-8zM576.5 583.5h8v8h-8zM776.5 583.5h8v8h-8zM776.5 591.5h8v8h-8zM568.5 631.5h8v8h-8zM568.5 639.5h8v8h-8zM768.5 711.5h8v8h-8zM656.5 727.5h16v8h-16zM728.5 727.5h8v8h-8z"/>
<path fill="#50c46a" d="M640.5 143.5h8v8h-8zM784.5 143.5h8v8h-8zM592.5 159.5h8v8h-8zM832.5 159.5h8v8h-8zM568.5 167.5h16v8h-16zM528.5 175.5h8v8h-8zM600.5 191.5h16v8h-16zM592.5 199.5h32v8h-32zM600.5 207.5h24v8h-24zM600.5 215.5h16v8h-16zM400.5 231.5h32v8h-32zM968.5 231.5h8v8h-8zM1040.5 303.5h24v8h-24zM1056.5 311.5h16v8h-16zM704.5 471.5h8v8h-8zM744.5 471.5h8v8h-8zM640.5 487.5h16v8h-16zM608.5 495.5h8v8h-8zM592.5 511.5h8v8h-8zM584.5 535.5h8v8h-8zM576.5 591.5h8v8h-8zM576.5 599.5h8v8h-8zM776.5 599.5h8v8h-8zM568.5 647.5h8v8h-8zM568.5 655.5h8v8h-8zM568.5 679.5h8v8h-8zM568.5 687.5h8v8h-8zM576.5 703.5h8v8h-8zM584.5 711.5h8v8h-8zM608.5 719.5h8v8h-8zM752.5 719.5h8v8h-8zM672.5 727.5h16v8h-16zM712.5 727.5h16v8h-16z"/>
<path fill="#54c568" d="M632.5 143.5h8v8h-8zM608.5 151.5h8v8h-8zM584.5 159.5h8v8h-8zM560.5 167.5h8v8h-8zM856.5 167.5h8v8h-8zM880.5 175.5h8v8h-8zM504.5 183.5h8v8h-8zM896.5 183.5h8v8h-8zM464.5 207.5h8v8h-8zM936.5 207.5h8v8h-8zM408.5 223.5h16v8h-16zM1016.5 279.5h8v8h-8zM1024.5 287.5h24v8h-24zM1032.5 295.5h32v8h-32zM736.5 471.5h8v8h-8zM680.5 479.5h8v8h-8zM656.5 487.5h8v8h-8zM768.5 495.5h8v8h-8zM600.5 503.5h8v8h-8zM584.5 543.5h8v8h-8zM576.5 607.5h8v8h-8zM776.5 607.5h8v8h-8zM568.5 663.5h8v8h-8zM568.5 671.5h8v8h-8zM776.5 695.5h8v8h-8zM616.5 719.5h8v8h-8zM688.5 727.5h24v8h-24z"/>
<path fill="#58c765" d="M712.5 135.5h24v8h-24zM792.5 143.5h8v8h-8zM600.5 151.5h8v8h-8zM816.5 151.5h8v8h-8zM552.5 167.5h8v8h-8zM520.5 175.5h8v8h-8zM488.5 191.5h8v8h-8zM912.5 191.5h8v8h-8zM424.5 223.5h24v8h-24zM1024.5 279.5h24v8h-24zM1048.5 287.5h8v8h-8zM712.5 471.5h24v8h-24zM688.5 479.5h8v8h-8zM664.5 487.5h8v8h-8zM616.5 495.5h8v8h-8zM592.5 519.5h8v8h-8zM584.5 551.5h8v8h-8zM584.5 559.5h8v8h-8zM576.5 615.5h8v8h-8zM776.5 615.5h8v8h-8zM592.5 711.5h8v8h-8zM624.5 719.5h16v8h-16zM744.5 719.5h8v8h-8z"/>
<path fill="#5cc863" d="M688.5 135.5h24v8h-24zM736.5 135.5h16v8h-16zM624.5 143.5h8v8h-8zM576.5 159.5h8v8h-8zM840.5 159.5h8v8h-8zM544.5 167.5h8v8h-8zM416.5 215.5h40v8h-40zM960.5 223.5h8v8h-8zM1008.5 263.5h24v8h-24zM1016.5 271.5h32v8h-32zM752.5 479.5h8v8h-8zM672.5 487.5h8v8h-8zM760.5 487.5h8v8h-8zM624.5 495.5h24v8h-24zM584.5 567.5h8v8h-8zM584.5 575.5h8v8h-8zM576.5 623.5h8v8h-8zM776.5 623.5h8v8h-8zM776.5 687.5h8v8h-8zM576.5 695.5h8v8h-8zM768.5 703.5h8v8h-8zM760.5 711.5h8v8h-8zM640.5 719.5h8v8h-8z"/>
<path fill="#60ca60" d="M672.5 135.5h16v8h-16zM752.5 135.5h8v8h-8zM616.5 143.5h8v8h-8zM592.5 151.5h8v8h-8zM568.5 159.5h8v8h-8zM864.5 167.5h8v8h-8zM472.5 199.5h8v8h-8zM928.5 199.5h8v8h-8zM1000.5 255.5h32v8h-32zM1032.5 263.5h8v8h-8zM696.5 479.5h8v8h-8zM680.5 487.5h8v8h-8zM648.5 495.5h16v8h-16zM608.5 503.5h8v8h-8zM768.5 503.5h8v8h-8zM600.5 511.5h8v8h-8zM592.5 527.5h8v8h-8zM584.5 583.5h8v8h-8zM584.5 591.5h8v8h-8zM576.5 631.5h8v8h-8zM776.5 631.5h8v8h-8zM584.5 703.5h8v8h-8zM600.5 711.5h8v8h-8zM648.5 719.5h8v8h-8zM736.5 719.5h8v8h-8z"/>
<path fill="#65cb5e" d="M664.5 135.5h8v8h-8zM760.5 135.5h8v8h-8zM800.5 143.5h8v8h-8zM824.5 151.5h8v8h-8zM536.5 167.5h8v8h-8zM424.5 207.5h40v8h-40zM992.5 247.5h32v8h-32zM704.5 479.5h8v8h-8zM664.5 495.5h8v8h-8zM616.5 503.5h8v8h-8zM592.5 535.5h8v8h-8zM584.5 599.5h8v8h-8zM584.5 607.5h8v8h-8zM576.5 639.5h8v8h-8zM776.5 679.5h8v8h-8zM576.5 687.5h8v8h-8zM608.5 711.5h8v8h-8zM656.5 719.5h16v8h-16z"/>
<path fill="#69cd5b" d="M656.5 135.5h8v8h-8zM608.5 143.5h8v8h-8zM584.5 151.5h8v8h-8zM560.5 159.5h8v8h-8zM848.5 159.5h8v8h-8zM888.5 175.5h8v8h-8zM432.5 199.5h8v8h-8zM952.5 215.5h8v8h-8zM744.5 479.5h8v8h-8zM688.5 487.5h8v8h-8zM672.5 495.5h8v8h-8zM624.5 503.5h8v8h-8zM608.5 511.5h8v8h-8zM768.5 511.5h8v8h-8zM600.5 519.5h8v8h-8zM592.5 543.5h8v8h-8zM592.5 551.5h8v8h-8zM768.5 567.5h8v8h-8zM768.5 575.5h8v8h-8zM584.5 615.5h8v8h-8zM776.5 639.5h8v8h-8zM576.5 647.5h8v8h-8zM776.5 647.5h8v8h-8zM576.5 655.5h8v8h-8zM576.5 663.5h8v8h-8zM576.5 671.5h8v8h-8zM576.5 679.5h8v8h-8zM592.5 703.5h8v8h-8zM616.5 711.5h8v8h-8zM672.5 719.5h8v8h-8zM728.5 719.5h8v8h-8z"/>
<path fill="#70cf57" d="M648.5 135.5h8v8h-8zM768.5 135.5h8v8h-8zM512.5 175.5h8v8h-8zM496.5 183.5h8v8h-8zM904.5 183.5h8v8h-8zM440.5 199.5h32v8h-32zM984.5 239.5h32v8h-32zM712.5 479.5h8v8h-8zM632.5 503.5h32v8h-32zM768.5 519.5h8v8h-8zM768.5 527.5h8v8h-8zM768.5 543.5h8v8h-8zM768.5 551.5h8v8h-8zM592.5 559.5h8v8h-8zM768.5 559.5h8v8h-8zM592.5 567.5h8v8h-8zM592.5 575.5h8v8h-8zM768.5 583.5h8v8h-8zM768.5 591.5h8v8h-8zM584.5 623.5h8v8h-8zM776.5 655.5h8v8h-8zM776.5 663.5h8v8h-8zM776.5 671.5h8v8h-8zM584.5 695.5h8v8h-8zM624.5 711.5h8v8h-8zM752.5 711.5h8v8h-8zM680.5 719.5h24v8h-24zM712.5 719.5h16v8h-16z"/>
<path fill="#75d054" d="M640.5 135.5h8v8h-8zM576.5 151.5h8v8h-8zM552.5 159.5h8v8h-8zM528.5 167.5h8v8h-8zM872.5 167.5h8v8h-8zM448.5 191.5h24v8h-24zM976.5 231.5h32v8h-32zM720.5 479.5h24v8h-24zM696.5 487.5h8v8h-8zM752.5 487.5h8v8h-8zM680.5 495.5h8v8h-8zM760.5 495.5h8v8h-8zM664.5 503.5h8v8h-8zM616.5 511.5h8v8h-8zM600.5 527.5h8v8h-8zM768.5 535.5h8v8h-8zM592.5 583.5h8v8h-8zM592.5 591.5h8v8h-8zM592.5 599.5h8v8h-8zM768.5 599.5h8v8h-8zM584.5 631.5h8v8h-8zM768.5 695.5h8v8h-8zM600.5 703.5h8v8h-8zM632.5 711.5h16v8h-16zM704.5 719.5h8v8h-8z"/>
<path fill="#7ad151" d="M600.5 143.5h8v8h-8zM808.5 143.5h8v8h-8zM832.5 151.5h8v8h-8zM472.5 191.5h16v8h-16zM920.5 191.5h8v8h-8zM968.5 223.5h8v8h-8zM688.5 495.5h8v8h-8zM672.5 503.5h8v8h-8zM624.5 511.5h32v8h-32zM608.5 519.5h8v8h-8zM600.5 535.5h8v8h-8zM600.5 543.5h8v8h-8zM592.5 607.5h8v8h-8zM768.5 607.5h8v8h-8zM584.5 687.5h8v8h-8zM760.5 703.5h8v8h-8zM648.5 711.5h16v8h-16zM744.5 711.5h8v8h-8z"/>
<path fill="#7fd34e" d="M632.5 135.5h8v8h-8zM776.5 135.5h8v8h-8zM856.5 159.5h8v8h-8zM456.5 183.5h40v8h-40zM944.5 207.5h8v8h-8zM976.5 223.5h24v8h-24zM704.5 487.5h8v8h-8zM656.5 511.5h8v8h-8zM616.5 519.5h8v8h-8zM608.5 527.5h8v8h-8zM600.5 551.5h8v8h-8zM600.5 559.5h8v8h-8zM600.5 567.5h8v8h-8zM592.5 615.5h8v8h-8zM768.5 615.5h8v8h-8zM584.5 639.5h8v8h-8zM584.5 647.5h8v8h-8zM584.5 679.5h8v8h-8zM592.5 695.5h8v8h-8zM608.5 703.5h8v8h-8zM664.5 711.5h8v8h-8z"/>
<path fill="#84d44b" d="M568.5 151.5h8v8h-8zM544.5 159.5h8v8h-8zM960.5 215.5h32v8h-32zM712.5 487.5h8v8h-8zM696.5 495.5h8v8h-8zM680.5 503.5h8v8h-8zM760.5 503.5h8v8h-8zM664.5 511.5h8v8h-8zM624.5 519.5h32v8h-32zM608.5 535.5h8v8h-8zM600.5 575.5h8v8h-8zM600.5 583.5h8v8h-8zM600.5 591.5h8v8h-8zM600.5 599.5h8v8h-8zM592.5 623.5h8v8h-8zM584.5 655.5h8v8h-8zM584.5 663.5h8v8h-8zM584.5 671.5h8v8h-8zM768.5 687.5h8v8h-8zM616.5 703.5h16v8h-16zM672.5 711.5h8v8h-8zM736.5 711.5h8v8h-8z"/>
<path fill="#89d548" d="M624.5 135.5h8v8h-8zM592.5 143.5h8v8h-8zM464.5 175.5h48v8h-48zM952.5 207.5h8v8h-8zM744.5 487.5h8v8h-8zM688.5 503.5h8v8h-8zM672.5 511.5h8v8h-8zM656.5 519.5h8v8h-8zM616.5 527.5h8v8h-8zM608.5 543.5h8v8h-8zM608.5 551.5h8v8h-8zM600.5 607.5h8v8h-8zM768.5 623.5h8v8h-8zM592.5 631.5h8v8h-8zM592.5 687.5h8v8h-8zM600.5 695.5h8v8h-8zM632.5 703.5h24v8h-24zM680.5 711.5h16v8h-16z"/>
<path fill="#8ed645" d="M696.5 127.5h24v8h-24zM784.5 135.5h8v8h-8zM816.5 143.5h8v8h-8zM840.5 151.5h8v8h-8zM520.5 167.5h8v8h-8zM960.5 207.5h24v8h-24zM720.5 487.5h24v8h-24zM704.5 495.5h8v8h-8zM752.5 495.5h8v8h-8zM680.5 511.5h8v8h-8zM760.5 511.5h8v8h-8zM664.5 519.5h8v8h-8zM624.5 527.5h40v8h-40zM616.5 535.5h8v8h-8zM608.5 559.5h8v8h-8zM608.5 567.5h8v8h-8zM608.5 575.5h8v8h-8zM608.5 583.5h8v8h-8zM608.5 591.5h8v8h-8zM600.5 615.5h8v8h-8zM768.5 631.5h8v8h-8zM592.5 639.5h8v8h-8zM656.5 703.5h8v8h-8zM752.5 703.5h8v8h-8zM696.5 711.5h40v8h-40z"/>
<path fill="#95d840" d="M680.5 127.5h16v8h-16zM720.5 127.5h16v8h-16zM560.5 151.5h8v8h-8zM480.5 167.5h40v8h-40zM880.5 167.5h8v8h-8zM896.5 175.5h8v8h-8zM936.5 199.5h40v8h-40zM696.5 503.5h8v8h-8zM672.5 519.5h8v8h-8zM664.5 527.5h8v8h-8zM624.5 535.5h32v8h-32zM616.5 543.5h16v8h-16zM616.5 551.5h8v8h-8zM760.5 551.5h8v8h-8zM616.5 559.5h8v8h-8zM760.5 559.5h8v8h-8zM616.5 567.5h8v8h-8zM760.5 567.5h8v8h-8zM616.5 575.5h8v8h-8zM760.5 575.5h8v8h-8zM760.5 583.5h8v8h-8zM760.5 591.5h8v8h-8zM608.5 599.5h8v8h-8zM608.5 607.5h8v8h-8zM600.5 623.5h8v8h-8zM592.5 679.5h8v8h-8zM768.5 679.5h8v8h-8zM608.5 695.5h16v8h-16zM760.5 695.5h8v8h-8zM664.5 703.5h8v8h-8z"/>
<path fill="#9bd93c" d="M672.5 127.5h8v8h-8zM736.5 127.5h8v8h-8zM616.5 135.5h8v8h-8zM584.5 143.5h8v8h-8zM536.5 159.5h8v8h-8zM928.5 191.5h24v8h-24zM712.5 495.5h8v8h-8zM688.5 511.5h8v8h-8zM680.5 519.5h8v8h-8zM760.5 519.5h8v8h-8zM672.5 527.5h8v8h-8zM760.5 527.5h8v8h-8zM656.5 535.5h8v8h-8zM760.5 535.5h8v8h-8zM632.5 543.5h24v8h-24zM760.5 543.5h8v8h-8zM624.5 551.5h24v8h-24zM624.5 559.5h8v8h-8zM624.5 567.5h8v8h-8zM616.5 583.5h8v8h-8zM616.5 591.5h8v8h-8zM616.5 599.5h8v8h-8zM760.5 599.5h8v8h-8zM608.5 615.5h8v8h-8zM600.5 631.5h8v8h-8zM768.5 639.5h8v8h-8zM592.5 647.5h8v8h-8zM592.5 655.5h8v8h-8zM592.5 663.5h8v8h-8zM592.5 671.5h8v8h-8zM600.5 687.5h8v8h-8zM624.5 695.5h32v8h-32zM672.5 703.5h16v8h-16z"/>
<path fill="#a0da39" d="M664.5 127.5h8v8h-8zM792.5 135.5h8v8h-8zM488.5 159.5h48v8h-48zM864.5 159.5h8v8h-8zM912.5 183.5h8v8h-8zM952.5 191.5h16v8h-16zM664.5 535.5h8v8h-8zM656.5 543.5h8v8h-8zM648.5 551.5h8v8h-8zM632.5 559.5h24v8h-24zM632.5 567.5h16v8h-16zM624.5 575.5h16v8h-16zM624.5 583.5h8v8h-8zM624.5 591.5h8v8h-8zM616.5 607.5h8v8h-8zM760.5 607.5h8v8h-8zM608.5 623.5h8v8h-8zM768.5 647.5h8v8h-8zM768.5 671.5h8v8h-8zM608.5 687.5h8v8h-8zM656.5 695.5h16v8h-16zM688.5 703.5h8v8h-8zM744.5 703.5h8v8h-8z"/>
<path fill="#a5db36" d="M744.5 127.5h8v8h-8zM920.5 183.5h40v8h-40zM720.5 495.5h8v8h-8zM744.5 495.5h8v8h-8zM704.5 503.5h8v8h-8zM752.5 503.5h8v8h-8zM696.5 511.5h8v8h-8zM688.5 519.5h8v8h-8zM680.5 527.5h8v8h-8zM672.5 535.5h8v8h-8zM664.5 543.5h8v8h-8zM656.5 551.5h8v8h-8zM656.5 559.5h8v8h-8zM648.5 567.5h8v8h-8zM640.5 575.5h8v8h-8zM632.5 583.5h8v8h-8zM632.5 591.5h8v8h-8zM624.5 599.5h8v8h-8zM624.5 607.5h8v8h-8zM616.5 615.5h8v8h-8zM760.5 615.5h8v8h-8zM608.5 631.5h8v8h-8zM600.5 639.5h8v8h-8zM768.5 655.5h8v8h-8zM768.5 663.5h8v8h-8zM600.5 679.5h8v8h-8zM616.5 687.5h8v8h-8zM672.5 695.5h8v8h-8zM696.5 703.5h8v8h-8z"/>
<path fill="#aadc32" d="M656.5 127.5h8v8h-8zM608.5 135.5h8v8h-8zM824.5 143.5h8v8h-8zM504.5 151.5h56v8h-56zM904.5 175.5h40v8h-40zM728.5 495.5h16v8h-16zM680.5 535.5h8v8h-8zM672.5 543.5h8v8h-8zM664.5 551.5h8v8h-8zM656.5 567.5h8v8h-8zM648.5 575.5h8v8h-8zM640.5 583.5h8v8h-8zM640.5 591.5h8v8h-8zM632.5 599.5h8v8h-8zM624.5 615.5h8v8h-8zM616.5 623.5h8v8h-8zM600.5 647.5h8v8h-8zM600.5 655.5h8v8h-8zM600.5 663.5h8v8h-8zM600.5 671.5h8v8h-8zM608.5 679.5h8v8h-8zM624.5 687.5h40v8h-40zM760.5 687.5h8v8h-8zM680.5 695.5h8v8h-8zM752.5 695.5h8v8h-8zM704.5 703.5h8v8h-8zM736.5 703.5h8v8h-8z"/>
<path fill="#b0dd2f" d="M648.5 127.5h8v8h-8zM752.5 127.5h8v8h-8zM576.5 143.5h8v8h-8zM848.5 151.5h8v8h-8zM712.5 503.5h8v8h-8zM704.5 511.5h8v8h-8zM752.5 511.5h8v8h-8zM696.5 519.5h8v8h-8zM688.5 527.5h8v8h-8zM672.5 551.5h8v8h-8zM664.5 559.5h8v8h-8zM656.5 575.5h8v8h-8zM752.5 575.5h8v8h-8zM648.5 583.5h8v8h-8zM752.5 583.5h8v8h-8zM648.5 591.5h8v8h-8zM640.5 599.5h8v8h-8zM632.5 607.5h8v8h-8zM632.5 615.5h8v8h-8zM624.5 623.5h8v8h-8zM760.5 623.5h8v8h-8zM616.5 631.5h8v8h-8zM608.5 639.5h8v8h-8zM616.5 679.5h8v8h-8zM640.5 679.5h16v8h-16zM664.5 687.5h16v8h-16zM688.5 695.5h8v8h-8zM712.5 703.5h24v8h-24z"/>
<path fill="#b8de29" d="M520.5 143.5h56v8h-56zM888.5 167.5h48v8h-48zM744.5 503.5h8v8h-8zM688.5 535.5h8v8h-8zM680.5 543.5h8v8h-8zM672.5 559.5h8v8h-8zM752.5 559.5h8v8h-8zM664.5 567.5h8v8h-8zM752.5 567.5h8v8h-8zM656.5 583.5h8v8h-8zM752.5 591.5h8v8h-8zM648.5 599.5h8v8h-8zM640.5 607.5h8v8h-8zM640.5 615.5h8v8h-8zM632.5 623.5h8v8h-8zM624.5 631.5h8v8h-8zM616.5 639.5h8v8h-8zM608.5 647.5h8v8h-8zM608.5 655.5h8v8h-8zM608.5 663.5h8v8h-8zM608.5 671.5h8v8h-8zM624.5 679.5h16v8h-16zM656.5 679.5h16v8h-16zM680.5 687.5h8v8h-8z"/>
<path fill="#bddf26" d="M760.5 127.5h8v8h-8zM600.5 135.5h8v8h-8zM800.5 135.5h8v8h-8zM872.5 159.5h24v8h-24zM720.5 503.5h8v8h-8zM704.5 519.5h8v8h-8zM752.5 519.5h8v8h-8zM696.5 527.5h8v8h-8zM752.5 527.5h8v8h-8zM688.5 543.5h8v8h-8zM752.5 543.5h8v8h-8zM680.5 551.5h8v8h-8zM752.5 551.5h8v8h-8zM672.5 567.5h8v8h-8zM664.5 575.5h8v8h-8zM656.5 591.5h8v8h-8zM752.5 599.5h8v8h-8zM648.5 607.5h8v8h-8zM648.5 615.5h8v8h-8zM640.5 623.5h8v8h-8zM632.5 631.5h16v8h-16zM760.5 631.5h8v8h-8zM624.5 639.5h16v8h-16zM616.5 647.5h16v8h-16zM616.5 655.5h8v8h-8zM616.5 663.5h8v8h-8zM640.5 663.5h24v8h-24zM616.5 671.5h56v8h-56zM672.5 679.5h8v8h-8zM760.5 679.5h8v8h-8zM696.5 695.5h8v8h-8z"/>
<path fill="#c2df23" d="M640.5 127.5h8v8h-8zM536.5 135.5h56v8h-56zM896.5 159.5h24v8h-24zM728.5 503.5h16v8h-16zM712.5 511.5h8v8h-8zM696.5 535.5h8v8h-8zM752.5 535.5h8v8h-8zM680.5 559.5h8v8h-8zM672.5 575.5h8v8h-8zM664.5 583.5h8v8h-8zM664.5 591.5h8v8h-8zM656.5 599.5h8v8h-8zM656.5 607.5h8v8h-8zM752.5 607.5h8v8h-8zM648.5 623.5h8v8h-8zM648.5 631.5h8v8h-8zM640.5 639.5h16v8h-16zM632.5 647.5h24v8h-24zM624.5 655.5h40v8h-40zM624.5 663.5h16v8h-16zM664.5 663.5h8v8h-8zM672.5 671.5h8v8h-8zM680.5 679.5h8v8h-8zM688.5 687.5h8v8h-8zM704.5 695.5h8v8h-8zM744.5 695.5h8v8h-8z"/>
<path fill="#c8e020" d="M592.5 135.5h8v8h-8zM856.5 151.5h56v8h-56zM744.5 511.5h8v8h-8zM704.5 527.5h8v8h-8zM696.5 543.5h8v8h-8zM688.5 551.5h8v8h-8zM680.5 567.5h8v8h-8zM672.5 583.5h8v8h-8zM664.5 599.5h8v8h-8zM656.5 615.5h8v8h-8zM752.5 615.5h8v8h-8zM656.5 623.5h8v8h-8zM656.5 631.5h8v8h-8zM656.5 639.5h8v8h-8zM760.5 639.5h8v8h-8zM656.5 647.5h16v8h-16zM664.5 655.5h8v8h-8zM672.5 663.5h8v8h-8zM680.5 671.5h8v8h-8zM688.5 679.5h8v8h-8zM696.5 687.5h8v8h-8zM752.5 687.5h8v8h-8zM712.5 695.5h8v8h-8zM736.5 695.5h8v8h-8z"/>
<path fill="#cde11d" d="M552.5 127.5h48v8h-48zM632.5 127.5h8v8h-8zM768.5 127.5h8v8h-8zM832.5 143.5h24v8h-24zM720.5 511.5h8v8h-8zM712.5 519.5h8v8h-8zM704.5 535.5h8v8h-8zM696.5 551.5h8v8h-8zM688.5 559.5h8v8h-8zM744.5 559.5h8v8h-8zM744.5 567.5h8v8h-8zM680.5 575.5h8v8h-8zM744.5 575.5h8v8h-8zM744.5 583.5h8v8h-8zM672.5 591.5h8v8h-8zM744.5 591.5h8v8h-8zM664.5 607.5h8v8h-8zM664.5 615.5h8v8h-8zM664.5 623.5h8v8h-8zM664.5 631.5h8v8h-8zM664.5 639.5h8v8h-8zM672.5 647.5h8v8h-8zM760.5 647.5h8v8h-8zM672.5 655.5h8v8h-8zM680.5 663.5h8v8h-8zM760.5 671.5h8v8h-8zM720.5 695.5h16v8h-16z"/>
<path fill="#d2e21b" d="M600.5 127.5h32v8h-32zM856.5 143.5h40v8h-40zM728.5 511.5h16v8h-16zM744.5 519.5h8v8h-8zM712.5 527.5h8v8h-8zM744.5 527.5h8v8h-8zM704.5 543.5h8v8h-8zM744.5 543.5h8v8h-8zM744.5 551.5h8v8h-8zM696.5 559.5h8v8h-8zM688.5 567.5h8v8h-8zM680.5 583.5h8v8h-8zM672.5 599.5h8v8h-8zM744.5 599.5h8v8h-8zM672.5 607.5h8v8h-8zM752.5 623.5h8v8h-8zM672.5 631.5h8v8h-8zM672.5 639.5h8v8h-8zM680.5 655.5h8v8h-8zM760.5 655.5h8v8h-8zM760.5 663.5h8v8h-8zM688.5 671.5h8v8h-8zM696.5 679.5h8v8h-8zM704.5 687.5h8v8h-8z"/>
<path fill="#d8e219" d="M808.5 135.5h56v8h-56zM720.5 519.5h8v8h-8zM712.5 535.5h8v8h-8zM744.5 535.5h8v8h-8zM704.5 551.5h8v8h-8zM696.5 567.5h8v8h-8zM688.5 575.5h8v8h-8zM680.5 591.5h8v8h-8zM744.5 607.5h8v8h-8zM672.5 615.5h8v8h-8zM672.5 623.5h8v8h-8zM680.5 639.5h8v8h-8zM680.5 647.5h8v8h-8zM688.5 655.5h8v8h-8zM688.5 663.5h8v8h-8zM696.5 671.5h8v8h-8zM712.5 687.5h8v8h-8z"/>
<path fill="#dfe318" d="M776.5 127.5h32v8h-32zM864.5 135.5h16v8h-16zM728.5 519.5h16v8h-16zM720.5 527.5h8v8h-8zM736.5 527.5h8v8h-8zM712.5 543.5h8v8h-8zM736.5 551.5h8v8h-8zM704.5 559.5h8v8h-8zM736.5 559.5h8v8h-8zM736.5 567.5h8v8h-8zM696.5 575.5h8v8h-8zM736.5 575.5h8v8h-8zM688.5 583.5h8v8h-8zM736.5 583.5h8v8h-8zM688.5 591.5h8v8h-8zM736.5 591.5h8v8h-8zM680.5 599.5h8v8h-8zM680.5 607.5h8v8h-8zM680.5 615.5h8v8h-8zM680.5 623.5h8v8h-8zM680.5 631.5h8v8h-8zM752.5 631.5h8v8h-8zM688.5 647.5h8v8h-8zM704.5 679.5h8v8h-8zM752.5 679.5h8v8h-8zM744.5 687.5h8v8h-8z"/>
<path fill="#e5e419" d="M808.5 127.5h56v8h-56zM728.5 527.5h8v8h-8zM720.5 535.5h24v8h-24zM720.5 543.5h8v8h-8zM736.5 543.5h8v8h-8zM712.5 551.5h16v8h-16zM712.5 559.5h8v8h-8zM728.5 559.5h8v8h-8zM704.5 567.5h8v8h-8zM728.5 567.5h8v8h-8zM704.5 575.5h8v8h-8zM696.5 583.5h8v8h-8zM688.5 599.5h8v8h-8zM736.5 599.5h8v8h-8zM744.5 615.5h8v8h-8zM688.5 631.5h8v8h-8zM688.5 639.5h8v8h-8zM696.5 663.5h8v8h-8zM720.5 687.5h24v8h-24z"/>
<path fill="#eae51a" d="M728.5 543.5h8v8h-8zM728.5 551.5h8v8h-8zM720.5 559.5h8v8h-8zM712.5 567.5h16v8h-16zM712.5 575.5h24v8h-24zM704.5 583.5h8v8h-8zM728.5 583.5h8v8h-8zM696.5 591.5h8v8h-8zM728.5 591.5h8v8h-8zM696.5 599.5h8v8h-8zM688.5 607.5h8v8h-8zM736.5 607.5h8v8h-8zM688.5 615.5h8v8h-8zM688.5 623.5h8v8h-8zM752.5 639.5h8v8h-8zM696.5 647.5h8v8h-8zM696.5 655.5h8v8h-8zM704.5 671.5h8v8h-8zM712.5 679.5h8v8h-8z"/>
<path fill="#efe51c" d="M712.5 583.5h16v8h-16zM704.5 591.5h24v8h-24zM704.5 599.5h8v8h-8zM728.5 599.5h8v8h-8zM696.5 607.5h8v8h-8zM696.5 615.5h8v8h-8zM696.5 623.5h8v8h-8zM744.5 623.5h8v8h-8zM696.5 631.5h8v8h-8zM696.5 639.5h8v8h-8zM704.5 663.5h8v8h-8zM752.5 671.5h8v8h-8z"/>
<path fill="#f4e61e" d="M712.5 599.5h16v8h-16zM704.5 607.5h8v8h-8zM728.5 607.5h8v8h-8zM704.5 615.5h8v8h-8zM736.5 615.5h8v8h-8zM752.5 647.5h8v8h-8zM704.5 655.5h8v8h-8zM752.5 663.5h8v8h-8zM712.5 671.5h8v8h-8zM720.5 679.5h8v8h-8zM744.5 679.5h8v8h-8z"/>
<path fill="#f8e621" d="M712.5 607.5h16v8h-16zM712.5 615.5h8v8h-8zM728.5 615.5h8v8h-8zM704.5 623.5h8v8h-8zM736.5 623.5h8v8h-8zM704.5 631.5h8v8h-8zM744.5 631.5h8v8h-8zM704.5 639.5h8v8h-8zM704.5 647.5h8v8h-8zM752.5 655.5h8v8h-8zM728.5 679.5h16v8h-16z"/>
<path fill="#fde725" d="M720.5 615.5h8v8h-8zM712.5 623.5h24v8h-24zM712.5 631.5h32v8h-32zM712.5 639.5h40v8h-40zM712.5 647.5h40v8h-40zM712.5 655.5h40v8h-40zM712.5 663.5h40v8h-40zM720.5 671.5h32v8h-32z"/>
</g>
<rect x="434.5" y="505.2" width="426" height="3.6" fill="url(#pl0)" fill-opacity="0.85"/>
<rect x="446.5" y="548.7" width="427.5" height="3.6" fill="url(#pl1)" fill-opacity="0.85"/>
<rect x="463" y="625.2" width="418.5" height="3.6" fill="url(#pl2)" fill-opacity="0.85"/>
<rect x="490" y="697.7" width="403.5" height="3.6" fill="url(#pl3)" fill-opacity="0.85"/>
</g></g>
<rect x="296.5" y="127.5" width="816" height="868.5" fill="none" stroke="#a9a9a9" stroke-width="2.6"/>
<path d="M287 126.8h9M287 310.8h9M287 494h9M287 675.8h9M287 858.4h9M296.1 996v7.5M467.9 996v7.5M640.9 996v7.5M815 996v7.5M986.8 996v7.5" stroke="#888" stroke-width="2.2" fill="none"/>
<rect x="1121" y="127" width="42.2" height="869.3" fill="url(#vir)" stroke="rgba(40,40,20,0.55)" stroke-width="1.6"/>
<path d="M1163 182h-5M1163 296.1h-5M1163 410.2h-5M1163 524.3h-5M1163 638.4h-5M1163 752.5h-5M1163 866.6h-5M1163 980.7h-5" stroke="rgba(0,0,0,0.55)" stroke-width="2" fill="none"/>
<g shape-rendering="crispEdges">
<path fill="#440154" d="M1611 178h48v26h-48z"/>
<path fill="#481769" d="M1803 178h96v26h-96zM1971 280h96v26h-96z"/>
<path fill="#481a6c" d="M1971 178h48v26h-48zM1971 254h48v26h-48zM1971 306h96v25h-96z"/>
<path fill="#481f70" d="M1803 152h72v26h-72zM1971 204h48v25h-48zM1971 229h48v25h-48z"/>
<path fill="#482173" d="M1875 254h24v26h-24z"/>
<path fill="#482475" d="M1875 204h24v25h-24zM1875 229h24v25h-24zM1875 280h96v26h-96z"/>
<path fill="#482677" d="M1995 152h48v26h-48zM1899 178h24v26h-24zM1803 280h72v26h-72z"/>
<path fill="#472a7a" d="M1731 178h72v26h-72zM1923 178h48v26h-48zM1827 204h48v25h-48zM1827 254h48v26h-48zM2067 280h120v26h-120zM1995 331h24v25h-24z"/>
<path fill="#472d7b" d="M1827 127h72v25h-72zM1755 152h48v26h-48zM1875 152h120v26h-120zM2019 178h48v26h-48zM1731 204h48v25h-48zM2067 306h120v25h-120z"/>
<path fill="#472f7d" d="M1731 229h48v25h-48zM1827 229h48v25h-48z"/>
<path fill="#46327e" d="M2019 204h96v25h-96zM2019 229h120v25h-120zM2019 254h144v26h-144zM2019 331h192v25h-192z"/>
<path fill="#463480" d="M1899 204h24v25h-24zM1755 280h48v26h-48z"/>
<path fill="#453781" d="M1899 127h24v25h-24zM1707 178h24v26h-24zM2067 178h24v26h-24zM1779 204h48v25h-48zM1947 204h24v25h-24zM1731 254h48v26h-48zM1707 280h24v26h-24zM1923 306h48v25h-48zM2019 356h192v26h-192zM2115 408h120v25h-120z"/>
<path fill="#443a83" d="M1707 152h48v26h-48zM1923 204h24v25h-24zM1707 229h24v25h-24zM1899 229h24v25h-24zM1947 229h24v25h-24zM1707 254h24v26h-24zM1779 254h48v26h-48zM1899 254h72v26h-72zM1971 331h24v25h-24zM2019 382h216v26h-216z"/>
<path fill="#433d84" d="M1803 127h24v25h-24zM1923 127h24v25h-24zM1707 204h24v25h-24zM1779 229h48v25h-48zM1923 229h24v25h-24zM1731 280h24v26h-24zM1995 356h24v26h-24zM2139 433h96v25h-96z"/>
<path fill="#424186" d="M1851 306h72v25h-72z"/>
<path fill="#414487" d="M1779 127h24v25h-24zM1947 127h48v25h-48zM1659 306h48v25h-48zM1995 382h24v26h-24zM2043 408h72v25h-72zM2091 433h48v25h-48zM2139 458h96v26h-96z"/>
<path fill="#404688" d="M1683 178h24v26h-24zM1683 229h24v25h-24zM1635 280h72v26h-72zM1635 306h24v25h-24zM1707 306h144v25h-144zM1971 356h24v26h-24zM2163 484h72v26h-72z"/>
<path fill="#3f4889" d="M1755 127h24v25h-24zM1683 204h24v25h-24zM1611 254h96v26h-96zM2163 510h72v25h-72zM2187 560h48v26h-48z"/>
<path fill="#3e4c8a" d="M1731 127h24v25h-24zM1683 152h24v26h-24zM1659 331h48v25h-48zM2019 408h24v25h-24zM2091 458h48v26h-48zM2163 535h72v25h-72zM2187 586h48v26h-48z"/>
<path fill="#3c508b" d="M1707 127h24v25h-24zM1611 280h24v26h-24zM1611 306h24v25h-24zM1875 331h96v25h-96zM2187 612h48v25h-48z"/>
<path fill="#3b528b" d="M1659 229h24v25h-24zM1635 331h24v25h-24zM1971 382h24v26h-24zM2043 433h48v25h-48zM2115 484h48v26h-48zM2139 560h48v26h-48z"/>
<path fill="#3a548c" d="M1659 204h24v25h-24zM1635 229h24v25h-24zM1707 331h168v25h-168zM2115 510h48v25h-48zM2139 586h48v26h-48zM2139 612h48v25h-48zM2187 637h48v25h-48zM2187 662h48v26h-48z"/>
<path fill="#39568c" d="M1635 204h24v25h-24zM1611 229h24v25h-24zM1587 254h24v26h-24zM1971 408h48v25h-48zM2115 535h48v25h-48z"/>
<path fill="#38598c" d="M1587 280h24v26h-24zM1587 306h24v25h-24zM1875 356h96v26h-96zM2187 688h24v26h-24zM2187 714h24v25h-24z"/>
<path fill="#355e8d" d="M2043 458h48v26h-48z"/>
<path fill="#34608d" d="M1611 204h24v25h-24zM1611 331h24v25h-24zM2091 484h24v26h-24zM2115 560h24v26h-24zM2139 637h48v25h-48zM2163 688h24v26h-24z"/>
<path fill="#33628d" d="M1659 178h24v26h-24zM2019 433h24v25h-24zM2091 510h24v25h-24zM2115 586h24v26h-24zM2115 612h24v25h-24z"/>
<path fill="#32648e" d="M1587 229h24v25h-24zM1611 356h264v26h-264zM1875 382h96v26h-96zM1947 408h24v25h-24zM2139 662h48v26h-48z"/>
<path fill="#31668e" d="M1587 331h24v25h-24zM2067 484h24v26h-24zM2091 535h24v25h-24zM2163 714h24v25h-24z"/>
<path fill="#30698e" d="M1587 356h24v26h-24zM1587 382h120v26h-120zM1707 382h168v26h-168zM2115 637h24v25h-24z"/>
<path fill="#2e6d8e" d="M1659 152h24v26h-24zM2019 458h24v26h-24zM2067 510h24v25h-24zM2091 560h24v26h-24zM2139 688h24v26h-24z"/>
<path fill="#2e6f8e" d="M1563 280h24v26h-24zM1875 408h72v25h-72zM1995 433h24v25h-24zM2091 586h24v26h-24zM2091 612h24v25h-24z"/>
<path fill="#2d718e" d="M1563 254h24v26h-24zM1587 408h120v25h-120zM2067 535h24v25h-24zM2067 560h24v26h-24zM2091 637h24v25h-24zM2115 662h24v26h-24zM2139 714h24v25h-24zM2115 739h72v25h-72z"/>
<path fill="#2c728e" d="M1587 204h24v25h-24zM1563 382h24v26h-24zM1707 408h168v25h-168z"/>
<path fill="#2b748e" d="M1563 229h24v25h-24zM1563 356h24v26h-24zM1563 408h24v25h-24zM2067 586h24v26h-24z"/>
<path fill="#29798e" d="M1563 306h24v25h-24zM1563 331h24v25h-24zM1563 433h144v25h-144zM1971 433h24v25h-24zM1995 458h24v26h-24zM2043 510h24v25h-24zM2067 612h24v25h-24zM2067 637h24v25h-24zM2091 688h48v26h-48zM2115 714h24v25h-24zM2163 764h24v26h-24z"/>
<path fill="#297b8e" d="M2091 662h24v26h-24z"/>
<path fill="#287d8e" d="M1611 484h48v26h-48zM2043 535h24v25h-24zM2091 714h24v25h-24zM2139 764h24v26h-24z"/>
<path fill="#277f8e" d="M1611 458h48v26h-48zM2067 714h24v25h-24zM2115 764h24v26h-24zM2139 790h24v26h-24z"/>
<path fill="#26818e" d="M1539 382h24v26h-24zM2091 790h48v26h-48z"/>
<path fill="#25858e" d="M1539 356h24v26h-24zM1539 408h24v25h-24zM1563 458h48v26h-48zM1587 510h48v25h-48zM1587 560h48v26h-48zM2043 586h24v26h-24zM2043 612h24v25h-24zM2067 662h24v26h-24zM2067 688h24v26h-24zM2043 739h72v25h-72zM2043 790h48v26h-48zM2115 816h24v25h-24z"/>
<path fill="#24878e" d="M1539 280h24v26h-24zM1539 433h24v25h-24zM1587 535h48v25h-48zM2043 816h72v25h-72zM2043 841h72v25h-72z"/>
<path fill="#23898e" d="M1539 306h24v25h-24zM1947 433h24v25h-24zM1659 458h48v26h-48zM1563 484h48v26h-48zM2019 510h24v25h-24zM1587 586h48v26h-48zM2019 764h96v26h-96z"/>
<path fill="#228b8d" d="M1539 254h24v26h-24zM1539 331h24v25h-24zM1515 382h24v26h-24zM1635 510h24v25h-24zM1635 535h24v25h-24zM1587 612h48v25h-48zM1587 637h48v25h-48zM2019 790h24v26h-24zM1995 816h48v25h-48zM1995 841h48v25h-48zM1947 866h144v26h-144zM1995 892h48v26h-48zM1971 918h24v25h-24z"/>
<path fill="#228d8d" d="M1539 458h24v26h-24zM1563 510h24v25h-24zM1635 560h24v26h-24zM1587 662h48v26h-48z"/>
<path fill="#20928c" d="M1515 356h24v26h-24zM1491 382h24v26h-24zM1515 408h24v25h-24zM1707 433h240v25h-240zM1707 458h24v26h-24zM1971 458h24v26h-24zM1539 484h24v26h-24zM1563 535h24v25h-24zM1563 560h24v26h-24zM1635 586h24v26h-24zM1635 612h24v25h-24zM1635 637h24v25h-24zM2043 662h24v26h-24zM1587 688h48v26h-48zM2043 688h24v26h-24zM1587 764h96v26h-96zM1995 790h24v26h-24zM1971 816h24v25h-24zM1971 841h24v25h-24zM1971 892h24v26h-24z"/>
<path fill="#20938c" d="M1515 433h24v25h-24zM1563 586h24v26h-24zM1947 918h24v25h-24z"/>
<path fill="#1f958b" d="M1515 331h24v25h-24zM1491 356h24v26h-24zM1491 408h24v25h-24zM1491 433h24v25h-24zM1539 510h24v25h-24zM2019 535h24v25h-24zM1563 612h24v25h-24zM2019 612h24v25h-24zM1563 637h24v25h-24zM1635 662h24v26h-24zM1587 739h96v25h-96zM1995 739h48v25h-48zM1971 764h48v26h-48zM1611 790h24v26h-24zM1971 790h24v26h-24zM1827 892h144v26h-144z"/>
<path fill="#1f978b" d="M1491 331h24v25h-24zM1491 458h48v26h-48zM1659 510h48v25h-48zM1539 535h24v25h-24zM1539 560h24v26h-24zM2019 586h24v26h-24zM1563 662h24v26h-24zM1635 688h24v26h-24zM1587 714h96v25h-96zM1635 790h24v26h-24zM1947 841h24v25h-24zM1827 866h120v26h-120zM1827 918h48v25h-48z"/>
<path fill="#1f998a" d="M1491 484h48v26h-48zM1803 892h24v26h-24zM1875 918h72v25h-72z"/>
<path fill="#1e9b8a" d="M1515 280h24v26h-24zM1491 510h48v25h-48zM1995 510h24v25h-24zM1659 535h48v25h-48zM1539 586h24v26h-24zM1539 612h24v25h-24zM2019 662h24v26h-24zM1563 688h24v26h-24zM2019 688h24v26h-24zM1683 739h48v25h-48zM1587 790h24v26h-24zM1707 790h24v26h-24zM1947 816h24v25h-24zM1827 841h48v25h-48z"/>
<path fill="#1fa088" d="M1515 306h24v25h-24zM1659 790h24v26h-24zM1947 790h24v26h-24zM1611 816h24v25h-24zM1707 816h24v25h-24zM1731 866h96v26h-96zM1731 892h72v26h-72zM1731 918h96v25h-96z"/>
<path fill="#1fa187" d="M1467 458h24v26h-24zM1467 484h24v26h-24zM1491 535h48v25h-48zM1491 560h48v26h-48zM1995 612h24v25h-24zM1539 637h24v25h-24zM1563 714h24v25h-24zM1683 790h24v26h-24zM1731 790h24v26h-24zM1731 816h144v25h-144zM1707 841h120v25h-120zM1875 841h72v25h-72zM1707 866h24v26h-24zM1707 892h24v26h-24z"/>
<path fill="#20a386" d="M1467 510h24v25h-24zM1707 510h24v25h-24zM1995 535h24v25h-24zM1491 586h48v26h-48zM1659 586h48v26h-48zM1491 612h48v25h-48zM1539 662h24v26h-24zM1971 739h24v25h-24zM1563 764h24v26h-24zM1755 790h192v26h-192zM1587 816h24v25h-24zM1875 816h72v25h-72zM1707 918h24v25h-24z"/>
<path fill="#21a585" d="M1659 637h24v25h-24z"/>
<path fill="#22a785" d="M1731 458h24v26h-24zM1947 458h24v26h-24zM1467 535h24v25h-24zM1707 535h24v25h-24zM1467 560h24v26h-24zM1707 586h24v26h-24zM1995 586h24v26h-24zM1659 612h72v25h-72zM1491 637h48v25h-48zM1659 662h72v26h-72zM1539 688h24v26h-24zM1707 688h24v26h-24zM1539 714h24v25h-24zM1563 739h24v25h-24zM1731 739h24v25h-24zM1683 764h48v26h-48zM1563 790h24v26h-24zM1635 816h24v25h-24zM1683 816h24v25h-24zM1683 841h24v25h-24zM1683 866h24v26h-24zM1683 892h24v26h-24z"/>
<path fill="#25ac82" d="M1659 688h48v26h-48z"/>
<path fill="#27ad81" d="M1467 586h24v26h-24zM1467 612h24v25h-24zM1491 662h48v26h-48zM1995 662h24v26h-24zM1995 688h24v26h-24zM1539 764h24v26h-24zM1659 816h24v25h-24zM1611 841h24v25h-24zM1659 841h24v25h-24z"/>
<path fill="#29af7f" d="M1755 458h192v26h-192zM1515 714h24v25h-24zM1539 739h24v25h-24zM1947 739h24v25h-24zM1731 764h240v26h-240zM1563 816h24v25h-24zM1587 841h24v25h-24zM1635 841h24v25h-24zM1659 866h24v26h-24zM1659 892h24v26h-24z"/>
<path fill="#2cb17e" d="M1611 866h48v26h-48z"/>
<path fill="#2eb37c" d="M1515 764h24v26h-24zM1539 790h24v26h-24z"/>
<path fill="#34b679" d="M1491 688h48v26h-48zM1491 714h24v25h-24z"/>
<path fill="#38b977" d="M1971 510h24v25h-24zM1731 535h24v25h-24zM1971 535h24v25h-24z"/>
<path fill="#3bbb75" d="M1731 510h24v25h-24zM1515 739h24v25h-24zM1755 739h24v25h-24z"/>
<path fill="#50c46a" d="M1731 586h24v26h-24zM1971 586h24v26h-24zM1731 612h24v25h-24zM1971 612h24v25h-24zM1731 662h24v26h-24zM1971 662h24v26h-24zM1731 688h24v26h-24zM1971 688h24v26h-24z"/>
<path fill="#5cc863" d="M1755 510h24v25h-24zM1947 510h24v25h-24zM1779 739h168v25h-168z"/>
<path fill="#69cd5b" d="M1755 535h24v25h-24z"/>
<path fill="#70cf57" d="M1947 535h24v25h-24z"/>
<path fill="#7ad151" d="M1947 662h24v26h-24zM1755 688h24v26h-24zM1947 688h24v26h-24z"/>
<path fill="#89d548" d="M1779 510h24v25h-24zM1755 586h24v26h-24zM1947 586h24v26h-24zM1755 612h24v25h-24zM1947 612h24v25h-24z"/>
<path fill="#8ed645" d="M1755 662h24v26h-24z"/>
<path fill="#95d840" d="M1803 510h144v25h-144z"/>
<path fill="#aadc32" d="M1779 535h24v25h-24z"/>
<path fill="#bddf26" d="M1779 688h24v26h-24z"/>
<path fill="#c8e020" d="M1779 586h24v26h-24zM1779 612h24v25h-24zM1779 662h24v26h-24zM1803 688h144v26h-144z"/>
<path fill="#d2e21b" d="M1803 535h144v25h-144z"/>
<path fill="#dfe318" d="M1803 586h24v26h-24zM1923 586h24v26h-24zM1803 612h24v25h-24zM1923 612h24v25h-24zM1803 662h144v26h-144z"/>
<path fill="#fde725" d="M1467 382h24v26h-24zM1467 408h24v25h-24zM1467 433h24v25h-24zM1659 484h408v26h-408zM1659 560h408v26h-408zM1827 586h96v26h-96zM1827 612h96v25h-96zM1467 637h24v25h-24zM1683 637h384v25h-384zM1467 662h24v26h-24zM1683 714h384v25h-384z"/>
</g>
<rect x="1466.8" y="126.8" width="816.2" height="868" fill="none" stroke="#a9a9a9" stroke-width="2.6"/>
<path d="M1458 139.3h9M1458 267h9M1458 394.7h9M1458 522.4h9M1458 650.1h9M1458 777.8h9M1458 905.5h9M1479 996v7.5M1719 996v7.5M1959 996v7.5M2199 996v7.5" stroke="#888" stroke-width="2.2" fill="none"/>
<rect x="2292.5" y="127.4" width="41" height="867" fill="url(#vir)" stroke="rgba(40,40,20,0.55)" stroke-width="1.6"/>
<path d="M2333.5 151.7h-5M2333.5 264h-5M2333.5 376.3h-5M2333.5 488.6h-5M2333.5 600.9h-5M2333.5 713.2h-5M2333.5 825.5h-5M2333.5 937.8h-5" stroke="rgba(0,0,0,0.55)" stroke-width="2" fill="none"/>
<path d="M2220 118.5h20M2247 118.5h18M2311 118.5h7" stroke="#9a9a9a" stroke-width="2.2" fill="none"/>
<clipPath id="blClip"><rect x="296" y="1169" width="866" height="869"/></clipPath>
<g clip-path="url(#blClip)">
<path d="M332.9,2038.0C338.9,2037.2 341.7,2042.0 350.8,2035.7C359.9,2029.4 354.0,2030.1 360.3,2019.0C366.6,2007.9 364.2,2008.7 369.8,2002.4C375.4,1996.1 371.8,2000.0 377.0,2000.0C382.2,2000.0 379.0,2005.6 385.3,2002.4C391.6,1999.2 389.7,1996.9 396.0,1990.5C402.3,1984.1 399.5,1983.3 404.3,1983.3C409.1,1983.3 405.9,1983.3 410.3,1990.5C414.7,1997.7 411.8,1996.9 417.4,2004.8C423.0,2012.7 419.8,2006.4 427.0,2014.3C434.2,2022.2 431.0,2024.2 438.9,2028.6C446.8,2033.0 442.1,2027.0 450.8,2027.4C459.5,2027.8 457.9,2031.0 465.0,2029.8C472.1,2028.6 467.4,2032.1 472.2,2023.8C477.0,2015.5 473.7,2017.5 479.3,2004.8C484.9,1992.1 482.5,1993.6 488.9,1985.7C495.3,1977.8 492.1,1985.8 498.4,1981.0C504.7,1976.2 501.6,1979.4 507.9,1971.4C514.2,1963.4 511.8,1971.4 517.4,1957.1C523.0,1942.8 519.8,1946.8 524.6,1928.6C529.4,1910.4 526.2,1919.9 531.7,1902.4C537.2,1884.9 534.8,1896.0 541.2,1876.2C547.6,1856.4 545.2,1863.5 550.8,1842.9C556.4,1822.3 552.4,1833.4 557.9,1814.3C563.4,1795.2 561.0,1797.6 567.4,1785.7C573.8,1773.8 570.6,1784.9 577.0,1778.6C583.4,1772.3 580.2,1780.2 586.5,1766.7C592.8,1753.2 589.7,1760.3 596.0,1738.1C602.3,1715.9 599.2,1719.8 605.5,1700.0C611.8,1680.2 607.9,1693.7 615.0,1678.6C622.1,1663.5 619.8,1672.3 626.9,1654.8C634.0,1637.3 630.4,1644.5 636.4,1626.2C642.4,1607.9 641.0,1614.9 645.0,1600.0C649.0,1585.1 644.9,1589.6 648.4,1581.4C651.9,1573.2 649.2,1577.5 655.5,1575.5C661.8,1573.5 660.2,1577.5 667.4,1575.5C674.6,1573.5 670.2,1574.7 677.0,1569.5C683.8,1564.3 680.6,1560.0 687.7,1560.0C694.8,1560.0 690.9,1562.4 698.4,1569.5C705.9,1576.6 702.4,1583.0 710.3,1581.4C718.2,1579.8 715.6,1571.9 722.2,1564.8C728.8,1557.7 725.0,1559.2 730.0,1560.0C735.0,1560.8 731.5,1562.7 737.1,1567.1C742.7,1571.5 739.9,1571.9 746.7,1573.1C753.5,1574.3 751.1,1577.4 757.4,1570.7C763.7,1564.0 759.8,1566.0 765.7,1552.9C771.6,1539.8 768.1,1542.5 775.2,1531.4C782.3,1520.3 779.2,1526.6 787.1,1519.5C795.0,1512.4 791.0,1514.0 799.0,1510.0C807.0,1506.0 803.4,1510.8 811.0,1507.6C818.6,1504.4 814.6,1507.6 821.7,1500.5C828.8,1493.4 826.1,1495.7 832.4,1486.2C838.7,1476.7 835.9,1483.0 840.7,1471.9C845.5,1460.8 843.1,1465.6 846.7,1452.9C850.3,1440.2 848.2,1445.7 851.4,1433.8C854.6,1421.9 852.2,1425.8 856.2,1417.1C860.2,1408.4 857.7,1414.7 863.3,1407.6C868.9,1400.5 866.5,1403.6 872.9,1395.7C879.3,1387.8 876.5,1391.7 882.4,1383.8C888.3,1375.9 885.5,1377.5 890.7,1371.9C895.9,1366.3 892.7,1366.3 897.9,1367.1C903.1,1367.9 900.3,1368.7 906.2,1374.3C912.1,1379.9 908.6,1378.2 915.7,1383.8C922.8,1389.4 920.5,1383.9 927.6,1391.0C934.7,1398.1 930.7,1389.3 937.1,1405.2C943.5,1421.1 940.3,1417.2 946.7,1438.6C953.1,1460.0 949.9,1448.1 956.2,1469.5C962.5,1490.9 959.4,1482.3 965.7,1502.9C972.0,1523.5 969.6,1510.8 975.2,1531.4C980.8,1552.0 977.8,1541.9 982.4,1564.8C987.0,1587.7 982.7,1577.2 989.0,1600.0C995.3,1622.8 994.1,1609.5 1001.4,1633.3C1008.7,1657.1 1004.6,1646.8 1011.0,1671.4C1017.4,1696.0 1014.2,1683.3 1020.5,1707.1C1026.8,1730.9 1023.7,1719.1 1030.0,1742.9C1036.3,1766.7 1032.4,1754.8 1039.5,1778.6C1046.6,1802.4 1045.0,1792.1 1051.4,1814.3C1057.8,1836.5 1053.8,1821.4 1058.6,1845.2C1063.4,1869.0 1060.9,1861.9 1065.7,1885.7C1070.5,1909.5 1068.1,1897.6 1072.9,1916.7C1077.7,1935.8 1074.5,1932.2 1080.0,1942.9C1085.5,1953.6 1083.2,1944.8 1089.5,1948.8C1095.8,1952.8 1091.8,1944.9 1099.0,1954.8C1106.2,1964.7 1107.0,1970.7 1111.0,1978.6" fill="none" stroke="#3a88c4" stroke-width="3.4" stroke-linejoin="round" stroke-linecap="round"/>
<path d="M332.9,2021.4C334.9,2015.1 334.5,2014.3 338.9,2002.4C343.3,1990.5 340.9,1994.0 346.0,1985.7C351.1,1977.4 348.7,1979.0 354.3,1977.4C359.9,1975.8 355.1,1978.2 362.7,1981.0C370.3,1983.8 367.5,1982.5 377.0,1985.7C386.5,1988.9 383.3,1984.1 391.2,1990.5C399.1,1996.9 394.4,1994.5 400.8,2004.8C407.2,2015.1 404.0,2010.3 410.3,2021.4C416.6,2032.5 408.7,2032.5 419.8,2038.0C430.9,2043.5 433.3,2043.5 443.6,2038.0C453.9,2032.5 446.0,2036.4 450.8,2021.4C455.6,2006.4 453.2,2011.9 457.9,1992.9C462.6,1973.9 460.2,1977.8 465.0,1964.3C469.8,1950.8 466.6,1961.1 472.2,1952.4C477.8,1943.7 476.1,1947.6 481.7,1938.1C487.3,1928.6 484.1,1933.3 488.9,1923.8C493.7,1914.3 492.0,1920.6 496.0,1909.5C500.0,1898.4 498.0,1906.4 500.8,1890.5C503.6,1874.6 501.9,1878.6 504.3,1861.9C506.7,1845.2 504.3,1854.8 507.9,1840.5C511.5,1826.2 509.4,1835.7 515.0,1819.0C520.6,1802.3 518.2,1809.5 524.6,1790.5C531.0,1771.5 527.8,1781.0 534.1,1761.9C540.4,1742.8 538.0,1747.6 543.6,1733.3C549.2,1719.0 545.2,1729.3 550.8,1719.0C556.4,1708.7 555.4,1715.4 560.3,1702.4C565.2,1689.4 561.6,1696.5 565.5,1680.0C569.4,1663.5 567.3,1671.0 572.0,1653.0C576.7,1635.0 574.9,1644.0 579.6,1626.0C584.3,1608.0 582.5,1615.2 586.1,1599.0C589.7,1582.8 587.2,1591.1 590.4,1577.4C593.6,1563.7 591.8,1569.5 595.8,1558.0C599.8,1546.5 596.9,1553.6 602.3,1542.8C607.7,1532.0 604.9,1539.2 612.1,1525.5C619.3,1511.8 617.5,1512.1 624.0,1501.6C630.5,1491.1 626.3,1494.0 631.6,1494.0C636.9,1494.0 634.4,1494.3 640.0,1501.6C645.6,1508.9 642.8,1508.4 648.4,1516.0C654.0,1523.6 651.1,1524.7 656.7,1524.3C662.3,1523.9 659.1,1523.5 665.1,1514.8C671.1,1506.1 667.5,1504.9 674.6,1498.1C681.7,1491.3 679.4,1502.4 686.5,1494.5C693.6,1486.6 689.7,1487.4 696.0,1474.3C702.3,1461.2 699.2,1464.7 705.5,1455.2C711.8,1445.7 706.8,1449.7 715.0,1445.7C723.2,1441.7 722.2,1444.9 730.0,1443.3C737.8,1441.7 733.5,1446.5 738.3,1441.0C743.1,1435.5 740.7,1437.0 744.3,1426.7C747.9,1416.4 745.0,1421.9 749.0,1410.0C753.0,1398.1 750.6,1402.1 756.2,1391.0C761.8,1379.9 759.4,1387.8 765.7,1376.7C772.0,1365.6 768.8,1369.1 775.2,1357.6C781.6,1346.1 779.2,1348.4 784.8,1342.1C790.4,1335.8 787.2,1337.4 791.9,1338.6C796.6,1339.8 794.2,1342.1 799.0,1345.7C803.8,1349.3 801.0,1350.1 806.2,1349.3C811.4,1348.5 809.3,1349.3 814.5,1343.3C819.7,1337.3 817.3,1340.1 821.7,1331.4C826.1,1322.7 823.2,1324.6 827.6,1317.1C832.0,1309.6 829.2,1312.1 834.8,1308.8C840.4,1305.5 838.4,1308.3 844.3,1307.1C850.2,1305.9 847.4,1304.2 852.6,1305.2C857.8,1306.2 855.0,1306.8 859.8,1310.0C864.6,1313.2 861.4,1314.0 866.9,1314.8C872.4,1315.6 870.4,1310.8 876.4,1312.4C882.4,1314.0 879.6,1313.2 884.8,1319.5C890.0,1325.8 887.2,1323.5 891.9,1331.4C896.6,1339.3 893.8,1336.1 899.0,1343.3C904.2,1350.5 902.2,1345.0 907.4,1352.9C912.6,1360.8 910.1,1356.8 914.5,1367.1C918.9,1377.4 916.1,1375.1 920.5,1383.8C924.9,1392.5 922.8,1386.9 927.6,1393.3C932.4,1399.7 930.0,1398.1 934.8,1402.9C939.6,1407.7 936.8,1406.8 941.9,1407.6C947.0,1408.4 945.4,1403.6 950.2,1405.2C955.0,1406.8 952.6,1402.9 956.2,1412.4C959.8,1421.9 957.8,1416.3 961.0,1433.8C964.2,1451.3 962.5,1443.4 965.7,1464.8C968.9,1486.2 966.9,1475.1 970.5,1498.1C974.1,1521.1 972.4,1510.0 976.4,1533.8C980.4,1557.6 978.9,1547.4 982.4,1569.5C985.9,1591.6 982.2,1581.9 987.0,1600.0C991.8,1618.1 990.3,1604.0 996.7,1623.8C1003.1,1643.6 999.9,1634.1 1006.2,1659.5C1012.5,1684.9 1010.1,1673.8 1015.7,1700.0C1021.3,1726.2 1017.3,1715.9 1022.9,1738.1C1028.5,1760.3 1026.9,1744.5 1032.4,1766.7C1037.9,1788.9 1034.0,1781.0 1039.5,1804.8C1045.0,1828.6 1042.6,1816.7 1049.0,1838.1C1055.4,1859.5 1053.0,1853.1 1058.6,1869.0C1064.2,1884.9 1060.2,1878.5 1065.7,1885.7C1071.2,1892.9 1069.6,1884.9 1075.2,1890.5C1080.8,1896.1 1077.6,1889.7 1082.4,1902.4C1087.2,1915.1 1084.7,1910.4 1089.5,1928.6C1094.3,1946.8 1091.1,1941.2 1096.7,1957.1C1102.3,1973.0 1099.9,1964.3 1106.2,1976.2C1112.5,1988.1 1110.1,1982.6 1115.7,1992.9C1121.3,2003.2 1120.5,2002.4 1122.9,2007.1" fill="none" stroke="#ff922a" stroke-width="3.4" stroke-linejoin="round" stroke-linecap="round"/>
<path d="M332.9,1983.3C336.1,1986.1 337.2,1989.3 342.4,1991.7C347.6,1994.1 343.6,1994.1 348.4,1990.5C353.2,1986.9 351.2,1983.4 356.7,1981.0C362.2,1978.6 358.2,1980.9 365.0,1983.3C371.8,1985.7 369.0,1985.7 377.0,1988.1C385.0,1990.5 382.6,1993.7 388.9,1990.5C395.2,1987.3 390.9,1986.5 396.0,1978.6C401.1,1970.7 398.7,1973.9 404.3,1966.7C409.9,1959.5 407.9,1964.3 412.7,1957.1C417.5,1949.9 414.6,1957.1 418.6,1945.2C422.6,1933.3 420.2,1938.1 424.6,1921.4C429.0,1904.7 426.9,1912.7 431.7,1895.2C436.5,1877.7 434.1,1884.1 438.9,1869.0C443.7,1853.9 441.3,1861.1 446.0,1850.0C450.7,1838.9 448.3,1849.2 453.1,1835.7C457.9,1822.2 455.5,1828.5 460.3,1809.5C465.1,1790.5 462.6,1800.8 467.4,1778.6C472.2,1756.4 469.8,1766.7 474.6,1742.9C479.4,1719.1 476.9,1728.5 481.7,1707.1C486.5,1685.7 484.1,1695.3 488.9,1678.6C493.7,1661.9 491.3,1670.6 496.0,1657.1C500.7,1643.6 498.7,1650.2 503.1,1638.1C507.5,1626.0 504.4,1635.5 509.3,1620.7C514.2,1605.9 512.5,1608.8 517.9,1593.6C523.3,1578.4 520.8,1591.4 525.5,1575.2C530.2,1559.0 527.3,1564.1 532.0,1545.0C536.7,1525.9 533.8,1539.6 539.6,1517.9C545.4,1496.2 544.0,1501.7 549.3,1480.0C554.6,1458.3 551.0,1465.9 555.5,1452.9C560.0,1439.9 557.1,1449.0 562.7,1441.0C568.3,1433.0 565.9,1437.7 572.2,1429.0C578.5,1420.3 574.6,1423.5 581.7,1414.8C588.8,1406.1 587.2,1412.4 593.6,1402.9C600.0,1393.4 596.0,1397.3 600.8,1386.2C605.6,1375.1 603.2,1380.6 607.9,1369.5C612.6,1358.4 609.4,1362.0 615.0,1352.9C620.6,1343.8 618.2,1347.7 624.6,1342.1C631.0,1336.5 627.4,1342.1 634.1,1336.2C640.8,1330.3 637.7,1329.5 644.8,1324.3C651.9,1319.1 648.0,1325.5 655.5,1320.7C663.0,1315.9 658.7,1322.3 667.4,1310.0C676.1,1297.7 673.8,1293.7 681.7,1283.8C689.6,1273.9 683.3,1283.4 691.2,1280.2C699.1,1277.0 697.6,1282.6 705.5,1274.3C713.4,1266.0 708.6,1267.1 715.0,1255.2C721.4,1243.3 719.6,1245.7 724.6,1238.6C729.6,1231.5 725.0,1236.8 730.0,1234.0C735.0,1231.2 733.2,1235.0 739.5,1230.2C745.8,1225.4 741.8,1227.8 749.0,1219.5C756.2,1211.2 754.6,1210.0 761.0,1205.2C767.4,1200.4 762.6,1203.6 768.1,1205.2C773.6,1206.8 772.0,1209.6 777.6,1210.0C783.2,1210.4 779.2,1213.5 784.8,1206.4C790.4,1199.3 788.8,1200.1 794.3,1188.6C799.8,1177.1 797.4,1179.4 801.4,1171.9C805.4,1164.4 802.6,1167.5 806.2,1166.0C809.8,1164.5 807.3,1160.8 812.1,1167.5C816.9,1174.2 815.3,1177.6 820.5,1186.2C825.7,1194.8 822.4,1190.9 827.6,1193.3C832.8,1195.7 830.4,1190.1 836.0,1193.3C841.6,1196.5 838.4,1193.8 844.3,1202.9C850.2,1212.0 847.5,1211.2 853.8,1220.7C860.1,1230.2 856.9,1223.9 863.3,1231.4C869.7,1238.9 866.5,1235.8 872.9,1243.3C879.3,1250.8 876.1,1245.3 882.4,1254.0C888.7,1262.7 885.6,1258.0 891.9,1269.5C898.2,1281.0 895.0,1277.5 901.4,1288.6C907.8,1299.7 905.4,1292.6 911.0,1302.9C916.6,1313.2 913.4,1305.2 918.1,1319.5C922.8,1333.8 920.8,1329.0 925.2,1345.7C929.6,1362.4 927.2,1352.0 931.2,1369.5C935.2,1387.0 933.5,1378.3 937.1,1398.1C940.7,1417.9 938.7,1407.6 941.9,1429.0C945.1,1450.4 943.5,1441.0 946.7,1462.4C949.9,1483.8 947.4,1473.5 951.4,1493.3C955.4,1513.1 953.8,1504.4 958.6,1521.9C963.4,1539.4 960.9,1529.8 965.7,1545.7C970.5,1561.6 968.7,1551.4 972.9,1569.5C977.1,1587.6 974.2,1577.9 978.2,1600.0C982.2,1622.1 980.2,1611.9 984.8,1635.7C989.4,1659.5 986.4,1645.2 991.9,1671.4C997.4,1697.6 995.8,1688.9 1001.4,1714.3C1007.0,1739.7 1003.8,1722.2 1008.6,1747.6C1013.4,1773.0 1010.9,1763.5 1015.7,1790.5C1020.5,1817.5 1018.1,1804.8 1022.9,1828.6C1027.7,1852.4 1024.5,1839.7 1030.0,1861.9C1035.5,1884.1 1033.2,1874.6 1039.5,1895.2C1045.8,1915.8 1042.6,1904.7 1049.0,1923.8C1055.4,1942.9 1052.2,1936.5 1058.6,1952.4C1065.0,1968.3 1061.0,1958.7 1068.1,1971.4C1075.2,1984.1 1072.9,1977.0 1080.0,1990.5C1087.1,2004.0 1082.4,1996.4 1089.5,2011.9C1096.6,2027.4 1097.4,2028.6 1101.4,2036.9" fill="none" stroke="#45ab45" stroke-width="3.4" stroke-linejoin="round" stroke-linecap="round"/>
<path d="M332.9,1945.2C334.9,1946.0 332.9,1949.6 338.9,1947.6C344.9,1945.6 344.5,1941.7 350.8,1939.3C357.1,1936.9 353.2,1940.1 357.9,1940.5C362.6,1940.9 360.2,1944.5 365.0,1940.5C369.8,1936.5 367.8,1938.9 372.2,1928.6C376.6,1918.3 374.1,1923.0 378.1,1909.5C382.1,1896.0 379.7,1898.8 384.1,1888.1C388.5,1877.4 385.6,1881.4 391.2,1877.4C396.8,1873.4 395.2,1879.8 400.8,1876.2C406.4,1872.6 403.2,1876.2 407.9,1866.7C412.6,1857.2 411.0,1860.3 415.0,1847.6C419.0,1834.9 416.2,1843.7 419.8,1828.6C423.4,1813.5 421.4,1820.7 425.8,1802.4C430.2,1784.1 427.8,1792.9 432.9,1773.8C438.0,1754.7 436.0,1763.5 441.2,1745.2C446.4,1726.9 443.6,1736.4 448.4,1719.0C453.2,1701.6 450.7,1710.3 455.5,1692.9C460.3,1675.5 459.2,1680.0 462.7,1666.7C466.2,1653.4 462.7,1662.9 466.0,1653.0C469.3,1643.1 467.8,1646.7 472.5,1637.0C477.2,1627.3 476.0,1633.0 480.0,1624.0C484.0,1615.0 481.5,1620.1 484.4,1610.0C487.3,1599.9 485.8,1605.2 488.7,1593.6C491.6,1582.0 490.1,1588.5 493.0,1575.2C495.9,1561.9 494.5,1568.0 497.4,1553.6C500.3,1539.2 498.5,1547.5 501.7,1532.0C504.9,1516.5 502.8,1524.3 507.1,1507.0C511.4,1489.7 510.9,1493.0 514.7,1480.0C518.5,1467.0 516.0,1480.2 518.5,1468.0C521.0,1455.8 518.6,1458.7 522.2,1443.3C525.8,1427.9 524.5,1435.4 529.3,1421.9C534.1,1408.4 531.7,1415.6 536.5,1402.9C541.3,1390.2 538.8,1395.3 543.6,1383.8C548.4,1372.3 546.0,1375.4 550.8,1368.3C555.6,1361.2 550.0,1364.0 557.9,1362.4C565.8,1360.8 566.7,1361.2 574.6,1363.6C582.5,1366.0 576.2,1362.8 581.7,1369.5C587.2,1376.2 584.8,1375.9 591.2,1383.8C597.6,1391.7 594.4,1388.5 600.8,1393.3C607.2,1398.1 604.0,1395.7 610.3,1398.1C616.6,1400.5 614.2,1401.3 619.8,1400.5C625.4,1399.7 621.8,1399.0 627.0,1395.7C632.2,1392.4 629.8,1390.5 635.3,1390.5C640.8,1390.5 638.0,1392.8 643.6,1395.7C649.2,1398.6 645.6,1399.3 652.0,1399.3C658.4,1399.3 656.8,1400.1 662.7,1395.7C668.6,1391.3 664.3,1394.9 669.8,1386.2C675.3,1377.5 672.9,1375.9 679.3,1369.5C685.7,1363.1 682.5,1369.1 688.9,1367.1C695.3,1365.1 691.7,1366.8 698.4,1363.6C705.1,1360.4 702.0,1358.4 709.1,1357.6C716.2,1356.8 712.8,1359.8 719.8,1361.2C726.8,1362.6 724.2,1365.4 730.0,1361.8C735.8,1358.2 731.5,1360.6 737.1,1350.5C742.7,1340.4 741.1,1342.5 746.7,1331.4C752.3,1320.3 748.3,1325.8 753.8,1317.1C759.3,1308.4 756.2,1311.5 763.3,1305.2C770.4,1298.9 768.0,1300.9 775.2,1298.1C782.4,1295.3 778.0,1299.3 784.8,1296.9C791.6,1294.5 788.4,1290.2 795.5,1291.0C802.6,1291.8 799.5,1296.5 806.2,1299.3C812.9,1302.1 809.4,1297.7 815.7,1299.3C822.0,1300.9 818.8,1300.6 825.2,1304.0C831.6,1307.4 829.2,1305.1 834.8,1309.5C840.4,1313.9 837.2,1309.0 841.9,1317.1C846.6,1325.2 845.0,1322.7 849.0,1333.8C853.0,1344.9 850.6,1337.0 853.8,1350.5C857.0,1364.0 855.4,1357.6 858.6,1374.3C861.8,1391.0 860.1,1383.8 863.3,1400.5C866.5,1417.2 864.9,1408.4 868.1,1424.3C871.3,1440.2 869.7,1431.4 872.9,1448.1C876.1,1464.8 874.4,1456.8 877.6,1474.3C880.8,1491.8 879.2,1483.0 882.4,1500.5C885.6,1518.0 883.1,1506.1 887.1,1526.7C891.1,1547.3 890.1,1538.0 894.3,1562.4C898.5,1586.8 895.6,1575.6 899.6,1600.0C903.6,1624.4 901.6,1613.5 906.2,1635.7C910.8,1657.9 907.7,1646.9 913.3,1666.7C918.9,1686.5 916.5,1674.6 922.9,1695.2C929.3,1715.8 926.1,1706.4 932.4,1728.6C938.7,1750.8 935.6,1741.3 941.9,1761.9C948.2,1782.5 945.8,1771.5 951.4,1790.5C957.0,1809.5 953.8,1798.4 958.6,1819.0C963.4,1839.6 960.9,1828.6 965.7,1852.4C970.5,1876.2 968.1,1867.5 972.9,1890.5C977.7,1913.5 975.3,1904.7 980.0,1921.4C984.7,1938.1 981.5,1931.0 987.1,1940.5C992.7,1950.0 990.3,1938.1 996.7,1950.0C1003.1,1961.9 999.9,1958.7 1006.2,1976.2C1012.5,1993.7 1009.4,1986.5 1015.7,2002.4C1022.0,2018.3 1018.1,2013.1 1025.2,2023.8C1032.3,2034.5 1029.2,2029.8 1037.1,2034.5C1045.0,2039.2 1040.3,2037.7 1049.0,2038.0C1057.7,2038.3 1054.6,2038.2 1063.3,2035.5C1072.0,2032.8 1071.2,2031.7 1075.2,2029.8" fill="none" stroke="#da4648" stroke-width="3.4" stroke-linejoin="round" stroke-linecap="round"/>
</g>
<path d="M296.1 1167.6V2038.5" stroke="#aaa" stroke-width="3.5" fill="none"/>
<path d="M1161.8 1167.6V2038.5" stroke="#9c9c9c" stroke-width="3.5" fill="none"/>
<path d="M294.6 1169.1H1163.3M294.6 2037H1163.3" stroke="#9a9a9a" stroke-width="3.6" fill="none"/>
<path d="M296.1 1169.1H1161.8M296.1 2037H1161.8" stroke="#4a4a4a" stroke-width="1.5" fill="none"/>
<path d="M286 1183h10M286 1325.6h10M286 1467.6h10M286 1609.6h10M286 1752.2h10M286 1894.2h10M334.8 2037v8M579.6 2037v8M825.6 2037v8M1071 2037v8" stroke="#7a7a7a" stroke-width="2.4" fill="none"/>
<clipPath id="brClip"><rect x="1466" y="1169" width="868" height="869"/></clipPath>
<g clip-path="url(#brClip)">
<path d="M1505.3,1895.3 1554.5,1883.2 1603.7,1852 1652.9,1777.6 1702.1,1687.5 1751.3,1613 1800.5,1576 1849.7,1575 1898.9,1585 1948.1,1599.2 1997.3,1592.2 2046.5,1594 2095.7,1649.4 2144.9,1749.8 2194.1,1883.2 2243.3,1968.1 2292.5,2035.6" fill="none" stroke="#3a88c4" stroke-width="3.4" stroke-linejoin="round" stroke-linecap="round"/>
<path d="M1505.3,1933.4 1554.5,1909.2 1603.7,1857.2 1652.9,1746.4 1702.1,1621.7 1751.3,1533.4 1800.5,1483.1 1849.7,1458.9 1898.9,1443.3 1948.1,1436.4 1997.3,1443.3 2046.5,1479.7 2095.7,1555.9 2144.9,1687.5 2194.1,1826 2243.3,1936.9 2292.5,2035.6" fill="none" stroke="#ff922a" stroke-width="3.4" stroke-linejoin="round" stroke-linecap="round"/>
<path d="M1505.3,1909.2 1554.5,1864.2 1603.7,1732.5 1652.9,1607.8 1702.1,1523 1751.3,1483.1 1800.5,1471 1849.7,1460.6 1898.9,1457.2 1948.1,1469.3 1997.3,1495.3 2046.5,1555.9 2095.7,1649.4 2144.9,1791.4 2194.1,1936.9 2243.3,2035.6" fill="none" stroke="#45ab45" stroke-width="3.4" stroke-linejoin="round" stroke-linecap="round"/>
<path d="M1505.3,1928.2 1554.5,1890.1 1603.7,1812.2 1652.9,1722.1 1702.1,1659.8 1751.3,1633.8 1800.5,1631.4 1849.7,1640.7 1898.9,1639 1948.1,1632.8 1997.3,1647.7 2046.5,1694.4 2095.7,1781 2144.9,1891.9 2194.1,1968.1 2243.3,2035.6" fill="none" stroke="#da4648" stroke-width="3.4" stroke-linejoin="round" stroke-linecap="round"/>
</g>
<path d="M1466.5 1167V2038.5" stroke="#aaa" stroke-width="3.5" fill="none"/>
<path d="M2334 1167V2038.5" stroke="#9c9c9c" stroke-width="3.5" fill="none"/>
<path d="M1465 1168.5H2335.5M1465 2037H2335.5" stroke="#9a9a9a" stroke-width="3.6" fill="none"/>
<path d="M1466.5 1168.5H2334M1466.5 2037H2334" stroke="#4a4a4a" stroke-width="1.5" fill="none"/>
<path d="M1457.5 1182h9M1457.5 1324.7h9M1457.5 1468.9h9M1457.5 1610h9M1457.5 1751.4h9M1457.5 1894.1h9M1505.6 2037v8M1691.1 2037v8M1876.7 2037v8M2063.5 2037v8M2247.7 2037v8" stroke="#7a7a7a" stroke-width="2.4" fill="none"/>
<text x="456.89" y="75.9" font-size="74.04" textLength="461.95" lengthAdjust="spacingAndGlyphs">Phase Camera</text>
<text x="1803.36" y="81.5" font-size="73.26" textLength="87.59" lengthAdjust="spacingAndGlyphs">SH</text>
<text x="238.7" y="160" font-size="63.08" textLength="32.03" lengthAdjust="spacingAndGlyphs">0</text>
<text x="160.01" y="340" font-size="63.08" textLength="111.06" lengthAdjust="spacingAndGlyphs">100</text>
<text x="161.72" y="521" font-size="62.37" textLength="109.3" lengthAdjust="spacingAndGlyphs">200</text>
<text x="162.56" y="702.5" font-size="63.8" textLength="108.44" lengthAdjust="spacingAndGlyphs">300</text>
<text x="163.55" y="880.5" font-size="62.37" textLength="107.43" lengthAdjust="spacingAndGlyphs">400</text>
<text x="281.29" y="1065" font-size="63.8" textLength="37.62" lengthAdjust="spacingAndGlyphs">0</text>
<text x="413.85" y="1065" font-size="63.8" textLength="110.09" lengthAdjust="spacingAndGlyphs">100</text>
<text x="588.55" y="1065" font-size="63.8" textLength="108.35" lengthAdjust="spacingAndGlyphs">200</text>
<text x="757.54" y="1065" font-size="63.8" textLength="109.59" lengthAdjust="spacingAndGlyphs">300</text>
<text x="940.34" y="1065" font-size="63.8" textLength="108.57" lengthAdjust="spacingAndGlyphs">400</text>
<text x="1178.12" y="196.5" font-size="65.45" textLength="34.14" lengthAdjust="spacingAndGlyphs">4</text>
<text x="1177.05" y="310.6" font-size="64.52" textLength="36.3" lengthAdjust="spacingAndGlyphs">3</text>
<text x="1176.09" y="424.7" font-size="64.52" textLength="37.89" lengthAdjust="spacingAndGlyphs">2</text>
<text x="1174.12" y="538.8" font-size="65.45" textLength="39.86" lengthAdjust="spacingAndGlyphs">1</text>
<text x="1176.9" y="652.9" font-size="64.52" textLength="36.11" lengthAdjust="spacingAndGlyphs">0</text>
<text x="1178.2" y="767" font-size="65.45" textLength="51.45" lengthAdjust="spacingAndGlyphs">-1</text>
<text x="1178.19" y="881.1" font-size="64.52" textLength="51.61" lengthAdjust="spacingAndGlyphs">-2</text>
<text x="1178.21" y="995.2" font-size="64.52" textLength="51.13" lengthAdjust="spacingAndGlyphs">-3</text>
<text x="1081.54" y="87.4" font-size="52.76" textLength="61.67" lengthAdjust="spacingAndGlyphs">10</text>
<text x="1142.41" y="69.5" font-size="35.64" textLength="31.42" lengthAdjust="spacingAndGlyphs">-7</text>
<text x="2265.8" y="92.8" font-size="53.19" textLength="59.32" lengthAdjust="spacingAndGlyphs">10</text>
<text x="2328.26" y="76" font-size="37.38" textLength="30.52" lengthAdjust="spacingAndGlyphs">-7</text>
<text x="1401.34" y="174" font-size="64.8" textLength="36.92" lengthAdjust="spacingAndGlyphs">0</text>
<text x="1403.5" y="306" font-size="65.75" textLength="34.78" lengthAdjust="spacingAndGlyphs">5</text>
<text x="1368.42" y="429.4" font-size="64.8" textLength="73.82" lengthAdjust="spacingAndGlyphs">10</text>
<text x="1367.21" y="556.8" font-size="65.75" textLength="71.1" lengthAdjust="spacingAndGlyphs">15</text>
<text x="1368.82" y="686.5" font-size="64.8" textLength="70.71" lengthAdjust="spacingAndGlyphs">20</text>
<text x="1368.86" y="812.4" font-size="64.8" textLength="69.79" lengthAdjust="spacingAndGlyphs">25</text>
<text x="1369.68" y="938" font-size="64.8" textLength="68.78" lengthAdjust="spacingAndGlyphs">30</text>
<text x="1462.32" y="1065" font-size="63.8" textLength="37.27" lengthAdjust="spacingAndGlyphs">0</text>
<text x="1681.47" y="1065" font-size="63.8" textLength="73.15" lengthAdjust="spacingAndGlyphs">10</text>
<text x="1915.67" y="1065" font-size="63.8" textLength="73.97" lengthAdjust="spacingAndGlyphs">20</text>
<text x="2157.37" y="1065" font-size="63.8" textLength="72.11" lengthAdjust="spacingAndGlyphs">30</text>
<text x="2355.28" y="165.2" font-size="63.66" textLength="33.66" lengthAdjust="spacingAndGlyphs">0</text>
<text x="2354.76" y="275.4" font-size="64.58" textLength="58.05" lengthAdjust="spacingAndGlyphs">-1</text>
<text x="2354.74" y="384.9" font-size="63.66" textLength="58.46" lengthAdjust="spacingAndGlyphs">-2</text>
<text x="2354.78" y="498.6" font-size="63.66" textLength="57.69" lengthAdjust="spacingAndGlyphs">-3</text>
<text x="2354" y="609.5" font-size="64.58" textLength="59.24" lengthAdjust="spacingAndGlyphs">-4</text>
<text x="2359.61" y="724.5" font-size="64.58" textLength="57.06" lengthAdjust="spacingAndGlyphs">-5</text>
<text x="2359.53" y="835.5" font-size="63.66" textLength="58.69" lengthAdjust="spacingAndGlyphs">-6</text>
<text x="2359.58" y="947.1" font-size="64.58" textLength="57.78" lengthAdjust="spacingAndGlyphs">-7</text>
<text x="146.18" y="1215.5" font-size="64.52" textLength="110.88" lengthAdjust="spacingAndGlyphs">600</text>
<text x="146.86" y="1355.9" font-size="64.52" textLength="110.18" lengthAdjust="spacingAndGlyphs">500</text>
<text x="148.03" y="1496.3" font-size="64.52" textLength="108.99" lengthAdjust="spacingAndGlyphs">400</text>
<text x="147.03" y="1636.7" font-size="64.52" textLength="110.01" lengthAdjust="spacingAndGlyphs">300</text>
<text x="146.18" y="1777.1" font-size="64.52" textLength="110.88" lengthAdjust="spacingAndGlyphs">200</text>
<text x="144.44" y="1917.5" font-size="64.52" textLength="112.67" lengthAdjust="spacingAndGlyphs">100</text>
<text x="294.55" y="2117" font-size="63.08" textLength="91.94" lengthAdjust="spacingAndGlyphs">0.0</text>
<text x="536.18" y="2117" font-size="63.08" textLength="91" lengthAdjust="spacingAndGlyphs">0.2</text>
<text x="783.3" y="2117" font-size="63.08" textLength="90.4" lengthAdjust="spacingAndGlyphs">0.4</text>
<text x="1028.37" y="2117" font-size="63.08" textLength="91.44" lengthAdjust="spacingAndGlyphs">0.8</text>
<text x="1320.98" y="1215" font-size="63.08" textLength="107.5" lengthAdjust="spacingAndGlyphs">600</text>
<text x="1321.64" y="1355.5" font-size="63.08" textLength="106.83" lengthAdjust="spacingAndGlyphs">500</text>
<text x="1322.78" y="1496" font-size="63.08" textLength="105.66" lengthAdjust="spacingAndGlyphs">400</text>
<text x="1321.8" y="1636.5" font-size="63.08" textLength="106.66" lengthAdjust="spacingAndGlyphs">300</text>
<text x="1320.98" y="1777" font-size="63.08" textLength="107.5" lengthAdjust="spacingAndGlyphs">200</text>
<text x="1319.29" y="1917.5" font-size="63.08" textLength="109.23" lengthAdjust="spacingAndGlyphs">100</text>
<text x="1462.28" y="2109.6" font-size="62.22" textLength="91.09" lengthAdjust="spacingAndGlyphs">0.0</text>
<text x="1653.74" y="2114.6" font-size="62.94" textLength="88.97" lengthAdjust="spacingAndGlyphs">0.2</text>
<text x="1836.42" y="2114.6" font-size="62.94" textLength="89.56" lengthAdjust="spacingAndGlyphs">0.4</text>
<text x="2022" y="2114.6" font-size="62.94" textLength="90.48" lengthAdjust="spacingAndGlyphs">0.6</text>
<text x="2208.83" y="2114.6" font-size="62.94" textLength="92.82" lengthAdjust="spacingAndGlyphs">0.8</text>
<text x="499.49" y="2222.3" font-size="65.89" textLength="353.7" lengthAdjust="spacingAndGlyphs">Length(mm)</text>
<text x="1728.69" y="2229" font-size="62.55" textLength="353.29" lengthAdjust="spacingAndGlyphs">Length(mm)</text>
<text transform="translate(65.3 1710) rotate(-90)" x="-5.41983" y="0" font-size="66.6182" textLength="324.923" lengthAdjust="spacingAndGlyphs">Height(nm)</text>
<text transform="translate(1238.5 1711) rotate(-90)" x="-5.41124" y="0" font-size="65.4545" textLength="324.408" lengthAdjust="spacingAndGlyphs">Height(nm)</text>
</svg></body></html>
